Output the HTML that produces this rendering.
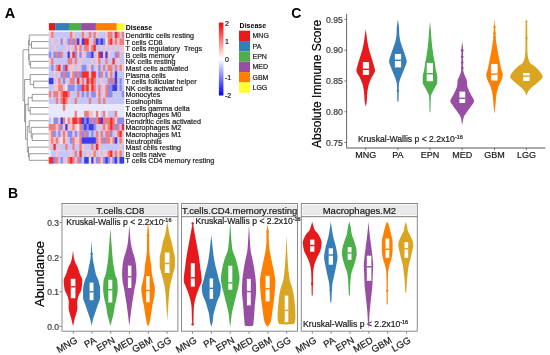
<!DOCTYPE html>
<html><head><meta charset="utf-8"><title>Figure</title>
<style>html,body{margin:0;padding:0;background:#fff;width:550px;height:355px;overflow:hidden}text{font-family:'Liberation Sans', sans-serif}</style></head>
<body><div style="width:550px;height:355px;background:#fff;will-change:transform"><svg width="550" height="355" viewBox="0 0 550 355" style="display:block;font-family:'Liberation Sans', sans-serif"><text x="4.8" y="17.9" font-size="14.5" fill="#000" stroke="#000" stroke-width="0" text-anchor="start" font-weight="bold" >A</text>
<rect x="48.9" y="23.1" width="6.20" height="7.3" fill="#E41A1C"/>
<rect x="55.1" y="23.1" width="13.90" height="7.3" fill="#377EB8"/>
<rect x="69.0" y="23.1" width="12.10" height="7.3" fill="#4DAF4A"/>
<rect x="81.1" y="23.1" width="14.80" height="7.3" fill="#984EA3"/>
<rect x="95.9" y="23.1" width="20.90" height="7.3" fill="#FF7F00"/>
<rect x="116.8" y="23.1" width="7.40" height="7.3" fill="#FFFF33"/>
<text x="125.7" y="29.9" font-size="7" fill="#000" stroke="#000" stroke-width="0" text-anchor="start" font-weight="bold" >Disease</text>
<defs><linearGradient id="hr0" gradientUnits="userSpaceOnUse" x1="48.70" y1="0" x2="124.20" y2="0"><stop offset="0.0000" stop-color="rgb(246,196,200)"/><stop offset="0.0233" stop-color="rgb(246,196,200)"/><stop offset="0.0392" stop-color="rgb(240,125,125)"/><stop offset="0.0546" stop-color="rgb(240,125,125)"/><stop offset="0.0704" stop-color="rgb(198,198,246)"/><stop offset="0.0858" stop-color="rgb(198,198,246)"/><stop offset="0.1017" stop-color="rgb(198,198,246)"/><stop offset="0.1171" stop-color="rgb(198,198,246)"/><stop offset="0.1329" stop-color="rgb(198,198,246)"/><stop offset="0.1483" stop-color="rgb(198,198,246)"/><stop offset="0.1642" stop-color="rgb(198,198,246)"/><stop offset="0.1796" stop-color="rgb(198,198,246)"/><stop offset="0.1954" stop-color="rgb(198,198,246)"/><stop offset="0.2108" stop-color="rgb(198,198,246)"/><stop offset="0.2267" stop-color="rgb(198,198,246)"/><stop offset="0.2421" stop-color="rgb(198,198,246)"/><stop offset="0.2579" stop-color="rgb(198,198,246)"/><stop offset="0.2733" stop-color="rgb(198,198,246)"/><stop offset="0.2892" stop-color="rgb(240,125,125)"/><stop offset="0.3046" stop-color="rgb(240,125,125)"/><stop offset="0.3204" stop-color="rgb(246,196,200)"/><stop offset="0.3358" stop-color="rgb(246,196,200)"/><stop offset="0.3517" stop-color="rgb(198,198,246)"/><stop offset="0.3671" stop-color="rgb(198,198,246)"/><stop offset="0.3829" stop-color="rgb(198,198,246)"/><stop offset="0.3983" stop-color="rgb(198,198,246)"/><stop offset="0.4142" stop-color="rgb(198,198,246)"/><stop offset="0.4296" stop-color="rgb(198,198,246)"/><stop offset="0.4454" stop-color="rgb(240,125,125)"/><stop offset="0.4608" stop-color="rgb(240,125,125)"/><stop offset="0.4767" stop-color="rgb(246,196,200)"/><stop offset="0.4921" stop-color="rgb(246,196,200)"/><stop offset="0.5079" stop-color="rgb(198,198,246)"/><stop offset="0.5233" stop-color="rgb(198,198,246)"/><stop offset="0.5392" stop-color="rgb(240,125,125)"/><stop offset="0.5546" stop-color="rgb(240,125,125)"/><stop offset="0.5704" stop-color="rgb(198,198,246)"/><stop offset="0.5858" stop-color="rgb(198,198,246)"/><stop offset="0.6017" stop-color="rgb(240,125,125)"/><stop offset="0.6171" stop-color="rgb(240,125,125)"/><stop offset="0.6329" stop-color="rgb(246,196,200)"/><stop offset="0.6483" stop-color="rgb(246,196,200)"/><stop offset="0.6642" stop-color="rgb(198,198,246)"/><stop offset="0.6796" stop-color="rgb(198,198,246)"/><stop offset="0.6954" stop-color="rgb(198,198,246)"/><stop offset="0.7108" stop-color="rgb(198,198,246)"/><stop offset="0.7267" stop-color="rgb(198,198,246)"/><stop offset="0.7421" stop-color="rgb(198,198,246)"/><stop offset="0.7579" stop-color="rgb(246,196,200)"/><stop offset="0.7733" stop-color="rgb(246,196,200)"/><stop offset="0.7892" stop-color="rgb(240,125,125)"/><stop offset="0.8046" stop-color="rgb(240,125,125)"/><stop offset="0.8204" stop-color="rgb(240,125,125)"/><stop offset="0.8358" stop-color="rgb(240,125,125)"/><stop offset="0.8517" stop-color="rgb(198,198,246)"/><stop offset="0.8671" stop-color="rgb(198,198,246)"/><stop offset="0.8829" stop-color="rgb(245,45,45)"/><stop offset="0.8983" stop-color="rgb(245,45,45)"/><stop offset="0.9142" stop-color="rgb(240,125,125)"/><stop offset="0.9296" stop-color="rgb(240,125,125)"/><stop offset="0.9454" stop-color="rgb(198,198,246)"/><stop offset="0.9608" stop-color="rgb(198,198,246)"/><stop offset="0.9767" stop-color="rgb(240,125,125)"/><stop offset="1.0000" stop-color="rgb(240,125,125)"/></linearGradient><linearGradient id="hr1" gradientUnits="userSpaceOnUse" x1="48.70" y1="0" x2="124.20" y2="0"><stop offset="0.0000" stop-color="rgb(198,198,246)"/><stop offset="0.0233" stop-color="rgb(198,198,246)"/><stop offset="0.0392" stop-color="rgb(246,196,200)"/><stop offset="0.0546" stop-color="rgb(246,196,200)"/><stop offset="0.0704" stop-color="rgb(198,198,246)"/><stop offset="0.0858" stop-color="rgb(198,198,246)"/><stop offset="0.1017" stop-color="rgb(198,198,246)"/><stop offset="0.1171" stop-color="rgb(198,198,246)"/><stop offset="0.1329" stop-color="rgb(246,196,200)"/><stop offset="0.1483" stop-color="rgb(246,196,200)"/><stop offset="0.1642" stop-color="rgb(140,140,240)"/><stop offset="0.1796" stop-color="rgb(140,140,240)"/><stop offset="0.1954" stop-color="rgb(246,196,200)"/><stop offset="0.2108" stop-color="rgb(246,196,200)"/><stop offset="0.2267" stop-color="rgb(198,198,246)"/><stop offset="0.2421" stop-color="rgb(198,198,246)"/><stop offset="0.2579" stop-color="rgb(140,140,240)"/><stop offset="0.2733" stop-color="rgb(140,140,240)"/><stop offset="0.2892" stop-color="rgb(240,125,125)"/><stop offset="0.3046" stop-color="rgb(240,125,125)"/><stop offset="0.3204" stop-color="rgb(140,140,240)"/><stop offset="0.3358" stop-color="rgb(140,140,240)"/><stop offset="0.3517" stop-color="rgb(240,125,125)"/><stop offset="0.3671" stop-color="rgb(240,125,125)"/><stop offset="0.3829" stop-color="rgb(60,60,236)"/><stop offset="0.3983" stop-color="rgb(60,60,236)"/><stop offset="0.4142" stop-color="rgb(246,196,200)"/><stop offset="0.4296" stop-color="rgb(246,196,200)"/><stop offset="0.4454" stop-color="rgb(60,60,236)"/><stop offset="0.4608" stop-color="rgb(60,60,236)"/><stop offset="0.4767" stop-color="rgb(245,45,45)"/><stop offset="0.4921" stop-color="rgb(245,45,45)"/><stop offset="0.5079" stop-color="rgb(245,45,45)"/><stop offset="0.5233" stop-color="rgb(245,45,45)"/><stop offset="0.5392" stop-color="rgb(246,196,200)"/><stop offset="0.5546" stop-color="rgb(246,196,200)"/><stop offset="0.5704" stop-color="rgb(198,198,246)"/><stop offset="0.5858" stop-color="rgb(198,198,246)"/><stop offset="0.6017" stop-color="rgb(240,125,125)"/><stop offset="0.6171" stop-color="rgb(240,125,125)"/><stop offset="0.6329" stop-color="rgb(60,60,236)"/><stop offset="0.6483" stop-color="rgb(60,60,236)"/><stop offset="0.6642" stop-color="rgb(140,140,240)"/><stop offset="0.6796" stop-color="rgb(140,140,240)"/><stop offset="0.6954" stop-color="rgb(60,60,236)"/><stop offset="0.7108" stop-color="rgb(60,60,236)"/><stop offset="0.7267" stop-color="rgb(140,140,240)"/><stop offset="0.7421" stop-color="rgb(140,140,240)"/><stop offset="0.7579" stop-color="rgb(232,232,250)"/><stop offset="0.7733" stop-color="rgb(232,232,250)"/><stop offset="0.7892" stop-color="rgb(240,125,125)"/><stop offset="0.8046" stop-color="rgb(240,125,125)"/><stop offset="0.8204" stop-color="rgb(245,45,45)"/><stop offset="0.8358" stop-color="rgb(245,45,45)"/><stop offset="0.8517" stop-color="rgb(246,196,200)"/><stop offset="0.8671" stop-color="rgb(246,196,200)"/><stop offset="0.8829" stop-color="rgb(240,125,125)"/><stop offset="0.8983" stop-color="rgb(240,125,125)"/><stop offset="0.9142" stop-color="rgb(246,196,200)"/><stop offset="0.9296" stop-color="rgb(246,196,200)"/><stop offset="0.9454" stop-color="rgb(240,125,125)"/><stop offset="0.9608" stop-color="rgb(240,125,125)"/><stop offset="0.9767" stop-color="rgb(240,125,125)"/><stop offset="1.0000" stop-color="rgb(240,125,125)"/></linearGradient><linearGradient id="hr2" gradientUnits="userSpaceOnUse" x1="48.70" y1="0" x2="124.20" y2="0"><stop offset="0.0000" stop-color="rgb(198,198,246)"/><stop offset="0.0233" stop-color="rgb(198,198,246)"/><stop offset="0.0392" stop-color="rgb(198,198,246)"/><stop offset="0.0546" stop-color="rgb(198,198,246)"/><stop offset="0.0704" stop-color="rgb(246,196,200)"/><stop offset="0.0858" stop-color="rgb(246,196,200)"/><stop offset="0.1017" stop-color="rgb(198,198,246)"/><stop offset="0.1171" stop-color="rgb(198,198,246)"/><stop offset="0.1329" stop-color="rgb(198,198,246)"/><stop offset="0.1483" stop-color="rgb(198,198,246)"/><stop offset="0.1642" stop-color="rgb(198,198,246)"/><stop offset="0.1796" stop-color="rgb(198,198,246)"/><stop offset="0.1954" stop-color="rgb(198,198,246)"/><stop offset="0.2108" stop-color="rgb(198,198,246)"/><stop offset="0.2267" stop-color="rgb(246,196,200)"/><stop offset="0.2421" stop-color="rgb(246,196,200)"/><stop offset="0.2579" stop-color="rgb(198,198,246)"/><stop offset="0.2733" stop-color="rgb(198,198,246)"/><stop offset="0.2892" stop-color="rgb(246,196,200)"/><stop offset="0.3046" stop-color="rgb(246,196,200)"/><stop offset="0.3204" stop-color="rgb(198,198,246)"/><stop offset="0.3358" stop-color="rgb(198,198,246)"/><stop offset="0.3517" stop-color="rgb(240,125,125)"/><stop offset="0.3671" stop-color="rgb(240,125,125)"/><stop offset="0.3829" stop-color="rgb(246,196,200)"/><stop offset="0.3983" stop-color="rgb(246,196,200)"/><stop offset="0.4142" stop-color="rgb(240,125,125)"/><stop offset="0.4296" stop-color="rgb(240,125,125)"/><stop offset="0.4454" stop-color="rgb(198,198,246)"/><stop offset="0.4608" stop-color="rgb(198,198,246)"/><stop offset="0.4767" stop-color="rgb(240,125,125)"/><stop offset="0.4921" stop-color="rgb(240,125,125)"/><stop offset="0.5079" stop-color="rgb(240,125,125)"/><stop offset="0.5233" stop-color="rgb(240,125,125)"/><stop offset="0.5392" stop-color="rgb(246,196,200)"/><stop offset="0.5546" stop-color="rgb(246,196,200)"/><stop offset="0.5704" stop-color="rgb(240,125,125)"/><stop offset="0.5858" stop-color="rgb(240,125,125)"/><stop offset="0.6017" stop-color="rgb(245,45,45)"/><stop offset="0.6171" stop-color="rgb(245,45,45)"/><stop offset="0.6329" stop-color="rgb(198,198,246)"/><stop offset="0.6483" stop-color="rgb(198,198,246)"/><stop offset="0.6642" stop-color="rgb(198,198,246)"/><stop offset="0.6796" stop-color="rgb(198,198,246)"/><stop offset="0.6954" stop-color="rgb(246,196,200)"/><stop offset="0.7108" stop-color="rgb(246,196,200)"/><stop offset="0.7267" stop-color="rgb(198,198,246)"/><stop offset="0.7421" stop-color="rgb(198,198,246)"/><stop offset="0.7579" stop-color="rgb(246,196,200)"/><stop offset="0.7733" stop-color="rgb(246,196,200)"/><stop offset="0.7892" stop-color="rgb(198,198,246)"/><stop offset="0.8046" stop-color="rgb(198,198,246)"/><stop offset="0.8204" stop-color="rgb(246,196,200)"/><stop offset="0.8358" stop-color="rgb(246,196,200)"/><stop offset="0.8517" stop-color="rgb(198,198,246)"/><stop offset="0.8671" stop-color="rgb(198,198,246)"/><stop offset="0.8829" stop-color="rgb(246,196,200)"/><stop offset="0.8983" stop-color="rgb(246,196,200)"/><stop offset="0.9142" stop-color="rgb(198,198,246)"/><stop offset="0.9296" stop-color="rgb(198,198,246)"/><stop offset="0.9454" stop-color="rgb(246,196,200)"/><stop offset="0.9608" stop-color="rgb(246,196,200)"/><stop offset="0.9767" stop-color="rgb(246,196,200)"/><stop offset="1.0000" stop-color="rgb(246,196,200)"/></linearGradient><linearGradient id="hr3" gradientUnits="userSpaceOnUse" x1="48.70" y1="0" x2="124.20" y2="0"><stop offset="0.0000" stop-color="rgb(140,140,240)"/><stop offset="0.0233" stop-color="rgb(140,140,240)"/><stop offset="0.0392" stop-color="rgb(198,198,246)"/><stop offset="0.0546" stop-color="rgb(198,198,246)"/><stop offset="0.0704" stop-color="rgb(140,140,240)"/><stop offset="0.0858" stop-color="rgb(140,140,240)"/><stop offset="0.1017" stop-color="rgb(240,125,125)"/><stop offset="0.1171" stop-color="rgb(240,125,125)"/><stop offset="0.1329" stop-color="rgb(140,140,240)"/><stop offset="0.1483" stop-color="rgb(140,140,240)"/><stop offset="0.1642" stop-color="rgb(240,125,125)"/><stop offset="0.1796" stop-color="rgb(240,125,125)"/><stop offset="0.1954" stop-color="rgb(198,198,246)"/><stop offset="0.2108" stop-color="rgb(198,198,246)"/><stop offset="0.2267" stop-color="rgb(198,198,246)"/><stop offset="0.2421" stop-color="rgb(198,198,246)"/><stop offset="0.2579" stop-color="rgb(60,60,236)"/><stop offset="0.2733" stop-color="rgb(60,60,236)"/><stop offset="0.2892" stop-color="rgb(246,196,200)"/><stop offset="0.3046" stop-color="rgb(246,196,200)"/><stop offset="0.3204" stop-color="rgb(245,45,45)"/><stop offset="0.3358" stop-color="rgb(245,45,45)"/><stop offset="0.3517" stop-color="rgb(140,140,240)"/><stop offset="0.3671" stop-color="rgb(140,140,240)"/><stop offset="0.3829" stop-color="rgb(246,196,200)"/><stop offset="0.3983" stop-color="rgb(246,196,200)"/><stop offset="0.4142" stop-color="rgb(140,140,240)"/><stop offset="0.4296" stop-color="rgb(140,140,240)"/><stop offset="0.4454" stop-color="rgb(246,196,200)"/><stop offset="0.4608" stop-color="rgb(246,196,200)"/><stop offset="0.4767" stop-color="rgb(198,198,246)"/><stop offset="0.4921" stop-color="rgb(198,198,246)"/><stop offset="0.5079" stop-color="rgb(140,140,240)"/><stop offset="0.5233" stop-color="rgb(140,140,240)"/><stop offset="0.5392" stop-color="rgb(140,140,240)"/><stop offset="0.5546" stop-color="rgb(140,140,240)"/><stop offset="0.5704" stop-color="rgb(60,60,236)"/><stop offset="0.5858" stop-color="rgb(60,60,236)"/><stop offset="0.6017" stop-color="rgb(198,198,246)"/><stop offset="0.6171" stop-color="rgb(198,198,246)"/><stop offset="0.6329" stop-color="rgb(246,196,200)"/><stop offset="0.6483" stop-color="rgb(246,196,200)"/><stop offset="0.6642" stop-color="rgb(245,45,45)"/><stop offset="0.6796" stop-color="rgb(245,45,45)"/><stop offset="0.6954" stop-color="rgb(60,60,236)"/><stop offset="0.7108" stop-color="rgb(60,60,236)"/><stop offset="0.7267" stop-color="rgb(246,196,200)"/><stop offset="0.7421" stop-color="rgb(246,196,200)"/><stop offset="0.7579" stop-color="rgb(60,60,236)"/><stop offset="0.7733" stop-color="rgb(60,60,236)"/><stop offset="0.7892" stop-color="rgb(246,196,200)"/><stop offset="0.8046" stop-color="rgb(246,196,200)"/><stop offset="0.8204" stop-color="rgb(198,198,246)"/><stop offset="0.8358" stop-color="rgb(198,198,246)"/><stop offset="0.8517" stop-color="rgb(198,198,246)"/><stop offset="0.8671" stop-color="rgb(198,198,246)"/><stop offset="0.8829" stop-color="rgb(140,140,240)"/><stop offset="0.8983" stop-color="rgb(140,140,240)"/><stop offset="0.9142" stop-color="rgb(240,125,125)"/><stop offset="0.9296" stop-color="rgb(240,125,125)"/><stop offset="0.9454" stop-color="rgb(198,198,246)"/><stop offset="0.9608" stop-color="rgb(198,198,246)"/><stop offset="0.9767" stop-color="rgb(198,198,246)"/><stop offset="1.0000" stop-color="rgb(198,198,246)"/></linearGradient><linearGradient id="hr4" gradientUnits="userSpaceOnUse" x1="48.70" y1="0" x2="124.20" y2="0"><stop offset="0.0000" stop-color="rgb(246,196,200)"/><stop offset="0.0233" stop-color="rgb(246,196,200)"/><stop offset="0.0392" stop-color="rgb(240,125,125)"/><stop offset="0.0546" stop-color="rgb(240,125,125)"/><stop offset="0.0704" stop-color="rgb(198,198,246)"/><stop offset="0.0858" stop-color="rgb(198,198,246)"/><stop offset="0.1017" stop-color="rgb(198,198,246)"/><stop offset="0.1171" stop-color="rgb(198,198,246)"/><stop offset="0.1329" stop-color="rgb(198,198,246)"/><stop offset="0.1483" stop-color="rgb(198,198,246)"/><stop offset="0.1642" stop-color="rgb(198,198,246)"/><stop offset="0.1796" stop-color="rgb(198,198,246)"/><stop offset="0.1954" stop-color="rgb(198,198,246)"/><stop offset="0.2108" stop-color="rgb(198,198,246)"/><stop offset="0.2267" stop-color="rgb(198,198,246)"/><stop offset="0.2421" stop-color="rgb(198,198,246)"/><stop offset="0.2579" stop-color="rgb(240,125,125)"/><stop offset="0.2733" stop-color="rgb(240,125,125)"/><stop offset="0.2892" stop-color="rgb(240,125,125)"/><stop offset="0.3046" stop-color="rgb(240,125,125)"/><stop offset="0.3204" stop-color="rgb(198,198,246)"/><stop offset="0.3358" stop-color="rgb(198,198,246)"/><stop offset="0.3517" stop-color="rgb(240,125,125)"/><stop offset="0.3671" stop-color="rgb(240,125,125)"/><stop offset="0.3829" stop-color="rgb(198,198,246)"/><stop offset="0.3983" stop-color="rgb(198,198,246)"/><stop offset="0.4142" stop-color="rgb(246,196,200)"/><stop offset="0.4296" stop-color="rgb(246,196,200)"/><stop offset="0.4454" stop-color="rgb(198,198,246)"/><stop offset="0.4608" stop-color="rgb(198,198,246)"/><stop offset="0.4767" stop-color="rgb(198,198,246)"/><stop offset="0.4921" stop-color="rgb(198,198,246)"/><stop offset="0.5079" stop-color="rgb(198,198,246)"/><stop offset="0.5233" stop-color="rgb(198,198,246)"/><stop offset="0.5392" stop-color="rgb(198,198,246)"/><stop offset="0.5546" stop-color="rgb(198,198,246)"/><stop offset="0.5704" stop-color="rgb(246,196,200)"/><stop offset="0.5858" stop-color="rgb(246,196,200)"/><stop offset="0.6017" stop-color="rgb(198,198,246)"/><stop offset="0.6171" stop-color="rgb(198,198,246)"/><stop offset="0.6329" stop-color="rgb(246,196,200)"/><stop offset="0.6483" stop-color="rgb(246,196,200)"/><stop offset="0.6642" stop-color="rgb(240,125,125)"/><stop offset="0.6796" stop-color="rgb(240,125,125)"/><stop offset="0.6954" stop-color="rgb(198,198,246)"/><stop offset="0.7108" stop-color="rgb(198,198,246)"/><stop offset="0.7267" stop-color="rgb(198,198,246)"/><stop offset="0.7421" stop-color="rgb(198,198,246)"/><stop offset="0.7579" stop-color="rgb(240,125,125)"/><stop offset="0.7733" stop-color="rgb(240,125,125)"/><stop offset="0.7892" stop-color="rgb(198,198,246)"/><stop offset="0.8046" stop-color="rgb(198,198,246)"/><stop offset="0.8204" stop-color="rgb(198,198,246)"/><stop offset="0.8358" stop-color="rgb(198,198,246)"/><stop offset="0.8517" stop-color="rgb(245,45,45)"/><stop offset="0.8671" stop-color="rgb(245,45,45)"/><stop offset="0.8829" stop-color="rgb(198,198,246)"/><stop offset="0.8983" stop-color="rgb(198,198,246)"/><stop offset="0.9142" stop-color="rgb(246,196,200)"/><stop offset="0.9296" stop-color="rgb(246,196,200)"/><stop offset="0.9454" stop-color="rgb(198,198,246)"/><stop offset="0.9608" stop-color="rgb(198,198,246)"/><stop offset="0.9767" stop-color="rgb(198,198,246)"/><stop offset="1.0000" stop-color="rgb(198,198,246)"/></linearGradient><linearGradient id="hr5" gradientUnits="userSpaceOnUse" x1="48.70" y1="0" x2="124.20" y2="0"><stop offset="0.0000" stop-color="rgb(198,198,246)"/><stop offset="0.0233" stop-color="rgb(198,198,246)"/><stop offset="0.0392" stop-color="rgb(140,140,240)"/><stop offset="0.0546" stop-color="rgb(140,140,240)"/><stop offset="0.0704" stop-color="rgb(198,198,246)"/><stop offset="0.0858" stop-color="rgb(198,198,246)"/><stop offset="0.1017" stop-color="rgb(240,125,125)"/><stop offset="0.1171" stop-color="rgb(240,125,125)"/><stop offset="0.1329" stop-color="rgb(245,45,45)"/><stop offset="0.1483" stop-color="rgb(245,45,45)"/><stop offset="0.1642" stop-color="rgb(198,198,246)"/><stop offset="0.1796" stop-color="rgb(198,198,246)"/><stop offset="0.1954" stop-color="rgb(140,140,240)"/><stop offset="0.2108" stop-color="rgb(140,140,240)"/><stop offset="0.2267" stop-color="rgb(245,45,45)"/><stop offset="0.2421" stop-color="rgb(245,45,45)"/><stop offset="0.2579" stop-color="rgb(198,198,246)"/><stop offset="0.2733" stop-color="rgb(198,198,246)"/><stop offset="0.2892" stop-color="rgb(246,196,200)"/><stop offset="0.3046" stop-color="rgb(246,196,200)"/><stop offset="0.3204" stop-color="rgb(246,196,200)"/><stop offset="0.3358" stop-color="rgb(246,196,200)"/><stop offset="0.3517" stop-color="rgb(198,198,246)"/><stop offset="0.3671" stop-color="rgb(198,198,246)"/><stop offset="0.3829" stop-color="rgb(246,196,200)"/><stop offset="0.3983" stop-color="rgb(246,196,200)"/><stop offset="0.4142" stop-color="rgb(198,198,246)"/><stop offset="0.4296" stop-color="rgb(198,198,246)"/><stop offset="0.4454" stop-color="rgb(140,140,240)"/><stop offset="0.4608" stop-color="rgb(140,140,240)"/><stop offset="0.4767" stop-color="rgb(140,140,240)"/><stop offset="0.4921" stop-color="rgb(140,140,240)"/><stop offset="0.5079" stop-color="rgb(198,198,246)"/><stop offset="0.5233" stop-color="rgb(198,198,246)"/><stop offset="0.5392" stop-color="rgb(246,196,200)"/><stop offset="0.5546" stop-color="rgb(246,196,200)"/><stop offset="0.5704" stop-color="rgb(140,140,240)"/><stop offset="0.5858" stop-color="rgb(140,140,240)"/><stop offset="0.6017" stop-color="rgb(198,198,246)"/><stop offset="0.6171" stop-color="rgb(198,198,246)"/><stop offset="0.6329" stop-color="rgb(246,196,200)"/><stop offset="0.6483" stop-color="rgb(246,196,200)"/><stop offset="0.6642" stop-color="rgb(140,140,240)"/><stop offset="0.6796" stop-color="rgb(140,140,240)"/><stop offset="0.6954" stop-color="rgb(198,198,246)"/><stop offset="0.7108" stop-color="rgb(198,198,246)"/><stop offset="0.7267" stop-color="rgb(240,125,125)"/><stop offset="0.7421" stop-color="rgb(240,125,125)"/><stop offset="0.7579" stop-color="rgb(198,198,246)"/><stop offset="0.7733" stop-color="rgb(198,198,246)"/><stop offset="0.7892" stop-color="rgb(240,125,125)"/><stop offset="0.8046" stop-color="rgb(240,125,125)"/><stop offset="0.8204" stop-color="rgb(240,125,125)"/><stop offset="0.8358" stop-color="rgb(240,125,125)"/><stop offset="0.8517" stop-color="rgb(198,198,246)"/><stop offset="0.8671" stop-color="rgb(198,198,246)"/><stop offset="0.8829" stop-color="rgb(240,125,125)"/><stop offset="0.8983" stop-color="rgb(240,125,125)"/><stop offset="0.9142" stop-color="rgb(198,198,246)"/><stop offset="0.9296" stop-color="rgb(198,198,246)"/><stop offset="0.9454" stop-color="rgb(240,125,125)"/><stop offset="0.9608" stop-color="rgb(240,125,125)"/><stop offset="0.9767" stop-color="rgb(246,196,200)"/><stop offset="1.0000" stop-color="rgb(246,196,200)"/></linearGradient><linearGradient id="hr6" gradientUnits="userSpaceOnUse" x1="48.70" y1="0" x2="124.20" y2="0"><stop offset="0.0000" stop-color="rgb(198,198,246)"/><stop offset="0.0233" stop-color="rgb(198,198,246)"/><stop offset="0.0392" stop-color="rgb(198,198,246)"/><stop offset="0.0546" stop-color="rgb(198,198,246)"/><stop offset="0.0704" stop-color="rgb(246,196,200)"/><stop offset="0.0858" stop-color="rgb(246,196,200)"/><stop offset="0.1017" stop-color="rgb(198,198,246)"/><stop offset="0.1171" stop-color="rgb(198,198,246)"/><stop offset="0.1329" stop-color="rgb(246,196,200)"/><stop offset="0.1483" stop-color="rgb(246,196,200)"/><stop offset="0.1642" stop-color="rgb(140,140,240)"/><stop offset="0.1796" stop-color="rgb(140,140,240)"/><stop offset="0.1954" stop-color="rgb(240,125,125)"/><stop offset="0.2108" stop-color="rgb(240,125,125)"/><stop offset="0.2267" stop-color="rgb(140,140,240)"/><stop offset="0.2421" stop-color="rgb(140,140,240)"/><stop offset="0.2579" stop-color="rgb(140,140,240)"/><stop offset="0.2733" stop-color="rgb(140,140,240)"/><stop offset="0.2892" stop-color="rgb(246,196,200)"/><stop offset="0.3046" stop-color="rgb(246,196,200)"/><stop offset="0.3204" stop-color="rgb(240,125,125)"/><stop offset="0.3358" stop-color="rgb(240,125,125)"/><stop offset="0.3517" stop-color="rgb(140,140,240)"/><stop offset="0.3671" stop-color="rgb(140,140,240)"/><stop offset="0.3829" stop-color="rgb(240,125,125)"/><stop offset="0.3983" stop-color="rgb(240,125,125)"/><stop offset="0.4142" stop-color="rgb(140,140,240)"/><stop offset="0.4296" stop-color="rgb(140,140,240)"/><stop offset="0.4454" stop-color="rgb(245,45,45)"/><stop offset="0.4608" stop-color="rgb(245,45,45)"/><stop offset="0.4767" stop-color="rgb(245,45,45)"/><stop offset="0.4921" stop-color="rgb(245,45,45)"/><stop offset="0.5079" stop-color="rgb(245,45,45)"/><stop offset="0.5233" stop-color="rgb(245,45,45)"/><stop offset="0.5392" stop-color="rgb(246,196,200)"/><stop offset="0.5546" stop-color="rgb(246,196,200)"/><stop offset="0.5704" stop-color="rgb(245,45,45)"/><stop offset="0.5858" stop-color="rgb(245,45,45)"/><stop offset="0.6017" stop-color="rgb(245,45,45)"/><stop offset="0.6171" stop-color="rgb(245,45,45)"/><stop offset="0.6329" stop-color="rgb(198,198,246)"/><stop offset="0.6483" stop-color="rgb(198,198,246)"/><stop offset="0.6642" stop-color="rgb(140,140,240)"/><stop offset="0.6796" stop-color="rgb(140,140,240)"/><stop offset="0.6954" stop-color="rgb(240,125,125)"/><stop offset="0.7108" stop-color="rgb(240,125,125)"/><stop offset="0.7267" stop-color="rgb(198,198,246)"/><stop offset="0.7421" stop-color="rgb(198,198,246)"/><stop offset="0.7579" stop-color="rgb(140,140,240)"/><stop offset="0.7733" stop-color="rgb(140,140,240)"/><stop offset="0.7892" stop-color="rgb(246,196,200)"/><stop offset="0.8046" stop-color="rgb(246,196,200)"/><stop offset="0.8204" stop-color="rgb(240,125,125)"/><stop offset="0.8358" stop-color="rgb(240,125,125)"/><stop offset="0.8517" stop-color="rgb(198,198,246)"/><stop offset="0.8671" stop-color="rgb(198,198,246)"/><stop offset="0.8829" stop-color="rgb(60,60,236)"/><stop offset="0.8983" stop-color="rgb(60,60,236)"/><stop offset="0.9142" stop-color="rgb(198,198,246)"/><stop offset="0.9296" stop-color="rgb(198,198,246)"/><stop offset="0.9454" stop-color="rgb(198,198,246)"/><stop offset="0.9608" stop-color="rgb(198,198,246)"/><stop offset="0.9767" stop-color="rgb(198,198,246)"/><stop offset="1.0000" stop-color="rgb(198,198,246)"/></linearGradient><linearGradient id="hr7" gradientUnits="userSpaceOnUse" x1="48.70" y1="0" x2="124.20" y2="0"><stop offset="0.0000" stop-color="rgb(60,60,236)"/><stop offset="0.0233" stop-color="rgb(60,60,236)"/><stop offset="0.0392" stop-color="rgb(60,60,236)"/><stop offset="0.0546" stop-color="rgb(60,60,236)"/><stop offset="0.0704" stop-color="rgb(198,198,246)"/><stop offset="0.0858" stop-color="rgb(198,198,246)"/><stop offset="0.1017" stop-color="rgb(246,196,200)"/><stop offset="0.1171" stop-color="rgb(246,196,200)"/><stop offset="0.1329" stop-color="rgb(240,125,125)"/><stop offset="0.1483" stop-color="rgb(240,125,125)"/><stop offset="0.1642" stop-color="rgb(198,198,246)"/><stop offset="0.1796" stop-color="rgb(198,198,246)"/><stop offset="0.1954" stop-color="rgb(140,140,240)"/><stop offset="0.2108" stop-color="rgb(140,140,240)"/><stop offset="0.2267" stop-color="rgb(246,196,200)"/><stop offset="0.2421" stop-color="rgb(246,196,200)"/><stop offset="0.2579" stop-color="rgb(198,198,246)"/><stop offset="0.2733" stop-color="rgb(198,198,246)"/><stop offset="0.2892" stop-color="rgb(240,125,125)"/><stop offset="0.3046" stop-color="rgb(240,125,125)"/><stop offset="0.3204" stop-color="rgb(240,125,125)"/><stop offset="0.3358" stop-color="rgb(240,125,125)"/><stop offset="0.3517" stop-color="rgb(198,198,246)"/><stop offset="0.3671" stop-color="rgb(198,198,246)"/><stop offset="0.3829" stop-color="rgb(245,45,45)"/><stop offset="0.3983" stop-color="rgb(245,45,45)"/><stop offset="0.4142" stop-color="rgb(246,196,200)"/><stop offset="0.4296" stop-color="rgb(246,196,200)"/><stop offset="0.4454" stop-color="rgb(240,125,125)"/><stop offset="0.4608" stop-color="rgb(240,125,125)"/><stop offset="0.4767" stop-color="rgb(198,198,246)"/><stop offset="0.4921" stop-color="rgb(198,198,246)"/><stop offset="0.5079" stop-color="rgb(245,45,45)"/><stop offset="0.5233" stop-color="rgb(245,45,45)"/><stop offset="0.5392" stop-color="rgb(240,125,125)"/><stop offset="0.5546" stop-color="rgb(240,125,125)"/><stop offset="0.5704" stop-color="rgb(245,45,45)"/><stop offset="0.5858" stop-color="rgb(245,45,45)"/><stop offset="0.6017" stop-color="rgb(240,125,125)"/><stop offset="0.6171" stop-color="rgb(240,125,125)"/><stop offset="0.6329" stop-color="rgb(198,198,246)"/><stop offset="0.6483" stop-color="rgb(198,198,246)"/><stop offset="0.6642" stop-color="rgb(198,198,246)"/><stop offset="0.6796" stop-color="rgb(198,198,246)"/><stop offset="0.6954" stop-color="rgb(246,196,200)"/><stop offset="0.7108" stop-color="rgb(246,196,200)"/><stop offset="0.7267" stop-color="rgb(198,198,246)"/><stop offset="0.7421" stop-color="rgb(198,198,246)"/><stop offset="0.7579" stop-color="rgb(198,198,246)"/><stop offset="0.7733" stop-color="rgb(198,198,246)"/><stop offset="0.7892" stop-color="rgb(240,125,125)"/><stop offset="0.8046" stop-color="rgb(240,125,125)"/><stop offset="0.8204" stop-color="rgb(140,140,240)"/><stop offset="0.8358" stop-color="rgb(140,140,240)"/><stop offset="0.8517" stop-color="rgb(240,125,125)"/><stop offset="0.8671" stop-color="rgb(240,125,125)"/><stop offset="0.8829" stop-color="rgb(60,60,236)"/><stop offset="0.8983" stop-color="rgb(60,60,236)"/><stop offset="0.9142" stop-color="rgb(198,198,246)"/><stop offset="0.9296" stop-color="rgb(198,198,246)"/><stop offset="0.9454" stop-color="rgb(140,140,240)"/><stop offset="0.9608" stop-color="rgb(140,140,240)"/><stop offset="0.9767" stop-color="rgb(198,198,246)"/><stop offset="1.0000" stop-color="rgb(198,198,246)"/></linearGradient><linearGradient id="hr8" gradientUnits="userSpaceOnUse" x1="48.70" y1="0" x2="124.20" y2="0"><stop offset="0.0000" stop-color="rgb(198,198,246)"/><stop offset="0.0233" stop-color="rgb(198,198,246)"/><stop offset="0.0392" stop-color="rgb(198,198,246)"/><stop offset="0.0546" stop-color="rgb(198,198,246)"/><stop offset="0.0704" stop-color="rgb(246,196,200)"/><stop offset="0.0858" stop-color="rgb(246,196,200)"/><stop offset="0.1017" stop-color="rgb(246,196,200)"/><stop offset="0.1171" stop-color="rgb(246,196,200)"/><stop offset="0.1329" stop-color="rgb(240,125,125)"/><stop offset="0.1483" stop-color="rgb(240,125,125)"/><stop offset="0.1642" stop-color="rgb(240,125,125)"/><stop offset="0.1796" stop-color="rgb(240,125,125)"/><stop offset="0.1954" stop-color="rgb(246,196,200)"/><stop offset="0.2108" stop-color="rgb(246,196,200)"/><stop offset="0.2267" stop-color="rgb(232,232,250)"/><stop offset="0.2421" stop-color="rgb(232,232,250)"/><stop offset="0.2579" stop-color="rgb(140,140,240)"/><stop offset="0.2733" stop-color="rgb(140,140,240)"/><stop offset="0.2892" stop-color="rgb(140,140,240)"/><stop offset="0.3046" stop-color="rgb(140,140,240)"/><stop offset="0.3204" stop-color="rgb(140,140,240)"/><stop offset="0.3358" stop-color="rgb(140,140,240)"/><stop offset="0.3517" stop-color="rgb(198,198,246)"/><stop offset="0.3671" stop-color="rgb(198,198,246)"/><stop offset="0.3829" stop-color="rgb(140,140,240)"/><stop offset="0.3983" stop-color="rgb(140,140,240)"/><stop offset="0.4142" stop-color="rgb(140,140,240)"/><stop offset="0.4296" stop-color="rgb(140,140,240)"/><stop offset="0.4454" stop-color="rgb(245,45,45)"/><stop offset="0.4608" stop-color="rgb(245,45,45)"/><stop offset="0.4767" stop-color="rgb(240,125,125)"/><stop offset="0.4921" stop-color="rgb(240,125,125)"/><stop offset="0.5079" stop-color="rgb(245,45,45)"/><stop offset="0.5233" stop-color="rgb(245,45,45)"/><stop offset="0.5392" stop-color="rgb(246,196,200)"/><stop offset="0.5546" stop-color="rgb(246,196,200)"/><stop offset="0.5704" stop-color="rgb(245,45,45)"/><stop offset="0.5858" stop-color="rgb(245,45,45)"/><stop offset="0.6017" stop-color="rgb(240,125,125)"/><stop offset="0.6171" stop-color="rgb(240,125,125)"/><stop offset="0.6329" stop-color="rgb(198,198,246)"/><stop offset="0.6483" stop-color="rgb(198,198,246)"/><stop offset="0.6642" stop-color="rgb(240,125,125)"/><stop offset="0.6796" stop-color="rgb(240,125,125)"/><stop offset="0.6954" stop-color="rgb(198,198,246)"/><stop offset="0.7108" stop-color="rgb(198,198,246)"/><stop offset="0.7267" stop-color="rgb(246,196,200)"/><stop offset="0.7421" stop-color="rgb(246,196,200)"/><stop offset="0.7579" stop-color="rgb(240,125,125)"/><stop offset="0.7733" stop-color="rgb(240,125,125)"/><stop offset="0.7892" stop-color="rgb(140,140,240)"/><stop offset="0.8046" stop-color="rgb(140,140,240)"/><stop offset="0.8204" stop-color="rgb(140,140,240)"/><stop offset="0.8358" stop-color="rgb(140,140,240)"/><stop offset="0.8517" stop-color="rgb(60,60,236)"/><stop offset="0.8671" stop-color="rgb(60,60,236)"/><stop offset="0.8829" stop-color="rgb(60,60,236)"/><stop offset="0.8983" stop-color="rgb(60,60,236)"/><stop offset="0.9142" stop-color="rgb(198,198,246)"/><stop offset="0.9296" stop-color="rgb(198,198,246)"/><stop offset="0.9454" stop-color="rgb(140,140,240)"/><stop offset="0.9608" stop-color="rgb(140,140,240)"/><stop offset="0.9767" stop-color="rgb(198,198,246)"/><stop offset="1.0000" stop-color="rgb(198,198,246)"/></linearGradient><linearGradient id="hr9" gradientUnits="userSpaceOnUse" x1="48.70" y1="0" x2="124.20" y2="0"><stop offset="0.0000" stop-color="rgb(240,125,125)"/><stop offset="0.0233" stop-color="rgb(240,125,125)"/><stop offset="0.0392" stop-color="rgb(198,198,246)"/><stop offset="0.0546" stop-color="rgb(198,198,246)"/><stop offset="0.0704" stop-color="rgb(240,125,125)"/><stop offset="0.0858" stop-color="rgb(240,125,125)"/><stop offset="0.1017" stop-color="rgb(240,125,125)"/><stop offset="0.1171" stop-color="rgb(240,125,125)"/><stop offset="0.1329" stop-color="rgb(246,196,200)"/><stop offset="0.1483" stop-color="rgb(246,196,200)"/><stop offset="0.1642" stop-color="rgb(240,125,125)"/><stop offset="0.1796" stop-color="rgb(240,125,125)"/><stop offset="0.1954" stop-color="rgb(245,45,45)"/><stop offset="0.2108" stop-color="rgb(245,45,45)"/><stop offset="0.2267" stop-color="rgb(245,45,45)"/><stop offset="0.2421" stop-color="rgb(245,45,45)"/><stop offset="0.2579" stop-color="rgb(240,125,125)"/><stop offset="0.2733" stop-color="rgb(240,125,125)"/><stop offset="0.2892" stop-color="rgb(198,198,246)"/><stop offset="0.3046" stop-color="rgb(198,198,246)"/><stop offset="0.3204" stop-color="rgb(198,198,246)"/><stop offset="0.3358" stop-color="rgb(198,198,246)"/><stop offset="0.3517" stop-color="rgb(198,198,246)"/><stop offset="0.3671" stop-color="rgb(198,198,246)"/><stop offset="0.3829" stop-color="rgb(240,125,125)"/><stop offset="0.3983" stop-color="rgb(240,125,125)"/><stop offset="0.4142" stop-color="rgb(198,198,246)"/><stop offset="0.4296" stop-color="rgb(198,198,246)"/><stop offset="0.4454" stop-color="rgb(140,140,240)"/><stop offset="0.4608" stop-color="rgb(140,140,240)"/><stop offset="0.4767" stop-color="rgb(198,198,246)"/><stop offset="0.4921" stop-color="rgb(198,198,246)"/><stop offset="0.5079" stop-color="rgb(140,140,240)"/><stop offset="0.5233" stop-color="rgb(140,140,240)"/><stop offset="0.5392" stop-color="rgb(198,198,246)"/><stop offset="0.5546" stop-color="rgb(198,198,246)"/><stop offset="0.5704" stop-color="rgb(140,140,240)"/><stop offset="0.5858" stop-color="rgb(140,140,240)"/><stop offset="0.6017" stop-color="rgb(140,140,240)"/><stop offset="0.6171" stop-color="rgb(140,140,240)"/><stop offset="0.6329" stop-color="rgb(246,196,200)"/><stop offset="0.6483" stop-color="rgb(246,196,200)"/><stop offset="0.6642" stop-color="rgb(240,125,125)"/><stop offset="0.6796" stop-color="rgb(240,125,125)"/><stop offset="0.6954" stop-color="rgb(198,198,246)"/><stop offset="0.7108" stop-color="rgb(198,198,246)"/><stop offset="0.7267" stop-color="rgb(246,196,200)"/><stop offset="0.7421" stop-color="rgb(246,196,200)"/><stop offset="0.7579" stop-color="rgb(240,125,125)"/><stop offset="0.7733" stop-color="rgb(240,125,125)"/><stop offset="0.7892" stop-color="rgb(140,140,240)"/><stop offset="0.8046" stop-color="rgb(140,140,240)"/><stop offset="0.8204" stop-color="rgb(140,140,240)"/><stop offset="0.8358" stop-color="rgb(140,140,240)"/><stop offset="0.8517" stop-color="rgb(198,198,246)"/><stop offset="0.8671" stop-color="rgb(198,198,246)"/><stop offset="0.8829" stop-color="rgb(198,198,246)"/><stop offset="0.8983" stop-color="rgb(198,198,246)"/><stop offset="0.9142" stop-color="rgb(198,198,246)"/><stop offset="0.9296" stop-color="rgb(198,198,246)"/><stop offset="0.9454" stop-color="rgb(198,198,246)"/><stop offset="0.9608" stop-color="rgb(198,198,246)"/><stop offset="0.9767" stop-color="rgb(140,140,240)"/><stop offset="1.0000" stop-color="rgb(140,140,240)"/></linearGradient><linearGradient id="hr10" gradientUnits="userSpaceOnUse" x1="48.70" y1="0" x2="124.20" y2="0"><stop offset="0.0000" stop-color="rgb(198,198,246)"/><stop offset="0.0233" stop-color="rgb(198,198,246)"/><stop offset="0.0392" stop-color="rgb(198,198,246)"/><stop offset="0.0546" stop-color="rgb(198,198,246)"/><stop offset="0.0704" stop-color="rgb(198,198,246)"/><stop offset="0.0858" stop-color="rgb(198,198,246)"/><stop offset="0.1017" stop-color="rgb(240,125,125)"/><stop offset="0.1171" stop-color="rgb(240,125,125)"/><stop offset="0.1329" stop-color="rgb(198,198,246)"/><stop offset="0.1483" stop-color="rgb(198,198,246)"/><stop offset="0.1642" stop-color="rgb(240,125,125)"/><stop offset="0.1796" stop-color="rgb(240,125,125)"/><stop offset="0.1954" stop-color="rgb(245,45,45)"/><stop offset="0.2108" stop-color="rgb(245,45,45)"/><stop offset="0.2267" stop-color="rgb(240,125,125)"/><stop offset="0.2421" stop-color="rgb(240,125,125)"/><stop offset="0.2579" stop-color="rgb(246,196,200)"/><stop offset="0.2733" stop-color="rgb(246,196,200)"/><stop offset="0.2892" stop-color="rgb(198,198,246)"/><stop offset="0.3046" stop-color="rgb(198,198,246)"/><stop offset="0.3204" stop-color="rgb(198,198,246)"/><stop offset="0.3358" stop-color="rgb(198,198,246)"/><stop offset="0.3517" stop-color="rgb(240,125,125)"/><stop offset="0.3671" stop-color="rgb(240,125,125)"/><stop offset="0.3829" stop-color="rgb(198,198,246)"/><stop offset="0.3983" stop-color="rgb(198,198,246)"/><stop offset="0.4142" stop-color="rgb(198,198,246)"/><stop offset="0.4296" stop-color="rgb(198,198,246)"/><stop offset="0.4454" stop-color="rgb(198,198,246)"/><stop offset="0.4608" stop-color="rgb(198,198,246)"/><stop offset="0.4767" stop-color="rgb(198,198,246)"/><stop offset="0.4921" stop-color="rgb(198,198,246)"/><stop offset="0.5079" stop-color="rgb(198,198,246)"/><stop offset="0.5233" stop-color="rgb(198,198,246)"/><stop offset="0.5392" stop-color="rgb(240,125,125)"/><stop offset="0.5546" stop-color="rgb(240,125,125)"/><stop offset="0.5704" stop-color="rgb(198,198,246)"/><stop offset="0.5858" stop-color="rgb(198,198,246)"/><stop offset="0.6017" stop-color="rgb(198,198,246)"/><stop offset="0.6171" stop-color="rgb(198,198,246)"/><stop offset="0.6329" stop-color="rgb(198,198,246)"/><stop offset="0.6483" stop-color="rgb(198,198,246)"/><stop offset="0.6642" stop-color="rgb(240,125,125)"/><stop offset="0.6796" stop-color="rgb(240,125,125)"/><stop offset="0.6954" stop-color="rgb(198,198,246)"/><stop offset="0.7108" stop-color="rgb(198,198,246)"/><stop offset="0.7267" stop-color="rgb(240,125,125)"/><stop offset="0.7421" stop-color="rgb(240,125,125)"/><stop offset="0.7579" stop-color="rgb(198,198,246)"/><stop offset="0.7733" stop-color="rgb(198,198,246)"/><stop offset="0.7892" stop-color="rgb(198,198,246)"/><stop offset="0.8046" stop-color="rgb(198,198,246)"/><stop offset="0.8204" stop-color="rgb(198,198,246)"/><stop offset="0.8358" stop-color="rgb(198,198,246)"/><stop offset="0.8517" stop-color="rgb(198,198,246)"/><stop offset="0.8671" stop-color="rgb(198,198,246)"/><stop offset="0.8829" stop-color="rgb(198,198,246)"/><stop offset="0.8983" stop-color="rgb(198,198,246)"/><stop offset="0.9142" stop-color="rgb(198,198,246)"/><stop offset="0.9296" stop-color="rgb(198,198,246)"/><stop offset="0.9454" stop-color="rgb(198,198,246)"/><stop offset="0.9608" stop-color="rgb(198,198,246)"/><stop offset="0.9767" stop-color="rgb(198,198,246)"/><stop offset="1.0000" stop-color="rgb(198,198,246)"/></linearGradient><linearGradient id="hr11" gradientUnits="userSpaceOnUse" x1="48.70" y1="0" x2="124.20" y2="0"><stop offset="0.0000" stop-color="rgb(232,232,250)"/><stop offset="0.0233" stop-color="rgb(232,232,250)"/><stop offset="0.0392" stop-color="rgb(232,232,250)"/><stop offset="0.0546" stop-color="rgb(232,232,250)"/><stop offset="0.0704" stop-color="rgb(232,232,250)"/><stop offset="0.0858" stop-color="rgb(232,232,250)"/><stop offset="0.1017" stop-color="rgb(232,232,250)"/><stop offset="0.1171" stop-color="rgb(232,232,250)"/><stop offset="0.1329" stop-color="rgb(232,232,250)"/><stop offset="0.1483" stop-color="rgb(232,232,250)"/><stop offset="0.1642" stop-color="rgb(232,232,250)"/><stop offset="0.1796" stop-color="rgb(232,232,250)"/><stop offset="0.1954" stop-color="rgb(240,125,125)"/><stop offset="0.2108" stop-color="rgb(240,125,125)"/><stop offset="0.2267" stop-color="rgb(232,232,250)"/><stop offset="0.2421" stop-color="rgb(232,232,250)"/><stop offset="0.2579" stop-color="rgb(232,232,250)"/><stop offset="0.2733" stop-color="rgb(232,232,250)"/><stop offset="0.2892" stop-color="rgb(232,232,250)"/><stop offset="0.3046" stop-color="rgb(232,232,250)"/><stop offset="0.3204" stop-color="rgb(232,232,250)"/><stop offset="0.3358" stop-color="rgb(232,232,250)"/><stop offset="0.3517" stop-color="rgb(232,232,250)"/><stop offset="0.3671" stop-color="rgb(232,232,250)"/><stop offset="0.3829" stop-color="rgb(232,232,250)"/><stop offset="0.3983" stop-color="rgb(232,232,250)"/><stop offset="0.4142" stop-color="rgb(232,232,250)"/><stop offset="0.4296" stop-color="rgb(232,232,250)"/><stop offset="0.4454" stop-color="rgb(232,232,250)"/><stop offset="0.4608" stop-color="rgb(232,232,250)"/><stop offset="0.4767" stop-color="rgb(232,232,250)"/><stop offset="0.4921" stop-color="rgb(232,232,250)"/><stop offset="0.5079" stop-color="rgb(232,232,250)"/><stop offset="0.5233" stop-color="rgb(232,232,250)"/><stop offset="0.5392" stop-color="rgb(232,232,250)"/><stop offset="0.5546" stop-color="rgb(232,232,250)"/><stop offset="0.5704" stop-color="rgb(232,232,250)"/><stop offset="0.5858" stop-color="rgb(232,232,250)"/><stop offset="0.6017" stop-color="rgb(232,232,250)"/><stop offset="0.6171" stop-color="rgb(232,232,250)"/><stop offset="0.6329" stop-color="rgb(232,232,250)"/><stop offset="0.6483" stop-color="rgb(232,232,250)"/><stop offset="0.6642" stop-color="rgb(232,232,250)"/><stop offset="0.6796" stop-color="rgb(232,232,250)"/><stop offset="0.6954" stop-color="rgb(232,232,250)"/><stop offset="0.7108" stop-color="rgb(232,232,250)"/><stop offset="0.7267" stop-color="rgb(232,232,250)"/><stop offset="0.7421" stop-color="rgb(232,232,250)"/><stop offset="0.7579" stop-color="rgb(232,232,250)"/><stop offset="0.7733" stop-color="rgb(232,232,250)"/><stop offset="0.7892" stop-color="rgb(232,232,250)"/><stop offset="0.8046" stop-color="rgb(232,232,250)"/><stop offset="0.8204" stop-color="rgb(232,232,250)"/><stop offset="0.8358" stop-color="rgb(232,232,250)"/><stop offset="0.8517" stop-color="rgb(232,232,250)"/><stop offset="0.8671" stop-color="rgb(232,232,250)"/><stop offset="0.8829" stop-color="rgb(232,232,250)"/><stop offset="0.8983" stop-color="rgb(232,232,250)"/><stop offset="0.9142" stop-color="rgb(232,232,250)"/><stop offset="0.9296" stop-color="rgb(232,232,250)"/><stop offset="0.9454" stop-color="rgb(232,232,250)"/><stop offset="0.9608" stop-color="rgb(232,232,250)"/><stop offset="0.9767" stop-color="rgb(232,232,250)"/><stop offset="1.0000" stop-color="rgb(232,232,250)"/></linearGradient><linearGradient id="hr12" gradientUnits="userSpaceOnUse" x1="48.70" y1="0" x2="124.20" y2="0"><stop offset="0.0000" stop-color="rgb(232,232,250)"/><stop offset="0.0233" stop-color="rgb(232,232,250)"/><stop offset="0.0392" stop-color="rgb(232,232,250)"/><stop offset="0.0546" stop-color="rgb(232,232,250)"/><stop offset="0.0704" stop-color="rgb(232,232,250)"/><stop offset="0.0858" stop-color="rgb(232,232,250)"/><stop offset="0.1017" stop-color="rgb(232,232,250)"/><stop offset="0.1171" stop-color="rgb(232,232,250)"/><stop offset="0.1329" stop-color="rgb(232,232,250)"/><stop offset="0.1483" stop-color="rgb(232,232,250)"/><stop offset="0.1642" stop-color="rgb(232,232,250)"/><stop offset="0.1796" stop-color="rgb(232,232,250)"/><stop offset="0.1954" stop-color="rgb(232,232,250)"/><stop offset="0.2108" stop-color="rgb(232,232,250)"/><stop offset="0.2267" stop-color="rgb(232,232,250)"/><stop offset="0.2421" stop-color="rgb(232,232,250)"/><stop offset="0.2579" stop-color="rgb(232,232,250)"/><stop offset="0.2733" stop-color="rgb(232,232,250)"/><stop offset="0.2892" stop-color="rgb(232,232,250)"/><stop offset="0.3046" stop-color="rgb(232,232,250)"/><stop offset="0.3204" stop-color="rgb(232,232,250)"/><stop offset="0.3358" stop-color="rgb(232,232,250)"/><stop offset="0.3517" stop-color="rgb(240,125,125)"/><stop offset="0.3671" stop-color="rgb(240,125,125)"/><stop offset="0.3829" stop-color="rgb(232,232,250)"/><stop offset="0.3983" stop-color="rgb(232,232,250)"/><stop offset="0.4142" stop-color="rgb(232,232,250)"/><stop offset="0.4296" stop-color="rgb(232,232,250)"/><stop offset="0.4454" stop-color="rgb(232,232,250)"/><stop offset="0.4608" stop-color="rgb(232,232,250)"/><stop offset="0.4767" stop-color="rgb(240,125,125)"/><stop offset="0.4921" stop-color="rgb(240,125,125)"/><stop offset="0.5079" stop-color="rgb(240,125,125)"/><stop offset="0.5233" stop-color="rgb(240,125,125)"/><stop offset="0.5392" stop-color="rgb(246,196,200)"/><stop offset="0.5546" stop-color="rgb(246,196,200)"/><stop offset="0.5704" stop-color="rgb(246,196,200)"/><stop offset="0.5858" stop-color="rgb(246,196,200)"/><stop offset="0.6017" stop-color="rgb(232,232,250)"/><stop offset="0.6171" stop-color="rgb(232,232,250)"/><stop offset="0.6329" stop-color="rgb(240,125,125)"/><stop offset="0.6483" stop-color="rgb(240,125,125)"/><stop offset="0.6642" stop-color="rgb(232,232,250)"/><stop offset="0.6796" stop-color="rgb(232,232,250)"/><stop offset="0.6954" stop-color="rgb(198,198,246)"/><stop offset="0.7108" stop-color="rgb(198,198,246)"/><stop offset="0.7267" stop-color="rgb(240,125,125)"/><stop offset="0.7421" stop-color="rgb(240,125,125)"/><stop offset="0.7579" stop-color="rgb(232,232,250)"/><stop offset="0.7733" stop-color="rgb(232,232,250)"/><stop offset="0.7892" stop-color="rgb(198,198,246)"/><stop offset="0.8046" stop-color="rgb(198,198,246)"/><stop offset="0.8204" stop-color="rgb(198,198,246)"/><stop offset="0.8358" stop-color="rgb(198,198,246)"/><stop offset="0.8517" stop-color="rgb(198,198,246)"/><stop offset="0.8671" stop-color="rgb(198,198,246)"/><stop offset="0.8829" stop-color="rgb(240,125,125)"/><stop offset="0.8983" stop-color="rgb(240,125,125)"/><stop offset="0.9142" stop-color="rgb(232,232,250)"/><stop offset="0.9296" stop-color="rgb(232,232,250)"/><stop offset="0.9454" stop-color="rgb(232,232,250)"/><stop offset="0.9608" stop-color="rgb(232,232,250)"/><stop offset="0.9767" stop-color="rgb(232,232,250)"/><stop offset="1.0000" stop-color="rgb(232,232,250)"/></linearGradient><linearGradient id="hr13" gradientUnits="userSpaceOnUse" x1="48.70" y1="0" x2="124.20" y2="0"><stop offset="0.0000" stop-color="rgb(198,198,246)"/><stop offset="0.0233" stop-color="rgb(198,198,246)"/><stop offset="0.0392" stop-color="rgb(232,232,250)"/><stop offset="0.0546" stop-color="rgb(232,232,250)"/><stop offset="0.0704" stop-color="rgb(140,140,240)"/><stop offset="0.0858" stop-color="rgb(140,140,240)"/><stop offset="0.1017" stop-color="rgb(140,140,240)"/><stop offset="0.1171" stop-color="rgb(140,140,240)"/><stop offset="0.1329" stop-color="rgb(246,196,200)"/><stop offset="0.1483" stop-color="rgb(246,196,200)"/><stop offset="0.1642" stop-color="rgb(60,60,236)"/><stop offset="0.1796" stop-color="rgb(60,60,236)"/><stop offset="0.1954" stop-color="rgb(240,125,125)"/><stop offset="0.2108" stop-color="rgb(240,125,125)"/><stop offset="0.2267" stop-color="rgb(232,232,250)"/><stop offset="0.2421" stop-color="rgb(232,232,250)"/><stop offset="0.2579" stop-color="rgb(240,125,125)"/><stop offset="0.2733" stop-color="rgb(240,125,125)"/><stop offset="0.2892" stop-color="rgb(246,196,200)"/><stop offset="0.3046" stop-color="rgb(246,196,200)"/><stop offset="0.3204" stop-color="rgb(245,45,45)"/><stop offset="0.3358" stop-color="rgb(245,45,45)"/><stop offset="0.3517" stop-color="rgb(245,45,45)"/><stop offset="0.3671" stop-color="rgb(245,45,45)"/><stop offset="0.3829" stop-color="rgb(240,125,125)"/><stop offset="0.3983" stop-color="rgb(240,125,125)"/><stop offset="0.4142" stop-color="rgb(245,45,45)"/><stop offset="0.4296" stop-color="rgb(245,45,45)"/><stop offset="0.4454" stop-color="rgb(60,60,236)"/><stop offset="0.4608" stop-color="rgb(60,60,236)"/><stop offset="0.4767" stop-color="rgb(140,140,240)"/><stop offset="0.4921" stop-color="rgb(140,140,240)"/><stop offset="0.5079" stop-color="rgb(60,60,236)"/><stop offset="0.5233" stop-color="rgb(60,60,236)"/><stop offset="0.5392" stop-color="rgb(140,140,240)"/><stop offset="0.5546" stop-color="rgb(140,140,240)"/><stop offset="0.5704" stop-color="rgb(240,125,125)"/><stop offset="0.5858" stop-color="rgb(240,125,125)"/><stop offset="0.6017" stop-color="rgb(140,140,240)"/><stop offset="0.6171" stop-color="rgb(140,140,240)"/><stop offset="0.6329" stop-color="rgb(240,125,125)"/><stop offset="0.6483" stop-color="rgb(240,125,125)"/><stop offset="0.6642" stop-color="rgb(245,45,45)"/><stop offset="0.6796" stop-color="rgb(245,45,45)"/><stop offset="0.6954" stop-color="rgb(60,60,236)"/><stop offset="0.7108" stop-color="rgb(60,60,236)"/><stop offset="0.7267" stop-color="rgb(240,125,125)"/><stop offset="0.7421" stop-color="rgb(240,125,125)"/><stop offset="0.7579" stop-color="rgb(240,125,125)"/><stop offset="0.7733" stop-color="rgb(240,125,125)"/><stop offset="0.7892" stop-color="rgb(240,125,125)"/><stop offset="0.8046" stop-color="rgb(240,125,125)"/><stop offset="0.8204" stop-color="rgb(245,45,45)"/><stop offset="0.8358" stop-color="rgb(245,45,45)"/><stop offset="0.8517" stop-color="rgb(240,125,125)"/><stop offset="0.8671" stop-color="rgb(240,125,125)"/><stop offset="0.8829" stop-color="rgb(246,196,200)"/><stop offset="0.8983" stop-color="rgb(246,196,200)"/><stop offset="0.9142" stop-color="rgb(140,140,240)"/><stop offset="0.9296" stop-color="rgb(140,140,240)"/><stop offset="0.9454" stop-color="rgb(140,140,240)"/><stop offset="0.9608" stop-color="rgb(140,140,240)"/><stop offset="0.9767" stop-color="rgb(140,140,240)"/><stop offset="1.0000" stop-color="rgb(140,140,240)"/></linearGradient><linearGradient id="hr14" gradientUnits="userSpaceOnUse" x1="48.70" y1="0" x2="124.20" y2="0"><stop offset="0.0000" stop-color="rgb(240,125,125)"/><stop offset="0.0233" stop-color="rgb(240,125,125)"/><stop offset="0.0392" stop-color="rgb(240,125,125)"/><stop offset="0.0546" stop-color="rgb(240,125,125)"/><stop offset="0.0704" stop-color="rgb(240,125,125)"/><stop offset="0.0858" stop-color="rgb(240,125,125)"/><stop offset="0.1017" stop-color="rgb(246,196,200)"/><stop offset="0.1171" stop-color="rgb(246,196,200)"/><stop offset="0.1329" stop-color="rgb(240,125,125)"/><stop offset="0.1483" stop-color="rgb(240,125,125)"/><stop offset="0.1642" stop-color="rgb(140,140,240)"/><stop offset="0.1796" stop-color="rgb(140,140,240)"/><stop offset="0.1954" stop-color="rgb(246,196,200)"/><stop offset="0.2108" stop-color="rgb(246,196,200)"/><stop offset="0.2267" stop-color="rgb(60,60,236)"/><stop offset="0.2421" stop-color="rgb(60,60,236)"/><stop offset="0.2579" stop-color="rgb(246,196,200)"/><stop offset="0.2733" stop-color="rgb(246,196,200)"/><stop offset="0.2892" stop-color="rgb(246,196,200)"/><stop offset="0.3046" stop-color="rgb(246,196,200)"/><stop offset="0.3204" stop-color="rgb(240,125,125)"/><stop offset="0.3358" stop-color="rgb(240,125,125)"/><stop offset="0.3517" stop-color="rgb(246,196,200)"/><stop offset="0.3671" stop-color="rgb(246,196,200)"/><stop offset="0.3829" stop-color="rgb(232,232,250)"/><stop offset="0.3983" stop-color="rgb(232,232,250)"/><stop offset="0.4142" stop-color="rgb(240,125,125)"/><stop offset="0.4296" stop-color="rgb(240,125,125)"/><stop offset="0.4454" stop-color="rgb(140,140,240)"/><stop offset="0.4608" stop-color="rgb(140,140,240)"/><stop offset="0.4767" stop-color="rgb(60,60,236)"/><stop offset="0.4921" stop-color="rgb(60,60,236)"/><stop offset="0.5079" stop-color="rgb(140,140,240)"/><stop offset="0.5233" stop-color="rgb(140,140,240)"/><stop offset="0.5392" stop-color="rgb(60,60,236)"/><stop offset="0.5546" stop-color="rgb(60,60,236)"/><stop offset="0.5704" stop-color="rgb(60,60,236)"/><stop offset="0.5858" stop-color="rgb(60,60,236)"/><stop offset="0.6017" stop-color="rgb(140,140,240)"/><stop offset="0.6171" stop-color="rgb(140,140,240)"/><stop offset="0.6329" stop-color="rgb(198,198,246)"/><stop offset="0.6483" stop-color="rgb(198,198,246)"/><stop offset="0.6642" stop-color="rgb(246,196,200)"/><stop offset="0.6796" stop-color="rgb(246,196,200)"/><stop offset="0.6954" stop-color="rgb(198,198,246)"/><stop offset="0.7108" stop-color="rgb(198,198,246)"/><stop offset="0.7267" stop-color="rgb(240,125,125)"/><stop offset="0.7421" stop-color="rgb(240,125,125)"/><stop offset="0.7579" stop-color="rgb(246,196,200)"/><stop offset="0.7733" stop-color="rgb(246,196,200)"/><stop offset="0.7892" stop-color="rgb(240,125,125)"/><stop offset="0.8046" stop-color="rgb(240,125,125)"/><stop offset="0.8204" stop-color="rgb(245,45,45)"/><stop offset="0.8358" stop-color="rgb(245,45,45)"/><stop offset="0.8517" stop-color="rgb(240,125,125)"/><stop offset="0.8671" stop-color="rgb(240,125,125)"/><stop offset="0.8829" stop-color="rgb(140,140,240)"/><stop offset="0.8983" stop-color="rgb(140,140,240)"/><stop offset="0.9142" stop-color="rgb(240,125,125)"/><stop offset="0.9296" stop-color="rgb(240,125,125)"/><stop offset="0.9454" stop-color="rgb(198,198,246)"/><stop offset="0.9608" stop-color="rgb(198,198,246)"/><stop offset="0.9767" stop-color="rgb(245,45,45)"/><stop offset="1.0000" stop-color="rgb(245,45,45)"/></linearGradient><linearGradient id="hr15" gradientUnits="userSpaceOnUse" x1="48.70" y1="0" x2="124.20" y2="0"><stop offset="0.0000" stop-color="rgb(246,196,200)"/><stop offset="0.0233" stop-color="rgb(246,196,200)"/><stop offset="0.0392" stop-color="rgb(240,125,125)"/><stop offset="0.0546" stop-color="rgb(240,125,125)"/><stop offset="0.0704" stop-color="rgb(140,140,240)"/><stop offset="0.0858" stop-color="rgb(140,140,240)"/><stop offset="0.1017" stop-color="rgb(198,198,246)"/><stop offset="0.1171" stop-color="rgb(198,198,246)"/><stop offset="0.1329" stop-color="rgb(140,140,240)"/><stop offset="0.1483" stop-color="rgb(140,140,240)"/><stop offset="0.1642" stop-color="rgb(246,196,200)"/><stop offset="0.1796" stop-color="rgb(246,196,200)"/><stop offset="0.1954" stop-color="rgb(240,125,125)"/><stop offset="0.2108" stop-color="rgb(240,125,125)"/><stop offset="0.2267" stop-color="rgb(246,196,200)"/><stop offset="0.2421" stop-color="rgb(246,196,200)"/><stop offset="0.2579" stop-color="rgb(140,140,240)"/><stop offset="0.2733" stop-color="rgb(140,140,240)"/><stop offset="0.2892" stop-color="rgb(140,140,240)"/><stop offset="0.3046" stop-color="rgb(140,140,240)"/><stop offset="0.3204" stop-color="rgb(246,196,200)"/><stop offset="0.3358" stop-color="rgb(246,196,200)"/><stop offset="0.3517" stop-color="rgb(140,140,240)"/><stop offset="0.3671" stop-color="rgb(140,140,240)"/><stop offset="0.3829" stop-color="rgb(198,198,246)"/><stop offset="0.3983" stop-color="rgb(198,198,246)"/><stop offset="0.4142" stop-color="rgb(240,125,125)"/><stop offset="0.4296" stop-color="rgb(240,125,125)"/><stop offset="0.4454" stop-color="rgb(140,140,240)"/><stop offset="0.4608" stop-color="rgb(140,140,240)"/><stop offset="0.4767" stop-color="rgb(240,125,125)"/><stop offset="0.4921" stop-color="rgb(240,125,125)"/><stop offset="0.5079" stop-color="rgb(140,140,240)"/><stop offset="0.5233" stop-color="rgb(140,140,240)"/><stop offset="0.5392" stop-color="rgb(198,198,246)"/><stop offset="0.5546" stop-color="rgb(198,198,246)"/><stop offset="0.5704" stop-color="rgb(140,140,240)"/><stop offset="0.5858" stop-color="rgb(140,140,240)"/><stop offset="0.6017" stop-color="rgb(198,198,246)"/><stop offset="0.6171" stop-color="rgb(198,198,246)"/><stop offset="0.6329" stop-color="rgb(240,125,125)"/><stop offset="0.6483" stop-color="rgb(240,125,125)"/><stop offset="0.6642" stop-color="rgb(198,198,246)"/><stop offset="0.6796" stop-color="rgb(198,198,246)"/><stop offset="0.6954" stop-color="rgb(240,125,125)"/><stop offset="0.7108" stop-color="rgb(240,125,125)"/><stop offset="0.7267" stop-color="rgb(198,198,246)"/><stop offset="0.7421" stop-color="rgb(198,198,246)"/><stop offset="0.7579" stop-color="rgb(240,125,125)"/><stop offset="0.7733" stop-color="rgb(240,125,125)"/><stop offset="0.7892" stop-color="rgb(240,125,125)"/><stop offset="0.8046" stop-color="rgb(240,125,125)"/><stop offset="0.8204" stop-color="rgb(140,140,240)"/><stop offset="0.8358" stop-color="rgb(140,140,240)"/><stop offset="0.8517" stop-color="rgb(198,198,246)"/><stop offset="0.8671" stop-color="rgb(198,198,246)"/><stop offset="0.8829" stop-color="rgb(246,196,200)"/><stop offset="0.8983" stop-color="rgb(246,196,200)"/><stop offset="0.9142" stop-color="rgb(240,125,125)"/><stop offset="0.9296" stop-color="rgb(240,125,125)"/><stop offset="0.9454" stop-color="rgb(245,45,45)"/><stop offset="0.9608" stop-color="rgb(245,45,45)"/><stop offset="0.9767" stop-color="rgb(246,196,200)"/><stop offset="1.0000" stop-color="rgb(246,196,200)"/></linearGradient><linearGradient id="hr16" gradientUnits="userSpaceOnUse" x1="48.70" y1="0" x2="124.20" y2="0"><stop offset="0.0000" stop-color="rgb(246,196,200)"/><stop offset="0.0233" stop-color="rgb(246,196,200)"/><stop offset="0.0392" stop-color="rgb(240,125,125)"/><stop offset="0.0546" stop-color="rgb(240,125,125)"/><stop offset="0.0704" stop-color="rgb(246,196,200)"/><stop offset="0.0858" stop-color="rgb(246,196,200)"/><stop offset="0.1017" stop-color="rgb(240,125,125)"/><stop offset="0.1171" stop-color="rgb(240,125,125)"/><stop offset="0.1329" stop-color="rgb(246,196,200)"/><stop offset="0.1483" stop-color="rgb(246,196,200)"/><stop offset="0.1642" stop-color="rgb(232,232,250)"/><stop offset="0.1796" stop-color="rgb(232,232,250)"/><stop offset="0.1954" stop-color="rgb(240,125,125)"/><stop offset="0.2108" stop-color="rgb(240,125,125)"/><stop offset="0.2267" stop-color="rgb(246,196,200)"/><stop offset="0.2421" stop-color="rgb(246,196,200)"/><stop offset="0.2579" stop-color="rgb(198,198,246)"/><stop offset="0.2733" stop-color="rgb(198,198,246)"/><stop offset="0.2892" stop-color="rgb(140,140,240)"/><stop offset="0.3046" stop-color="rgb(140,140,240)"/><stop offset="0.3204" stop-color="rgb(240,125,125)"/><stop offset="0.3358" stop-color="rgb(240,125,125)"/><stop offset="0.3517" stop-color="rgb(246,196,200)"/><stop offset="0.3671" stop-color="rgb(246,196,200)"/><stop offset="0.3829" stop-color="rgb(246,196,200)"/><stop offset="0.3983" stop-color="rgb(246,196,200)"/><stop offset="0.4142" stop-color="rgb(240,125,125)"/><stop offset="0.4296" stop-color="rgb(240,125,125)"/><stop offset="0.4454" stop-color="rgb(60,60,236)"/><stop offset="0.4608" stop-color="rgb(60,60,236)"/><stop offset="0.4767" stop-color="rgb(60,60,236)"/><stop offset="0.4921" stop-color="rgb(60,60,236)"/><stop offset="0.5079" stop-color="rgb(60,60,236)"/><stop offset="0.5233" stop-color="rgb(60,60,236)"/><stop offset="0.5392" stop-color="rgb(60,60,236)"/><stop offset="0.5546" stop-color="rgb(60,60,236)"/><stop offset="0.5704" stop-color="rgb(60,60,236)"/><stop offset="0.5858" stop-color="rgb(60,60,236)"/><stop offset="0.6017" stop-color="rgb(60,60,236)"/><stop offset="0.6171" stop-color="rgb(60,60,236)"/><stop offset="0.6329" stop-color="rgb(240,125,125)"/><stop offset="0.6483" stop-color="rgb(240,125,125)"/><stop offset="0.6642" stop-color="rgb(246,196,200)"/><stop offset="0.6796" stop-color="rgb(246,196,200)"/><stop offset="0.6954" stop-color="rgb(240,125,125)"/><stop offset="0.7108" stop-color="rgb(240,125,125)"/><stop offset="0.7267" stop-color="rgb(140,140,240)"/><stop offset="0.7421" stop-color="rgb(140,140,240)"/><stop offset="0.7579" stop-color="rgb(240,125,125)"/><stop offset="0.7733" stop-color="rgb(240,125,125)"/><stop offset="0.7892" stop-color="rgb(240,125,125)"/><stop offset="0.8046" stop-color="rgb(240,125,125)"/><stop offset="0.8204" stop-color="rgb(246,196,200)"/><stop offset="0.8358" stop-color="rgb(246,196,200)"/><stop offset="0.8517" stop-color="rgb(240,125,125)"/><stop offset="0.8671" stop-color="rgb(240,125,125)"/><stop offset="0.8829" stop-color="rgb(60,60,236)"/><stop offset="0.8983" stop-color="rgb(60,60,236)"/><stop offset="0.9142" stop-color="rgb(198,198,246)"/><stop offset="0.9296" stop-color="rgb(198,198,246)"/><stop offset="0.9454" stop-color="rgb(240,125,125)"/><stop offset="0.9608" stop-color="rgb(240,125,125)"/><stop offset="0.9767" stop-color="rgb(246,196,200)"/><stop offset="1.0000" stop-color="rgb(246,196,200)"/></linearGradient><linearGradient id="hr17" gradientUnits="userSpaceOnUse" x1="48.70" y1="0" x2="124.20" y2="0"><stop offset="0.0000" stop-color="rgb(246,196,200)"/><stop offset="0.0233" stop-color="rgb(246,196,200)"/><stop offset="0.0392" stop-color="rgb(198,198,246)"/><stop offset="0.0546" stop-color="rgb(198,198,246)"/><stop offset="0.0704" stop-color="rgb(245,45,45)"/><stop offset="0.0858" stop-color="rgb(245,45,45)"/><stop offset="0.1017" stop-color="rgb(198,198,246)"/><stop offset="0.1171" stop-color="rgb(198,198,246)"/><stop offset="0.1329" stop-color="rgb(246,196,200)"/><stop offset="0.1483" stop-color="rgb(246,196,200)"/><stop offset="0.1642" stop-color="rgb(198,198,246)"/><stop offset="0.1796" stop-color="rgb(198,198,246)"/><stop offset="0.1954" stop-color="rgb(198,198,246)"/><stop offset="0.2108" stop-color="rgb(198,198,246)"/><stop offset="0.2267" stop-color="rgb(240,125,125)"/><stop offset="0.2421" stop-color="rgb(240,125,125)"/><stop offset="0.2579" stop-color="rgb(198,198,246)"/><stop offset="0.2733" stop-color="rgb(198,198,246)"/><stop offset="0.2892" stop-color="rgb(198,198,246)"/><stop offset="0.3046" stop-color="rgb(198,198,246)"/><stop offset="0.3204" stop-color="rgb(240,125,125)"/><stop offset="0.3358" stop-color="rgb(240,125,125)"/><stop offset="0.3517" stop-color="rgb(198,198,246)"/><stop offset="0.3671" stop-color="rgb(198,198,246)"/><stop offset="0.3829" stop-color="rgb(198,198,246)"/><stop offset="0.3983" stop-color="rgb(198,198,246)"/><stop offset="0.4142" stop-color="rgb(240,125,125)"/><stop offset="0.4296" stop-color="rgb(240,125,125)"/><stop offset="0.4454" stop-color="rgb(246,196,200)"/><stop offset="0.4608" stop-color="rgb(246,196,200)"/><stop offset="0.4767" stop-color="rgb(198,198,246)"/><stop offset="0.4921" stop-color="rgb(198,198,246)"/><stop offset="0.5079" stop-color="rgb(198,198,246)"/><stop offset="0.5233" stop-color="rgb(198,198,246)"/><stop offset="0.5392" stop-color="rgb(198,198,246)"/><stop offset="0.5546" stop-color="rgb(198,198,246)"/><stop offset="0.5704" stop-color="rgb(240,125,125)"/><stop offset="0.5858" stop-color="rgb(240,125,125)"/><stop offset="0.6017" stop-color="rgb(198,198,246)"/><stop offset="0.6171" stop-color="rgb(198,198,246)"/><stop offset="0.6329" stop-color="rgb(245,45,45)"/><stop offset="0.6483" stop-color="rgb(245,45,45)"/><stop offset="0.6642" stop-color="rgb(246,196,200)"/><stop offset="0.6796" stop-color="rgb(246,196,200)"/><stop offset="0.6954" stop-color="rgb(198,198,246)"/><stop offset="0.7108" stop-color="rgb(198,198,246)"/><stop offset="0.7267" stop-color="rgb(198,198,246)"/><stop offset="0.7421" stop-color="rgb(198,198,246)"/><stop offset="0.7579" stop-color="rgb(198,198,246)"/><stop offset="0.7733" stop-color="rgb(198,198,246)"/><stop offset="0.7892" stop-color="rgb(198,198,246)"/><stop offset="0.8046" stop-color="rgb(198,198,246)"/><stop offset="0.8204" stop-color="rgb(198,198,246)"/><stop offset="0.8358" stop-color="rgb(198,198,246)"/><stop offset="0.8517" stop-color="rgb(198,198,246)"/><stop offset="0.8671" stop-color="rgb(198,198,246)"/><stop offset="0.8829" stop-color="rgb(198,198,246)"/><stop offset="0.8983" stop-color="rgb(198,198,246)"/><stop offset="0.9142" stop-color="rgb(198,198,246)"/><stop offset="0.9296" stop-color="rgb(198,198,246)"/><stop offset="0.9454" stop-color="rgb(246,196,200)"/><stop offset="0.9608" stop-color="rgb(246,196,200)"/><stop offset="0.9767" stop-color="rgb(198,198,246)"/><stop offset="1.0000" stop-color="rgb(198,198,246)"/></linearGradient><linearGradient id="hr18" gradientUnits="userSpaceOnUse" x1="48.70" y1="0" x2="124.20" y2="0"><stop offset="0.0000" stop-color="rgb(232,232,250)"/><stop offset="0.0233" stop-color="rgb(232,232,250)"/><stop offset="0.0392" stop-color="rgb(198,198,246)"/><stop offset="0.0546" stop-color="rgb(198,198,246)"/><stop offset="0.0704" stop-color="rgb(198,198,246)"/><stop offset="0.0858" stop-color="rgb(198,198,246)"/><stop offset="0.1017" stop-color="rgb(246,196,200)"/><stop offset="0.1171" stop-color="rgb(246,196,200)"/><stop offset="0.1329" stop-color="rgb(198,198,246)"/><stop offset="0.1483" stop-color="rgb(198,198,246)"/><stop offset="0.1642" stop-color="rgb(198,198,246)"/><stop offset="0.1796" stop-color="rgb(198,198,246)"/><stop offset="0.1954" stop-color="rgb(198,198,246)"/><stop offset="0.2108" stop-color="rgb(198,198,246)"/><stop offset="0.2267" stop-color="rgb(198,198,246)"/><stop offset="0.2421" stop-color="rgb(198,198,246)"/><stop offset="0.2579" stop-color="rgb(198,198,246)"/><stop offset="0.2733" stop-color="rgb(198,198,246)"/><stop offset="0.2892" stop-color="rgb(246,196,200)"/><stop offset="0.3046" stop-color="rgb(246,196,200)"/><stop offset="0.3204" stop-color="rgb(198,198,246)"/><stop offset="0.3358" stop-color="rgb(198,198,246)"/><stop offset="0.3517" stop-color="rgb(240,125,125)"/><stop offset="0.3671" stop-color="rgb(240,125,125)"/><stop offset="0.3829" stop-color="rgb(198,198,246)"/><stop offset="0.3983" stop-color="rgb(198,198,246)"/><stop offset="0.4142" stop-color="rgb(245,45,45)"/><stop offset="0.4296" stop-color="rgb(245,45,45)"/><stop offset="0.4454" stop-color="rgb(198,198,246)"/><stop offset="0.4608" stop-color="rgb(198,198,246)"/><stop offset="0.4767" stop-color="rgb(198,198,246)"/><stop offset="0.4921" stop-color="rgb(198,198,246)"/><stop offset="0.5079" stop-color="rgb(246,196,200)"/><stop offset="0.5233" stop-color="rgb(246,196,200)"/><stop offset="0.5392" stop-color="rgb(198,198,246)"/><stop offset="0.5546" stop-color="rgb(198,198,246)"/><stop offset="0.5704" stop-color="rgb(246,196,200)"/><stop offset="0.5858" stop-color="rgb(246,196,200)"/><stop offset="0.6017" stop-color="rgb(240,125,125)"/><stop offset="0.6171" stop-color="rgb(240,125,125)"/><stop offset="0.6329" stop-color="rgb(198,198,246)"/><stop offset="0.6483" stop-color="rgb(198,198,246)"/><stop offset="0.6642" stop-color="rgb(246,196,200)"/><stop offset="0.6796" stop-color="rgb(246,196,200)"/><stop offset="0.6954" stop-color="rgb(198,198,246)"/><stop offset="0.7108" stop-color="rgb(198,198,246)"/><stop offset="0.7267" stop-color="rgb(246,196,200)"/><stop offset="0.7421" stop-color="rgb(246,196,200)"/><stop offset="0.7579" stop-color="rgb(246,196,200)"/><stop offset="0.7733" stop-color="rgb(246,196,200)"/><stop offset="0.7892" stop-color="rgb(240,125,125)"/><stop offset="0.8046" stop-color="rgb(240,125,125)"/><stop offset="0.8204" stop-color="rgb(245,45,45)"/><stop offset="0.8358" stop-color="rgb(245,45,45)"/><stop offset="0.8517" stop-color="rgb(198,198,246)"/><stop offset="0.8671" stop-color="rgb(198,198,246)"/><stop offset="0.8829" stop-color="rgb(240,125,125)"/><stop offset="0.8983" stop-color="rgb(240,125,125)"/><stop offset="0.9142" stop-color="rgb(246,196,200)"/><stop offset="0.9296" stop-color="rgb(246,196,200)"/><stop offset="0.9454" stop-color="rgb(240,125,125)"/><stop offset="0.9608" stop-color="rgb(240,125,125)"/><stop offset="0.9767" stop-color="rgb(198,198,246)"/><stop offset="1.0000" stop-color="rgb(198,198,246)"/></linearGradient><linearGradient id="hr19" gradientUnits="userSpaceOnUse" x1="48.70" y1="0" x2="124.20" y2="0"><stop offset="0.0000" stop-color="rgb(245,45,45)"/><stop offset="0.0233" stop-color="rgb(245,45,45)"/><stop offset="0.0392" stop-color="rgb(245,45,45)"/><stop offset="0.0546" stop-color="rgb(245,45,45)"/><stop offset="0.0704" stop-color="rgb(140,140,240)"/><stop offset="0.0858" stop-color="rgb(140,140,240)"/><stop offset="0.1017" stop-color="rgb(240,125,125)"/><stop offset="0.1171" stop-color="rgb(240,125,125)"/><stop offset="0.1329" stop-color="rgb(198,198,246)"/><stop offset="0.1483" stop-color="rgb(198,198,246)"/><stop offset="0.1642" stop-color="rgb(140,140,240)"/><stop offset="0.1796" stop-color="rgb(140,140,240)"/><stop offset="0.1954" stop-color="rgb(198,198,246)"/><stop offset="0.2108" stop-color="rgb(198,198,246)"/><stop offset="0.2267" stop-color="rgb(246,196,200)"/><stop offset="0.2421" stop-color="rgb(246,196,200)"/><stop offset="0.2579" stop-color="rgb(240,125,125)"/><stop offset="0.2733" stop-color="rgb(240,125,125)"/><stop offset="0.2892" stop-color="rgb(245,45,45)"/><stop offset="0.3046" stop-color="rgb(245,45,45)"/><stop offset="0.3204" stop-color="rgb(240,125,125)"/><stop offset="0.3358" stop-color="rgb(240,125,125)"/><stop offset="0.3517" stop-color="rgb(198,198,246)"/><stop offset="0.3671" stop-color="rgb(198,198,246)"/><stop offset="0.3829" stop-color="rgb(240,125,125)"/><stop offset="0.3983" stop-color="rgb(240,125,125)"/><stop offset="0.4142" stop-color="rgb(140,140,240)"/><stop offset="0.4296" stop-color="rgb(140,140,240)"/><stop offset="0.4454" stop-color="rgb(198,198,246)"/><stop offset="0.4608" stop-color="rgb(198,198,246)"/><stop offset="0.4767" stop-color="rgb(60,60,236)"/><stop offset="0.4921" stop-color="rgb(60,60,236)"/><stop offset="0.5079" stop-color="rgb(60,60,236)"/><stop offset="0.5233" stop-color="rgb(60,60,236)"/><stop offset="0.5392" stop-color="rgb(232,232,250)"/><stop offset="0.5546" stop-color="rgb(232,232,250)"/><stop offset="0.5704" stop-color="rgb(60,60,236)"/><stop offset="0.5858" stop-color="rgb(60,60,236)"/><stop offset="0.6017" stop-color="rgb(246,196,200)"/><stop offset="0.6171" stop-color="rgb(246,196,200)"/><stop offset="0.6329" stop-color="rgb(140,140,240)"/><stop offset="0.6483" stop-color="rgb(140,140,240)"/><stop offset="0.6642" stop-color="rgb(240,125,125)"/><stop offset="0.6796" stop-color="rgb(240,125,125)"/><stop offset="0.6954" stop-color="rgb(246,196,200)"/><stop offset="0.7108" stop-color="rgb(246,196,200)"/><stop offset="0.7267" stop-color="rgb(140,140,240)"/><stop offset="0.7421" stop-color="rgb(140,140,240)"/><stop offset="0.7579" stop-color="rgb(60,60,236)"/><stop offset="0.7733" stop-color="rgb(60,60,236)"/><stop offset="0.7892" stop-color="rgb(140,140,240)"/><stop offset="0.8046" stop-color="rgb(140,140,240)"/><stop offset="0.8204" stop-color="rgb(246,196,200)"/><stop offset="0.8358" stop-color="rgb(246,196,200)"/><stop offset="0.8517" stop-color="rgb(140,140,240)"/><stop offset="0.8671" stop-color="rgb(140,140,240)"/><stop offset="0.8829" stop-color="rgb(60,60,236)"/><stop offset="0.8983" stop-color="rgb(60,60,236)"/><stop offset="0.9142" stop-color="rgb(198,198,246)"/><stop offset="0.9296" stop-color="rgb(198,198,246)"/><stop offset="0.9454" stop-color="rgb(60,60,236)"/><stop offset="0.9608" stop-color="rgb(60,60,236)"/><stop offset="0.9767" stop-color="rgb(60,60,236)"/><stop offset="1.0000" stop-color="rgb(60,60,236)"/></linearGradient></defs>
<rect x="48.70" y="31.70" width="75.50" height="6.66" fill="url(#hr0)"/>
<rect x="48.70" y="38.30" width="75.50" height="6.66" fill="url(#hr1)"/>
<rect x="48.70" y="44.89" width="75.50" height="6.66" fill="url(#hr2)"/>
<rect x="48.70" y="51.48" width="75.50" height="6.66" fill="url(#hr3)"/>
<rect x="48.70" y="58.08" width="75.50" height="6.66" fill="url(#hr4)"/>
<rect x="48.70" y="64.67" width="75.50" height="6.66" fill="url(#hr5)"/>
<rect x="48.70" y="71.27" width="75.50" height="6.66" fill="url(#hr6)"/>
<rect x="48.70" y="77.87" width="75.50" height="6.66" fill="url(#hr7)"/>
<rect x="48.70" y="84.46" width="75.50" height="6.66" fill="url(#hr8)"/>
<rect x="48.70" y="91.06" width="75.50" height="6.66" fill="url(#hr9)"/>
<rect x="48.70" y="97.65" width="75.50" height="6.66" fill="url(#hr10)"/>
<rect x="48.70" y="104.25" width="75.50" height="6.66" fill="url(#hr11)"/>
<rect x="48.70" y="110.84" width="75.50" height="6.66" fill="url(#hr12)"/>
<rect x="48.70" y="117.44" width="75.50" height="6.66" fill="url(#hr13)"/>
<rect x="48.70" y="124.03" width="75.50" height="6.66" fill="url(#hr14)"/>
<rect x="48.70" y="130.62" width="75.50" height="6.66" fill="url(#hr15)"/>
<rect x="48.70" y="137.22" width="75.50" height="6.66" fill="url(#hr16)"/>
<rect x="48.70" y="143.81" width="75.50" height="6.66" fill="url(#hr17)"/>
<rect x="48.70" y="150.41" width="75.50" height="6.66" fill="url(#hr18)"/>
<rect x="48.70" y="157.00" width="75.50" height="6.66" fill="url(#hr19)"/>
<text x="125.6" y="38.09" font-size="7.2" fill="#1a1a1a" stroke="#1a1a1a" stroke-width="0.2" text-anchor="start" font-weight="normal" >Dendritic cells resting</text>
<text x="125.6" y="44.69" font-size="7.2" fill="#1a1a1a" stroke="#1a1a1a" stroke-width="0.2" text-anchor="start" font-weight="normal" >T cells CD8</text>
<text x="125.6" y="51.28" font-size="7.2" fill="#1a1a1a" stroke="#1a1a1a" stroke-width="0.2" text-anchor="start" font-weight="normal" >T cells regulatory&#160; Tregs</text>
<text x="125.6" y="57.88" font-size="7.2" fill="#1a1a1a" stroke="#1a1a1a" stroke-width="0.2" text-anchor="start" font-weight="normal" >B cells memory</text>
<text x="125.6" y="64.47" font-size="7.2" fill="#1a1a1a" stroke="#1a1a1a" stroke-width="0.2" text-anchor="start" font-weight="normal" >NK cells resting</text>
<text x="125.6" y="71.07" font-size="7.2" fill="#1a1a1a" stroke="#1a1a1a" stroke-width="0.2" text-anchor="start" font-weight="normal" >Mast cells activated</text>
<text x="125.6" y="77.67" font-size="7.2" fill="#1a1a1a" stroke="#1a1a1a" stroke-width="0.2" text-anchor="start" font-weight="normal" >Plasma cells</text>
<text x="125.6" y="84.26" font-size="7.2" fill="#1a1a1a" stroke="#1a1a1a" stroke-width="0.2" text-anchor="start" font-weight="normal" >T cells follicular helper</text>
<text x="125.6" y="90.86" font-size="7.2" fill="#1a1a1a" stroke="#1a1a1a" stroke-width="0.2" text-anchor="start" font-weight="normal" >NK cells activated</text>
<text x="125.6" y="97.45" font-size="7.2" fill="#1a1a1a" stroke="#1a1a1a" stroke-width="0.2" text-anchor="start" font-weight="normal" >Monocytes</text>
<text x="125.6" y="104.05" font-size="7.2" fill="#1a1a1a" stroke="#1a1a1a" stroke-width="0.2" text-anchor="start" font-weight="normal" >Eosinophils</text>
<text x="125.6" y="110.64" font-size="7.2" fill="#1a1a1a" stroke="#1a1a1a" stroke-width="0.2" text-anchor="start" font-weight="normal" >T cells gamma delta</text>
<text x="125.6" y="117.24" font-size="7.2" fill="#1a1a1a" stroke="#1a1a1a" stroke-width="0.2" text-anchor="start" font-weight="normal" >Macrophages M0</text>
<text x="125.6" y="123.83" font-size="7.2" fill="#1a1a1a" stroke="#1a1a1a" stroke-width="0.2" text-anchor="start" font-weight="normal" >Dendritic cells activated</text>
<text x="125.6" y="130.43" font-size="7.2" fill="#1a1a1a" stroke="#1a1a1a" stroke-width="0.2" text-anchor="start" font-weight="normal" >Macrophages M2</text>
<text x="125.6" y="137.02" font-size="7.2" fill="#1a1a1a" stroke="#1a1a1a" stroke-width="0.2" text-anchor="start" font-weight="normal" >Macrophages M1</text>
<text x="125.6" y="143.62" font-size="7.2" fill="#1a1a1a" stroke="#1a1a1a" stroke-width="0.2" text-anchor="start" font-weight="normal" >Neutrophils</text>
<text x="125.6" y="150.21" font-size="7.2" fill="#1a1a1a" stroke="#1a1a1a" stroke-width="0.2" text-anchor="start" font-weight="normal" >Mast cells resting</text>
<text x="125.6" y="156.81" font-size="7.2" fill="#1a1a1a" stroke="#1a1a1a" stroke-width="0.2" text-anchor="start" font-weight="normal" >B cells naive</text>
<text x="125.6" y="163.40" font-size="7.2" fill="#1a1a1a" stroke="#1a1a1a" stroke-width="0.2" text-anchor="start" font-weight="normal" >T cells CD4 memory resting</text>
<line x1="31.50" y1="41.59" x2="48.70" y2="41.59" stroke="#6e6e6e" stroke-width="0.7"/>
<line x1="31.50" y1="48.19" x2="48.70" y2="48.19" stroke="#6e6e6e" stroke-width="0.7"/>
<line x1="31.50" y1="41.59" x2="31.50" y2="48.19" stroke="#6e6e6e" stroke-width="0.7"/>
<line x1="29.20" y1="35.00" x2="48.70" y2="35.00" stroke="#6e6e6e" stroke-width="0.7"/>
<line x1="29.20" y1="44.89" x2="31.50" y2="44.89" stroke="#6e6e6e" stroke-width="0.7"/>
<line x1="29.20" y1="35.00" x2="29.20" y2="44.89" stroke="#6e6e6e" stroke-width="0.7"/>
<line x1="30.40" y1="61.38" x2="48.70" y2="61.38" stroke="#6e6e6e" stroke-width="0.7"/>
<line x1="30.40" y1="67.97" x2="48.70" y2="67.97" stroke="#6e6e6e" stroke-width="0.7"/>
<line x1="30.40" y1="61.38" x2="30.40" y2="67.97" stroke="#6e6e6e" stroke-width="0.7"/>
<line x1="29.20" y1="54.78" x2="48.70" y2="54.78" stroke="#6e6e6e" stroke-width="0.7"/>
<line x1="29.20" y1="64.67" x2="30.40" y2="64.67" stroke="#6e6e6e" stroke-width="0.7"/>
<line x1="29.20" y1="54.78" x2="29.20" y2="64.67" stroke="#6e6e6e" stroke-width="0.7"/>
<line x1="28.70" y1="39.94" x2="29.20" y2="39.94" stroke="#6e6e6e" stroke-width="0.7"/>
<line x1="28.70" y1="59.73" x2="29.20" y2="59.73" stroke="#6e6e6e" stroke-width="0.7"/>
<line x1="28.70" y1="39.94" x2="28.70" y2="59.73" stroke="#6e6e6e" stroke-width="0.7"/>
<line x1="33.70" y1="81.16" x2="48.70" y2="81.16" stroke="#6e6e6e" stroke-width="0.7"/>
<line x1="33.70" y1="87.76" x2="48.70" y2="87.76" stroke="#6e6e6e" stroke-width="0.7"/>
<line x1="33.70" y1="81.16" x2="33.70" y2="87.76" stroke="#6e6e6e" stroke-width="0.7"/>
<line x1="30.20" y1="74.57" x2="48.70" y2="74.57" stroke="#6e6e6e" stroke-width="0.7"/>
<line x1="30.20" y1="84.46" x2="33.70" y2="84.46" stroke="#6e6e6e" stroke-width="0.7"/>
<line x1="30.20" y1="74.57" x2="30.20" y2="84.46" stroke="#6e6e6e" stroke-width="0.7"/>
<line x1="32.20" y1="94.35" x2="48.70" y2="94.35" stroke="#6e6e6e" stroke-width="0.7"/>
<line x1="32.20" y1="100.95" x2="48.70" y2="100.95" stroke="#6e6e6e" stroke-width="0.7"/>
<line x1="32.20" y1="94.35" x2="32.20" y2="100.95" stroke="#6e6e6e" stroke-width="0.7"/>
<line x1="30.20" y1="107.54" x2="48.70" y2="107.54" stroke="#6e6e6e" stroke-width="0.7"/>
<line x1="30.20" y1="114.14" x2="48.70" y2="114.14" stroke="#6e6e6e" stroke-width="0.7"/>
<line x1="30.20" y1="107.54" x2="30.20" y2="114.14" stroke="#6e6e6e" stroke-width="0.7"/>
<line x1="28.20" y1="97.65" x2="32.20" y2="97.65" stroke="#6e6e6e" stroke-width="0.7"/>
<line x1="28.20" y1="110.84" x2="30.20" y2="110.84" stroke="#6e6e6e" stroke-width="0.7"/>
<line x1="28.20" y1="97.65" x2="28.20" y2="110.84" stroke="#6e6e6e" stroke-width="0.7"/>
<line x1="32.20" y1="133.92" x2="48.70" y2="133.92" stroke="#6e6e6e" stroke-width="0.7"/>
<line x1="32.20" y1="140.52" x2="48.70" y2="140.52" stroke="#6e6e6e" stroke-width="0.7"/>
<line x1="32.20" y1="133.92" x2="32.20" y2="140.52" stroke="#6e6e6e" stroke-width="0.7"/>
<line x1="31.20" y1="127.33" x2="48.70" y2="127.33" stroke="#6e6e6e" stroke-width="0.7"/>
<line x1="31.20" y1="137.22" x2="32.20" y2="137.22" stroke="#6e6e6e" stroke-width="0.7"/>
<line x1="31.20" y1="127.33" x2="31.20" y2="137.22" stroke="#6e6e6e" stroke-width="0.7"/>
<line x1="29.20" y1="120.73" x2="48.70" y2="120.73" stroke="#6e6e6e" stroke-width="0.7"/>
<line x1="29.20" y1="132.27" x2="31.20" y2="132.27" stroke="#6e6e6e" stroke-width="0.7"/>
<line x1="29.20" y1="120.73" x2="29.20" y2="132.27" stroke="#6e6e6e" stroke-width="0.7"/>
<line x1="29.20" y1="153.71" x2="48.70" y2="153.71" stroke="#6e6e6e" stroke-width="0.7"/>
<line x1="29.20" y1="160.30" x2="48.70" y2="160.30" stroke="#6e6e6e" stroke-width="0.7"/>
<line x1="29.20" y1="153.71" x2="29.20" y2="160.30" stroke="#6e6e6e" stroke-width="0.7"/>
<line x1="28.50" y1="147.11" x2="48.70" y2="147.11" stroke="#6e6e6e" stroke-width="0.7"/>
<line x1="28.50" y1="157.00" x2="29.20" y2="157.00" stroke="#6e6e6e" stroke-width="0.7"/>
<line x1="28.50" y1="147.11" x2="28.50" y2="157.00" stroke="#6e6e6e" stroke-width="0.7"/>
<line x1="27.30" y1="126.50" x2="29.20" y2="126.50" stroke="#6e6e6e" stroke-width="0.7"/>
<line x1="27.30" y1="152.06" x2="28.50" y2="152.06" stroke="#6e6e6e" stroke-width="0.7"/>
<line x1="27.30" y1="126.50" x2="27.30" y2="152.06" stroke="#6e6e6e" stroke-width="0.7"/>
<line x1="25.60" y1="104.25" x2="28.20" y2="104.25" stroke="#6e6e6e" stroke-width="0.7"/>
<line x1="25.60" y1="139.28" x2="27.30" y2="139.28" stroke="#6e6e6e" stroke-width="0.7"/>
<line x1="25.60" y1="104.25" x2="25.60" y2="139.28" stroke="#6e6e6e" stroke-width="0.7"/>
<line x1="24.60" y1="79.51" x2="30.20" y2="79.51" stroke="#6e6e6e" stroke-width="0.7"/>
<line x1="24.60" y1="121.76" x2="25.60" y2="121.76" stroke="#6e6e6e" stroke-width="0.7"/>
<line x1="24.60" y1="79.51" x2="24.60" y2="121.76" stroke="#6e6e6e" stroke-width="0.7"/>
<line x1="23.00" y1="49.84" x2="28.70" y2="49.84" stroke="#6e6e6e" stroke-width="0.7"/>
<line x1="23.00" y1="100.64" x2="24.60" y2="100.64" stroke="#6e6e6e" stroke-width="0.7"/>
<line x1="23.00" y1="49.84" x2="23.00" y2="100.64" stroke="#6e6e6e" stroke-width="0.7"/>
<defs><linearGradient id="cb" x1="0" y1="0" x2="0" y2="1"><stop offset="0" stop-color="#FF0000"/><stop offset="0.5" stop-color="#FFFFFF"/><stop offset="1" stop-color="#0000FF"/></linearGradient></defs>
<rect x="218.9" y="22.6" width="4.5" height="72.9" fill="url(#cb)"/>
<text x="225.0" y="25.7" font-size="7" fill="#1a1a1a" stroke="#1a1a1a" stroke-width="0.2" text-anchor="start" font-weight="normal" >2</text>
<text x="225.0" y="44.0" font-size="7" fill="#1a1a1a" stroke="#1a1a1a" stroke-width="0.2" text-anchor="start" font-weight="normal" >1</text>
<text x="225.0" y="62.3" font-size="7" fill="#1a1a1a" stroke="#1a1a1a" stroke-width="0.2" text-anchor="start" font-weight="normal" >0</text>
<text x="225.0" y="80.3" font-size="7" fill="#1a1a1a" stroke="#1a1a1a" stroke-width="0.2" text-anchor="start" font-weight="normal" >-1</text>
<text x="225.0" y="98.0" font-size="7" fill="#1a1a1a" stroke="#1a1a1a" stroke-width="0.2" text-anchor="start" font-weight="normal" >-2</text>
<text x="239.6" y="28.3" font-size="7" fill="#000" stroke="#000" stroke-width="0" text-anchor="start" font-weight="bold" >Disease</text>
<rect x="239" y="30.70" width="11" height="10.35" fill="#E41A1C"/>
<text x="252.5" y="38.38" font-size="7" fill="#1a1a1a" stroke="#1a1a1a" stroke-width="0.2" text-anchor="start" font-weight="normal" >MNG</text>
<rect x="239" y="41.05" width="11" height="10.35" fill="#377EB8"/>
<text x="252.5" y="48.72" font-size="7" fill="#1a1a1a" stroke="#1a1a1a" stroke-width="0.2" text-anchor="start" font-weight="normal" >PA</text>
<rect x="239" y="51.40" width="11" height="10.35" fill="#4DAF4A"/>
<text x="252.5" y="59.07" font-size="7" fill="#1a1a1a" stroke="#1a1a1a" stroke-width="0.2" text-anchor="start" font-weight="normal" >EPN</text>
<rect x="239" y="61.75" width="11" height="10.35" fill="#984EA3"/>
<text x="252.5" y="69.42" font-size="7" fill="#1a1a1a" stroke="#1a1a1a" stroke-width="0.2" text-anchor="start" font-weight="normal" >MED</text>
<rect x="239" y="72.10" width="11" height="10.35" fill="#FF7F00"/>
<text x="252.5" y="79.77" font-size="7" fill="#1a1a1a" stroke="#1a1a1a" stroke-width="0.2" text-anchor="start" font-weight="normal" >GBM</text>
<rect x="239" y="82.45" width="11" height="10.35" fill="#FFFF33"/>
<text x="252.5" y="90.12" font-size="7" fill="#1a1a1a" stroke="#1a1a1a" stroke-width="0.2" text-anchor="start" font-weight="normal" >LGG</text>
<text x="291.3" y="17.6" font-size="14" fill="#000" stroke="#000" stroke-width="0" text-anchor="start" font-weight="bold" >C</text>
<line x1="346.6" y1="14" x2="346.6" y2="147.6" stroke="#555" stroke-width="0.9"/>
<line x1="346.2" y1="148.0" x2="545.3" y2="148.0" stroke="#555" stroke-width="1"/>
<line x1="344.4" y1="19.40" x2="346.6" y2="19.40" stroke="#555" stroke-width="0.8"/>
<text x="342.9" y="22.50" font-size="8.7" fill="#3a3a3a" stroke="#3a3a3a" stroke-width="0.2" text-anchor="end" font-weight="normal" >0.95</text>
<line x1="344.4" y1="50.18" x2="346.6" y2="50.18" stroke="#555" stroke-width="0.8"/>
<text x="342.9" y="53.28" font-size="8.7" fill="#3a3a3a" stroke="#3a3a3a" stroke-width="0.2" text-anchor="end" font-weight="normal" >0.90</text>
<line x1="344.4" y1="80.96" x2="346.6" y2="80.96" stroke="#555" stroke-width="0.8"/>
<text x="342.9" y="84.06" font-size="8.7" fill="#3a3a3a" stroke="#3a3a3a" stroke-width="0.2" text-anchor="end" font-weight="normal" >0.85</text>
<line x1="344.4" y1="111.74" x2="346.6" y2="111.74" stroke="#555" stroke-width="0.8"/>
<text x="342.9" y="114.84" font-size="8.7" fill="#3a3a3a" stroke="#3a3a3a" stroke-width="0.2" text-anchor="end" font-weight="normal" >0.80</text>
<line x1="344.4" y1="142.52" x2="346.6" y2="142.52" stroke="#555" stroke-width="0.8"/>
<text x="342.9" y="145.62" font-size="8.7" fill="#3a3a3a" stroke="#3a3a3a" stroke-width="0.2" text-anchor="end" font-weight="normal" >0.75</text>
<text x="0" y="0" font-size="12" fill="#000" stroke="#000" stroke-width="0.2" text-anchor="middle" font-weight="normal" transform="translate(321.4,83.9) rotate(-90)">Absolute Immune Score</text>
<line x1="365.7" y1="148" x2="365.7" y2="150.2" stroke="#555" stroke-width="0.8"/>
<text x="365.7" y="157.9" font-size="9" fill="#1a1a1a" stroke="#1a1a1a" stroke-width="0.2" text-anchor="middle" font-weight="normal" >MNG</text>
<line x1="397.9" y1="148" x2="397.9" y2="150.2" stroke="#555" stroke-width="0.8"/>
<text x="397.9" y="157.9" font-size="9" fill="#1a1a1a" stroke="#1a1a1a" stroke-width="0.2" text-anchor="middle" font-weight="normal" >PA</text>
<line x1="430.0" y1="148" x2="430.0" y2="150.2" stroke="#555" stroke-width="0.8"/>
<text x="430.0" y="157.9" font-size="9" fill="#1a1a1a" stroke="#1a1a1a" stroke-width="0.2" text-anchor="middle" font-weight="normal" >EPN</text>
<line x1="462.2" y1="148" x2="462.2" y2="150.2" stroke="#555" stroke-width="0.8"/>
<text x="462.2" y="157.9" font-size="9" fill="#1a1a1a" stroke="#1a1a1a" stroke-width="0.2" text-anchor="middle" font-weight="normal" >MED</text>
<line x1="494.5" y1="148" x2="494.5" y2="150.2" stroke="#555" stroke-width="0.8"/>
<text x="494.5" y="157.9" font-size="9" fill="#1a1a1a" stroke="#1a1a1a" stroke-width="0.2" text-anchor="middle" font-weight="normal" >GBM</text>
<line x1="526.4" y1="148" x2="526.4" y2="150.2" stroke="#555" stroke-width="0.8"/>
<text x="526.4" y="157.9" font-size="9" fill="#1a1a1a" stroke="#1a1a1a" stroke-width="0.2" text-anchor="middle" font-weight="normal" >LGG</text>
<text x="358" y="142.2" font-size="8.6" fill="#1a1a1a" stroke="#1a1a1a" stroke-width="0.2" text-anchor="start" font-weight="normal" >Kruskal-Wallis p &lt; 2.2x10<tspan font-size="5.5" dy="-3.2">-16</tspan></text>
<polygon points="365.70,29.00 365.77,29.50 365.83,30.00 365.90,30.50 365.97,31.00 366.03,31.50 366.10,32.00 366.17,32.50 366.23,33.00 366.30,33.50 366.37,34.00 366.43,34.50 366.50,35.00 366.57,35.50 366.63,36.00 366.70,36.50 366.76,37.00 366.82,37.50 366.89,38.00 366.95,38.50 367.02,39.00 367.09,39.50 367.16,40.00 367.24,40.50 367.32,41.00 367.40,41.50 367.48,42.00 367.56,42.50 367.65,43.00 367.74,43.50 367.83,44.00 367.93,44.50 368.02,45.00 368.12,45.50 368.22,46.00 368.32,46.50 368.43,47.00 368.54,47.50 368.65,48.00 368.76,48.50 368.88,49.00 369.00,49.50 369.12,50.00 369.26,50.50 369.40,51.00 369.54,51.50 369.69,52.00 369.85,52.50 370.01,53.00 370.17,53.50 370.34,54.00 370.50,54.50 370.67,55.00 370.84,55.50 371.00,56.00 371.17,56.50 371.33,57.00 371.49,57.50 371.64,58.00 371.79,58.50 371.94,59.00 372.09,59.50 372.25,60.00 372.40,60.50 372.56,61.00 372.71,61.50 372.86,62.00 373.01,62.50 373.16,63.00 373.31,63.50 373.45,64.00 373.59,64.50 373.73,65.00 373.87,65.50 374.00,66.00 374.13,66.50 374.25,67.00 374.39,67.50 374.53,68.00 374.67,68.50 374.80,69.00 374.90,69.50 374.97,70.00 375.00,70.50 374.97,71.00 374.88,71.50 374.73,72.00 374.54,72.50 374.31,73.00 374.04,73.50 373.75,74.00 373.44,74.50 373.12,75.00 372.80,75.50 372.47,76.00 372.16,76.50 371.86,77.00 371.58,77.50 371.33,78.00 371.12,78.50 370.91,79.00 370.70,79.50 370.48,80.00 370.27,80.50 370.07,81.00 369.86,81.50 369.67,82.00 369.47,82.50 369.29,83.00 369.11,83.50 368.95,84.00 368.79,84.50 368.65,85.00 368.52,85.50 368.40,86.00 368.29,86.50 368.19,87.00 368.09,87.50 368.00,88.00 367.91,88.50 367.82,89.00 367.74,89.50 367.66,90.00 367.59,90.50 367.52,91.00 367.45,91.50 367.39,92.00 367.33,92.50 367.28,93.00 367.23,93.50 367.18,94.00 367.14,94.50 367.11,95.00 367.07,95.50 367.04,96.00 367.02,96.50 366.99,97.00 366.97,97.50 366.94,98.00 366.92,98.50 366.89,99.00 366.86,99.50 366.83,100.00 366.79,100.50 366.75,101.00 366.71,101.50 366.66,102.00 366.59,102.50 366.51,103.00 366.42,103.50 366.32,104.00 366.22,104.50 366.11,105.00 366.00,105.50 365.90,106.00 365.80,106.50 365.70,107.00 365.70,107.00 365.60,106.50 365.50,106.00 365.40,105.50 365.29,105.00 365.18,104.50 365.08,104.00 364.98,103.50 364.89,103.00 364.81,102.50 364.74,102.00 364.69,101.50 364.65,101.00 364.61,100.50 364.57,100.00 364.54,99.50 364.51,99.00 364.48,98.50 364.46,98.00 364.43,97.50 364.41,97.00 364.38,96.50 364.36,96.00 364.33,95.50 364.29,95.00 364.26,94.50 364.22,94.00 364.17,93.50 364.12,93.00 364.07,92.50 364.01,92.00 363.95,91.50 363.88,91.00 363.81,90.50 363.74,90.00 363.66,89.50 363.58,89.00 363.49,88.50 363.40,88.00 363.31,87.50 363.21,87.00 363.11,86.50 363.00,86.00 362.88,85.50 362.75,85.00 362.61,84.50 362.45,84.00 362.29,83.50 362.11,83.00 361.93,82.50 361.73,82.00 361.54,81.50 361.33,81.00 361.13,80.50 360.92,80.00 360.70,79.50 360.49,79.00 360.28,78.50 360.07,78.00 359.82,77.50 359.54,77.00 359.24,76.50 358.93,76.00 358.60,75.50 358.28,75.00 357.96,74.50 357.65,74.00 357.36,73.50 357.09,73.00 356.86,72.50 356.67,72.00 356.52,71.50 356.43,71.00 356.40,70.50 356.43,70.00 356.50,69.50 356.60,69.00 356.73,68.50 356.87,68.00 357.01,67.50 357.15,67.00 357.27,66.50 357.40,66.00 357.53,65.50 357.67,65.00 357.81,64.50 357.95,64.00 358.09,63.50 358.24,63.00 358.39,62.50 358.54,62.00 358.69,61.50 358.84,61.00 359.00,60.50 359.15,60.00 359.31,59.50 359.46,59.00 359.61,58.50 359.76,58.00 359.91,57.50 360.07,57.00 360.23,56.50 360.40,56.00 360.56,55.50 360.73,55.00 360.90,54.50 361.06,54.00 361.23,53.50 361.39,53.00 361.55,52.50 361.71,52.00 361.86,51.50 362.00,51.00 362.14,50.50 362.28,50.00 362.40,49.50 362.52,49.00 362.64,48.50 362.75,48.00 362.86,47.50 362.97,47.00 363.08,46.50 363.18,46.00 363.28,45.50 363.38,45.00 363.47,44.50 363.57,44.00 363.66,43.50 363.75,43.00 363.84,42.50 363.92,42.00 364.00,41.50 364.08,41.00 364.16,40.50 364.24,40.00 364.31,39.50 364.38,39.00 364.45,38.50 364.51,38.00 364.58,37.50 364.64,37.00 364.70,36.50 364.77,36.00 364.83,35.50 364.90,35.00 364.97,34.50 365.03,34.00 365.10,33.50 365.17,33.00 365.23,32.50 365.30,32.00 365.37,31.50 365.43,31.00 365.50,30.50 365.57,30.00 365.63,29.50 365.70,29.00" fill="#E41A1C"/>
<rect x="362.90" y="62.00" width="6.20" height="12.90" fill="#fff"/>
<rect x="362.70" y="68.60" width="6.60" height="1.4" fill="#E41A1C"/>
<polygon points="397.90,19.60 397.97,20.10 398.04,20.60 398.12,21.10 398.19,21.60 398.27,22.10 398.35,22.60 398.43,23.10 398.50,23.60 398.57,24.10 398.64,24.60 398.71,25.10 398.77,25.60 398.82,26.10 398.87,26.60 398.91,27.10 398.94,27.60 398.97,28.10 399.00,28.60 399.02,29.10 399.04,29.60 399.06,30.10 399.08,30.60 399.10,31.10 399.12,31.60 399.14,32.10 399.16,32.60 399.18,33.10 399.21,33.60 399.24,34.10 399.27,34.60 399.31,35.10 399.36,35.60 399.41,36.10 399.48,36.60 399.55,37.10 399.64,37.60 399.72,38.10 399.82,38.60 399.92,39.10 400.02,39.60 400.13,40.10 400.23,40.60 400.34,41.10 400.46,41.60 400.60,42.10 400.74,42.60 400.88,43.10 401.04,43.60 401.20,44.10 401.37,44.60 401.55,45.10 401.72,45.60 401.90,46.10 402.08,46.60 402.26,47.10 402.44,47.60 402.62,48.10 402.80,48.60 402.97,49.10 403.13,49.60 403.30,50.10 403.47,50.60 403.65,51.10 403.82,51.60 404.00,52.10 404.18,52.60 404.35,53.10 404.53,53.60 404.71,54.10 404.88,54.60 405.05,55.10 405.22,55.60 405.38,56.10 405.54,56.60 405.69,57.10 405.83,57.60 405.97,58.10 406.11,58.60 406.27,59.10 406.42,59.60 406.55,60.10 406.65,60.60 406.70,61.10 406.69,61.60 406.64,62.10 406.56,62.60 406.45,63.10 406.31,63.60 406.16,64.10 405.98,64.60 405.80,65.10 405.60,65.60 405.39,66.10 405.19,66.60 404.98,67.10 404.78,67.60 404.58,68.10 404.40,68.60 404.22,69.10 404.04,69.60 403.84,70.10 403.65,70.60 403.44,71.10 403.24,71.60 403.03,72.10 402.82,72.60 402.60,73.10 402.39,73.60 402.18,74.10 401.97,74.60 401.76,75.10 401.56,75.60 401.36,76.10 401.16,76.60 400.97,77.10 400.79,77.60 400.60,78.10 400.41,78.60 400.23,79.10 400.05,79.60 399.88,80.10 399.72,80.60 399.58,81.10 399.45,81.60 399.33,82.10 399.20,82.60 399.09,83.10 399.00,83.60 398.93,84.10 398.89,84.60 398.87,85.10 398.85,85.60 398.83,86.10 398.81,86.60 398.79,87.10 398.77,87.60 398.75,88.10 398.74,88.60 398.72,89.10 398.71,89.60 398.70,90.10 398.69,90.60 398.68,91.10 398.67,91.60 398.66,92.10 398.65,92.60 398.64,93.10 398.63,93.60 398.62,94.10 398.62,94.60 398.61,95.10 398.60,95.60 398.60,96.10 398.59,96.60 398.58,97.10 398.57,97.60 398.57,98.10 398.56,98.60 398.55,99.10 398.54,99.60 398.53,100.10 398.52,100.60 398.51,101.10 398.50,101.60 397.30,101.60 397.29,101.10 397.28,100.60 397.27,100.10 397.26,99.60 397.25,99.10 397.24,98.60 397.23,98.10 397.23,97.60 397.22,97.10 397.21,96.60 397.20,96.10 397.20,95.60 397.19,95.10 397.18,94.60 397.18,94.10 397.17,93.60 397.16,93.10 397.15,92.60 397.14,92.10 397.13,91.60 397.12,91.10 397.11,90.60 397.10,90.10 397.09,89.60 397.08,89.10 397.06,88.60 397.05,88.10 397.03,87.60 397.01,87.10 396.99,86.60 396.97,86.10 396.95,85.60 396.93,85.10 396.91,84.60 396.87,84.10 396.80,83.60 396.71,83.10 396.60,82.60 396.47,82.10 396.35,81.60 396.22,81.10 396.08,80.60 395.92,80.10 395.75,79.60 395.57,79.10 395.39,78.60 395.20,78.10 395.01,77.60 394.83,77.10 394.64,76.60 394.44,76.10 394.24,75.60 394.04,75.10 393.83,74.60 393.62,74.10 393.41,73.60 393.20,73.10 392.98,72.60 392.77,72.10 392.56,71.60 392.36,71.10 392.15,70.60 391.96,70.10 391.76,69.60 391.58,69.10 391.40,68.60 391.22,68.10 391.02,67.60 390.82,67.10 390.61,66.60 390.41,66.10 390.20,65.60 390.00,65.10 389.82,64.60 389.64,64.10 389.49,63.60 389.35,63.10 389.24,62.60 389.16,62.10 389.11,61.60 389.10,61.10 389.15,60.60 389.25,60.10 389.38,59.60 389.53,59.10 389.69,58.60 389.83,58.10 389.97,57.60 390.11,57.10 390.26,56.60 390.42,56.10 390.58,55.60 390.75,55.10 390.92,54.60 391.09,54.10 391.27,53.60 391.45,53.10 391.62,52.60 391.80,52.10 391.98,51.60 392.15,51.10 392.33,50.60 392.50,50.10 392.67,49.60 392.83,49.10 393.00,48.60 393.18,48.10 393.36,47.60 393.54,47.10 393.72,46.60 393.90,46.10 394.08,45.60 394.25,45.10 394.43,44.60 394.60,44.10 394.76,43.60 394.92,43.10 395.06,42.60 395.20,42.10 395.34,41.60 395.46,41.10 395.57,40.60 395.67,40.10 395.78,39.60 395.88,39.10 395.98,38.60 396.08,38.10 396.16,37.60 396.25,37.10 396.32,36.60 396.39,36.10 396.44,35.60 396.49,35.10 396.53,34.60 396.56,34.10 396.59,33.60 396.62,33.10 396.64,32.60 396.66,32.10 396.68,31.60 396.70,31.10 396.72,30.60 396.74,30.10 396.76,29.60 396.78,29.10 396.80,28.60 396.83,28.10 396.86,27.60 396.89,27.10 396.93,26.60 396.98,26.10 397.03,25.60 397.09,25.10 397.16,24.60 397.23,24.10 397.30,23.60 397.37,23.10 397.45,22.60 397.53,22.10 397.61,21.60 397.68,21.10 397.76,20.60 397.83,20.10 397.90,19.60" fill="#377EB8"/>
<circle cx="397.9" cy="27.9" r="1.2" fill="#377EB8"/>
<circle cx="397.9" cy="90.7" r="1.2" fill="#377EB8"/>
<rect x="394.90" y="54.00" width="6.20" height="13.40" fill="#fff"/>
<rect x="394.70" y="59.60" width="6.60" height="1.4" fill="#377EB8"/>
<polygon points="430.00,21.60 430.05,22.10 430.10,22.60 430.15,23.10 430.20,23.60 430.24,24.10 430.29,24.60 430.34,25.10 430.39,25.60 430.44,26.10 430.49,26.61 430.54,27.11 430.59,27.61 430.63,28.11 430.68,28.61 430.72,29.11 430.77,29.61 430.81,30.11 430.85,30.61 430.89,31.11 430.93,31.61 430.96,32.11 431.00,32.61 431.03,33.11 431.07,33.61 431.10,34.11 431.13,34.61 431.17,35.11 431.20,35.62 431.23,36.12 431.27,36.62 431.30,37.12 431.34,37.62 431.37,38.12 431.41,38.62 431.45,39.12 431.49,39.62 431.53,40.12 431.57,40.62 431.62,41.12 431.67,41.62 431.72,42.12 431.77,42.62 431.82,43.12 431.88,43.62 431.93,44.12 431.99,44.63 432.05,45.13 432.11,45.63 432.17,46.13 432.23,46.63 432.29,47.13 432.36,47.63 432.42,48.13 432.49,48.63 432.55,49.13 432.62,49.63 432.68,50.13 432.75,50.63 432.82,51.13 432.89,51.63 432.95,52.13 433.02,52.63 433.10,53.13 433.17,53.64 433.24,54.14 433.32,54.64 433.39,55.14 433.47,55.64 433.55,56.14 433.63,56.64 433.72,57.14 433.80,57.64 433.89,58.14 433.98,58.64 434.08,59.14 434.19,59.64 434.31,60.14 434.42,60.64 434.54,61.14 434.64,61.64 434.75,62.14 434.84,62.65 434.92,63.15 435.00,63.65 435.06,64.15 435.12,64.65 435.18,65.15 435.24,65.65 435.29,66.15 435.35,66.65 435.41,67.15 435.47,67.65 435.54,68.15 435.61,68.65 435.69,69.15 435.79,69.65 435.90,70.15 436.02,70.65 436.14,71.15 436.27,71.66 436.41,72.16 436.54,72.66 436.67,73.16 436.79,73.66 436.90,74.16 437.01,74.66 437.10,75.16 437.18,75.66 437.24,76.16 437.28,76.66 437.30,77.16 437.30,77.66 437.30,78.16 437.30,78.66 437.30,79.16 437.30,79.66 437.30,80.16 437.30,80.67 437.30,81.17 437.30,81.67 437.30,82.17 437.29,82.67 437.20,83.17 437.02,83.67 436.77,84.17 436.49,84.67 436.19,85.17 435.92,85.67 435.67,86.17 435.41,86.67 435.14,87.17 434.86,87.67 434.57,88.17 434.29,88.67 434.00,89.17 433.73,89.68 433.46,90.18 433.20,90.68 432.96,91.18 432.72,91.68 432.47,92.18 432.21,92.68 431.95,93.18 431.70,93.68 431.48,94.18 431.28,94.68 431.11,95.18 430.98,95.68 430.91,96.18 430.87,96.68 430.84,97.18 430.81,97.68 430.79,98.18 430.76,98.69 430.74,99.19 430.72,99.69 430.70,100.19 430.68,100.69 430.66,101.19 430.64,101.69 430.63,102.19 430.62,102.69 430.60,103.19 430.59,103.69 430.58,104.19 430.57,104.69 430.56,105.19 430.55,105.69 430.54,106.19 430.53,106.69 430.52,107.19 430.51,107.70 430.50,108.20 430.49,108.70 430.48,109.20 430.47,109.70 430.45,110.20 430.44,110.70 430.43,111.20 430.42,111.70 430.40,112.20 429.60,112.20 429.58,111.70 429.57,111.20 429.56,110.70 429.55,110.20 429.53,109.70 429.52,109.20 429.51,108.70 429.50,108.20 429.49,107.70 429.48,107.19 429.47,106.69 429.46,106.19 429.45,105.69 429.44,105.19 429.43,104.69 429.42,104.19 429.41,103.69 429.40,103.19 429.38,102.69 429.37,102.19 429.36,101.69 429.34,101.19 429.32,100.69 429.30,100.19 429.28,99.69 429.26,99.19 429.24,98.69 429.21,98.18 429.19,97.68 429.16,97.18 429.13,96.68 429.09,96.18 429.02,95.68 428.89,95.18 428.72,94.68 428.52,94.18 428.30,93.68 428.05,93.18 427.79,92.68 427.53,92.18 427.28,91.68 427.04,91.18 426.80,90.68 426.54,90.18 426.27,89.68 426.00,89.17 425.71,88.67 425.43,88.17 425.14,87.67 424.86,87.17 424.59,86.67 424.33,86.17 424.08,85.67 423.81,85.17 423.51,84.67 423.23,84.17 422.98,83.67 422.80,83.17 422.71,82.67 422.70,82.17 422.70,81.67 422.70,81.17 422.70,80.67 422.70,80.16 422.70,79.66 422.70,79.16 422.70,78.66 422.70,78.16 422.70,77.66 422.70,77.16 422.72,76.66 422.76,76.16 422.82,75.66 422.90,75.16 422.99,74.66 423.10,74.16 423.21,73.66 423.33,73.16 423.46,72.66 423.59,72.16 423.73,71.66 423.86,71.15 423.98,70.65 424.10,70.15 424.21,69.65 424.31,69.15 424.39,68.65 424.46,68.15 424.53,67.65 424.59,67.15 424.65,66.65 424.71,66.15 424.76,65.65 424.82,65.15 424.88,64.65 424.94,64.15 425.00,63.65 425.08,63.15 425.16,62.65 425.25,62.14 425.36,61.64 425.46,61.14 425.58,60.64 425.69,60.14 425.81,59.64 425.92,59.14 426.02,58.64 426.11,58.14 426.20,57.64 426.28,57.14 426.37,56.64 426.45,56.14 426.53,55.64 426.61,55.14 426.68,54.64 426.76,54.14 426.83,53.64 426.90,53.13 426.98,52.63 427.05,52.13 427.11,51.63 427.18,51.13 427.25,50.63 427.32,50.13 427.38,49.63 427.45,49.13 427.51,48.63 427.58,48.13 427.64,47.63 427.71,47.13 427.77,46.63 427.83,46.13 427.89,45.63 427.95,45.13 428.01,44.63 428.07,44.12 428.12,43.62 428.18,43.12 428.23,42.62 428.28,42.12 428.33,41.62 428.38,41.12 428.43,40.62 428.47,40.12 428.51,39.62 428.55,39.12 428.59,38.62 428.63,38.12 428.66,37.62 428.70,37.12 428.73,36.62 428.77,36.12 428.80,35.62 428.83,35.11 428.87,34.61 428.90,34.11 428.93,33.61 428.97,33.11 429.00,32.61 429.04,32.11 429.07,31.61 429.11,31.11 429.15,30.61 429.19,30.11 429.23,29.61 429.28,29.11 429.32,28.61 429.37,28.11 429.41,27.61 429.46,27.11 429.51,26.61 429.56,26.10 429.61,25.60 429.66,25.10 429.71,24.60 429.76,24.10 429.80,23.60 429.85,23.10 429.90,22.60 429.95,22.10 430.00,21.60" fill="#4DAF4A"/>
<rect x="426.70" y="62.90" width="6.30" height="18.30" fill="#fff"/>
<rect x="426.50" y="73.00" width="6.70" height="1.4" fill="#4DAF4A"/>
<polygon points="462.20,41.20 462.25,41.70 462.30,42.20 462.36,42.71 462.41,43.21 462.47,43.71 462.54,44.21 462.60,44.71 462.66,45.21 462.71,45.72 462.77,46.22 462.82,46.72 462.87,47.22 462.91,47.72 462.94,48.23 462.97,48.73 462.99,49.23 463.00,49.73 463.00,50.23 463.00,50.73 463.00,51.24 463.00,51.74 463.00,52.24 463.00,52.74 463.00,53.24 463.00,53.74 463.00,54.25 463.00,54.75 463.00,55.25 463.00,55.75 463.00,56.25 463.00,56.76 463.00,57.26 463.00,57.76 463.00,58.26 463.00,58.76 463.00,59.26 463.00,59.77 463.00,60.27 463.00,60.77 463.00,61.27 463.01,61.77 463.01,62.28 463.02,62.78 463.02,63.28 463.03,63.78 463.04,64.28 463.05,64.78 463.06,65.29 463.07,65.79 463.08,66.29 463.09,66.79 463.11,67.29 463.12,67.80 463.14,68.30 463.16,68.80 463.17,69.30 463.19,69.80 463.22,70.30 463.27,70.81 463.36,71.31 463.47,71.81 463.60,72.31 463.75,72.81 463.92,73.31 464.10,73.82 464.29,74.32 464.48,74.82 464.68,75.32 464.88,75.82 465.08,76.33 465.27,76.83 465.48,77.33 465.74,77.83 466.01,78.33 466.28,78.83 466.51,79.34 466.67,79.84 466.75,80.34 466.82,80.84 466.88,81.34 466.92,81.85 466.96,82.35 466.99,82.85 467.02,83.35 467.06,83.85 467.09,84.35 467.13,84.86 467.19,85.36 467.25,85.86 467.33,86.36 467.45,86.86 467.60,87.37 467.78,87.87 467.99,88.37 468.21,88.87 468.43,89.37 468.65,89.87 468.86,90.38 469.09,90.88 469.34,91.38 469.59,91.88 469.85,92.38 470.11,92.89 470.38,93.39 470.64,93.89 470.90,94.39 471.15,94.89 471.40,95.39 471.68,95.90 471.98,96.40 472.29,96.90 472.60,97.40 472.91,97.90 473.19,98.40 473.45,98.91 473.66,99.41 473.83,99.91 473.95,100.41 474.00,100.91 473.97,101.42 473.84,101.92 473.63,102.42 473.36,102.92 473.05,103.42 472.69,103.92 472.32,104.43 471.95,104.93 471.58,105.43 471.24,105.93 470.92,106.43 470.57,106.94 470.22,107.44 469.85,107.94 469.47,108.44 469.09,108.94 468.71,109.44 468.34,109.95 467.98,110.45 467.63,110.95 467.29,111.45 466.94,111.95 466.58,112.46 466.21,112.96 465.85,113.46 465.49,113.96 465.15,114.46 464.83,114.96 464.52,115.47 464.25,115.97 464.01,116.47 463.81,116.97 463.65,117.47 463.51,117.97 463.38,118.48 463.26,118.98 463.16,119.48 463.06,119.98 462.96,120.48 462.88,120.99 462.79,121.49 462.71,121.99 462.63,122.49 462.55,122.99 462.47,123.49 462.38,124.00 462.29,124.50 462.20,125.00 462.20,125.00 462.11,124.50 462.02,124.00 461.93,123.49 461.85,122.99 461.77,122.49 461.69,121.99 461.61,121.49 461.52,120.99 461.44,120.48 461.34,119.98 461.24,119.48 461.14,118.98 461.02,118.48 460.89,117.97 460.75,117.47 460.59,116.97 460.39,116.47 460.15,115.97 459.88,115.47 459.57,114.96 459.25,114.46 458.91,113.96 458.55,113.46 458.19,112.96 457.82,112.46 457.46,111.95 457.11,111.45 456.77,110.95 456.42,110.45 456.06,109.95 455.69,109.44 455.31,108.94 454.93,108.44 454.55,107.94 454.18,107.44 453.83,106.94 453.48,106.43 453.16,105.93 452.82,105.43 452.45,104.93 452.08,104.43 451.71,103.92 451.35,103.42 451.04,102.92 450.77,102.42 450.56,101.92 450.43,101.42 450.40,100.91 450.45,100.41 450.57,99.91 450.74,99.41 450.95,98.91 451.21,98.40 451.49,97.90 451.80,97.40 452.11,96.90 452.42,96.40 452.72,95.90 453.00,95.39 453.25,94.89 453.50,94.39 453.76,93.89 454.02,93.39 454.29,92.89 454.55,92.38 454.81,91.88 455.06,91.38 455.31,90.88 455.54,90.38 455.75,89.87 455.97,89.37 456.19,88.87 456.41,88.37 456.62,87.87 456.80,87.37 456.95,86.86 457.07,86.36 457.15,85.86 457.21,85.36 457.27,84.86 457.31,84.35 457.34,83.85 457.38,83.35 457.41,82.85 457.44,82.35 457.48,81.85 457.52,81.34 457.58,80.84 457.65,80.34 457.73,79.84 457.89,79.34 458.12,78.83 458.39,78.33 458.66,77.83 458.92,77.33 459.13,76.83 459.32,76.33 459.52,75.82 459.72,75.32 459.92,74.82 460.11,74.32 460.30,73.82 460.48,73.31 460.65,72.81 460.80,72.31 460.93,71.81 461.04,71.31 461.13,70.81 461.18,70.30 461.21,69.80 461.23,69.30 461.24,68.80 461.26,68.30 461.28,67.80 461.29,67.29 461.31,66.79 461.32,66.29 461.33,65.79 461.34,65.29 461.35,64.78 461.36,64.28 461.37,63.78 461.38,63.28 461.38,62.78 461.39,62.28 461.39,61.77 461.40,61.27 461.40,60.77 461.40,60.27 461.40,59.77 461.40,59.26 461.40,58.76 461.40,58.26 461.40,57.76 461.40,57.26 461.40,56.76 461.40,56.25 461.40,55.75 461.40,55.25 461.40,54.75 461.40,54.25 461.40,53.74 461.40,53.24 461.40,52.74 461.40,52.24 461.40,51.74 461.40,51.24 461.40,50.73 461.40,50.23 461.40,49.73 461.41,49.23 461.43,48.73 461.46,48.23 461.49,47.72 461.53,47.22 461.58,46.72 461.63,46.22 461.69,45.72 461.74,45.21 461.80,44.71 461.86,44.21 461.93,43.71 461.99,43.21 462.04,42.71 462.10,42.20 462.15,41.70 462.20,41.20" fill="#984EA3"/>
<circle cx="462.2" cy="50.5" r="1.4" fill="#984EA3"/>
<circle cx="462.2" cy="56.8" r="1.4" fill="#984EA3"/>
<circle cx="462.2" cy="62.6" r="1.4" fill="#984EA3"/>
<circle cx="462.2" cy="68.1" r="1.4" fill="#984EA3"/>
<rect x="459.40" y="91.60" width="5.80" height="11.40" fill="#fff"/>
<rect x="459.20" y="97.60" width="6.20" height="1.4" fill="#984EA3"/>
<polygon points="494.50,19.30 494.54,19.80 494.58,20.30 494.61,20.81 494.65,21.31 494.69,21.81 494.73,22.31 494.77,22.81 494.81,23.32 494.85,23.82 494.89,24.32 494.92,24.82 494.96,25.33 495.00,25.83 495.04,26.33 495.08,26.83 495.11,27.33 495.15,27.84 495.19,28.34 495.22,28.84 495.26,29.34 495.29,29.84 495.32,30.35 495.35,30.85 495.38,31.35 495.41,31.85 495.43,32.36 495.46,32.86 495.48,33.36 495.51,33.86 495.53,34.36 495.55,34.87 495.58,35.37 495.60,35.87 495.63,36.37 495.66,36.87 495.69,37.38 495.72,37.88 495.76,38.38 495.80,38.88 495.84,39.38 495.89,39.89 495.95,40.39 496.03,40.89 496.13,41.39 496.23,41.90 496.32,42.40 496.40,42.90 496.48,43.40 496.55,43.90 496.63,44.41 496.71,44.91 496.78,45.41 496.85,45.91 496.93,46.41 497.00,46.92 497.07,47.42 497.15,47.92 497.22,48.42 497.30,48.92 497.38,49.43 497.46,49.93 497.54,50.43 497.62,50.93 497.71,51.44 497.79,51.94 497.89,52.44 497.98,52.94 498.07,53.44 498.17,53.95 498.27,54.45 498.37,54.95 498.47,55.45 498.57,55.95 498.67,56.46 498.78,56.96 498.88,57.46 498.98,57.96 499.09,58.47 499.19,58.97 499.29,59.47 499.39,59.97 499.49,60.47 499.59,60.98 499.69,61.48 499.79,61.98 499.88,62.48 499.98,62.98 500.07,63.49 500.16,63.99 500.26,64.49 500.35,64.99 500.45,65.49 500.55,66.00 500.65,66.50 500.75,67.00 500.85,67.50 500.96,68.01 501.07,68.51 501.18,69.01 501.30,69.51 501.44,70.01 501.61,70.52 501.79,71.02 501.98,71.52 502.18,72.02 502.36,72.52 502.52,73.03 502.66,73.53 502.75,74.03 502.80,74.53 502.79,75.03 502.75,75.54 502.67,76.04 502.57,76.54 502.44,77.04 502.30,77.55 502.14,78.05 501.98,78.55 501.81,79.05 501.64,79.55 501.48,80.06 501.31,80.56 501.10,81.06 500.88,81.56 500.64,82.06 500.39,82.57 500.13,83.07 499.87,83.57 499.61,84.07 499.36,84.58 499.12,85.08 498.89,85.58 498.69,86.08 498.51,86.58 498.34,87.09 498.18,87.59 498.02,88.09 497.87,88.59 497.72,89.09 497.57,89.60 497.43,90.10 497.30,90.60 497.17,91.10 497.04,91.60 496.93,92.11 496.82,92.61 496.72,93.11 496.63,93.61 496.54,94.12 496.47,94.62 496.40,95.12 496.33,95.62 496.27,96.12 496.21,96.63 496.16,97.13 496.11,97.63 496.06,98.13 496.01,98.63 495.96,99.14 495.92,99.64 495.87,100.14 495.83,100.64 495.79,101.14 495.74,101.65 495.70,102.15 495.66,102.65 495.61,103.15 495.56,103.66 495.51,104.16 495.46,104.66 495.41,105.16 495.36,105.66 495.31,106.17 495.26,106.67 495.21,107.17 495.16,107.67 495.11,108.17 495.06,108.68 495.01,109.18 494.96,109.68 494.91,110.18 494.86,110.69 494.80,111.19 494.75,111.69 494.70,112.19 494.65,112.69 494.60,113.20 494.55,113.70 494.50,114.20 494.50,114.20 494.45,113.70 494.40,113.20 494.35,112.69 494.30,112.19 494.25,111.69 494.20,111.19 494.14,110.69 494.09,110.18 494.04,109.68 493.99,109.18 493.94,108.68 493.89,108.17 493.84,107.67 493.79,107.17 493.74,106.67 493.69,106.17 493.64,105.66 493.59,105.16 493.54,104.66 493.49,104.16 493.44,103.66 493.39,103.15 493.34,102.65 493.30,102.15 493.26,101.65 493.21,101.14 493.17,100.64 493.13,100.14 493.08,99.64 493.04,99.14 492.99,98.63 492.94,98.13 492.89,97.63 492.84,97.13 492.79,96.63 492.73,96.12 492.67,95.62 492.60,95.12 492.53,94.62 492.46,94.12 492.37,93.61 492.28,93.11 492.18,92.61 492.07,92.11 491.96,91.60 491.83,91.10 491.70,90.60 491.57,90.10 491.43,89.60 491.28,89.09 491.13,88.59 490.98,88.09 490.82,87.59 490.66,87.09 490.49,86.58 490.31,86.08 490.11,85.58 489.88,85.08 489.64,84.58 489.39,84.07 489.13,83.57 488.87,83.07 488.61,82.57 488.36,82.06 488.12,81.56 487.90,81.06 487.69,80.56 487.52,80.06 487.36,79.55 487.19,79.05 487.02,78.55 486.86,78.05 486.70,77.55 486.56,77.04 486.43,76.54 486.33,76.04 486.25,75.54 486.21,75.03 486.20,74.53 486.25,74.03 486.34,73.53 486.48,73.03 486.64,72.52 486.82,72.02 487.02,71.52 487.21,71.02 487.39,70.52 487.56,70.01 487.70,69.51 487.82,69.01 487.93,68.51 488.04,68.01 488.15,67.50 488.25,67.00 488.35,66.50 488.45,66.00 488.55,65.49 488.65,64.99 488.74,64.49 488.84,63.99 488.93,63.49 489.02,62.98 489.12,62.48 489.21,61.98 489.31,61.48 489.41,60.98 489.51,60.47 489.61,59.97 489.71,59.47 489.81,58.97 489.91,58.47 490.02,57.96 490.12,57.46 490.22,56.96 490.33,56.46 490.43,55.95 490.53,55.45 490.63,54.95 490.73,54.45 490.83,53.95 490.93,53.44 491.02,52.94 491.11,52.44 491.21,51.94 491.29,51.44 491.38,50.93 491.46,50.43 491.54,49.93 491.62,49.43 491.70,48.92 491.78,48.42 491.85,47.92 491.93,47.42 492.00,46.92 492.07,46.41 492.15,45.91 492.22,45.41 492.29,44.91 492.37,44.41 492.45,43.90 492.52,43.40 492.60,42.90 492.68,42.40 492.77,41.90 492.87,41.39 492.97,40.89 493.05,40.39 493.11,39.89 493.16,39.38 493.20,38.88 493.24,38.38 493.28,37.88 493.31,37.38 493.34,36.87 493.37,36.37 493.40,35.87 493.42,35.37 493.45,34.87 493.47,34.36 493.49,33.86 493.52,33.36 493.54,32.86 493.57,32.36 493.59,31.85 493.62,31.35 493.65,30.85 493.68,30.35 493.71,29.84 493.74,29.34 493.78,28.84 493.81,28.34 493.85,27.84 493.89,27.33 493.92,26.83 493.96,26.33 494.00,25.83 494.04,25.33 494.08,24.82 494.11,24.32 494.15,23.82 494.19,23.32 494.23,22.81 494.27,22.31 494.31,21.81 494.35,21.31 494.39,20.81 494.42,20.30 494.46,19.80 494.50,19.30" fill="#FF7F00"/>
<circle cx="494.5" cy="27" r="1.2" fill="#FF7F00"/>
<circle cx="494.5" cy="33.3" r="1.2" fill="#FF7F00"/>
<circle cx="494.5" cy="37.2" r="1.2" fill="#FF7F00"/>
<rect x="491.10" y="63.90" width="6.50" height="16.70" fill="#fff"/>
<rect x="490.90" y="73.40" width="6.90" height="1.4" fill="#FF7F00"/>
<polygon points="526.40,19.30 526.48,19.80 526.56,20.30 526.65,20.80 526.74,21.30 526.83,21.80 526.91,22.30 526.99,22.80 527.06,23.30 527.12,23.80 527.17,24.30 527.19,24.80 527.21,25.30 527.21,25.80 527.22,26.30 527.23,26.80 527.24,27.30 527.24,27.80 527.25,28.30 527.25,28.80 527.26,29.30 527.26,29.80 527.27,30.30 527.27,30.80 527.28,31.30 527.28,31.80 527.28,32.30 527.29,32.80 527.29,33.30 527.29,33.80 527.29,34.30 527.29,34.80 527.30,35.30 527.30,35.80 527.30,36.30 527.30,36.80 527.30,37.30 527.30,37.80 527.31,38.30 527.31,38.80 527.31,39.30 527.31,39.80 527.31,40.30 527.31,40.80 527.32,41.30 527.32,41.80 527.32,42.30 527.32,42.80 527.32,43.30 527.33,43.80 527.33,44.30 527.33,44.80 527.34,45.30 527.34,45.80 527.35,46.30 527.35,46.80 527.36,47.30 527.36,47.80 527.37,48.30 527.38,48.80 527.38,49.30 527.39,49.80 527.40,50.30 527.41,50.80 527.43,51.30 527.45,51.80 527.48,52.30 527.51,52.80 527.55,53.30 527.59,53.80 527.63,54.30 527.68,54.80 527.73,55.30 527.79,55.80 527.87,56.30 527.95,56.80 528.05,57.30 528.15,57.80 528.27,58.30 528.40,58.80 528.53,59.30 528.68,59.80 528.83,60.30 529.01,60.80 529.21,61.30 529.45,61.80 529.74,62.30 530.07,62.80 530.44,63.30 530.90,63.80 531.59,64.30 532.40,64.80 533.24,65.30 533.97,65.80 534.58,66.30 535.17,66.80 535.74,67.30 536.30,67.80 536.83,68.30 537.35,68.80 537.84,69.30 538.30,69.80 538.74,70.30 539.15,70.80 539.53,71.30 539.89,71.80 540.27,72.30 540.65,72.80 541.02,73.30 541.38,73.80 541.71,74.30 542.00,74.80 542.25,75.30 542.44,75.80 542.56,76.30 542.60,76.80 542.54,77.30 542.36,77.80 542.08,78.30 541.72,78.80 541.28,79.30 540.78,79.80 540.23,80.30 539.66,80.80 539.06,81.30 538.47,81.80 537.88,82.30 537.32,82.80 536.80,83.30 536.25,83.80 535.66,84.30 535.04,84.80 534.40,85.30 533.75,85.80 533.10,86.30 532.47,86.80 531.86,87.30 531.29,87.80 530.76,88.30 530.30,88.80 529.88,89.30 529.47,89.80 529.08,90.30 528.71,90.80 528.37,91.30 528.05,91.80 527.76,92.30 527.49,92.80 527.27,93.30 527.07,93.80 526.90,94.30 526.73,94.80 526.57,95.30 526.40,95.80 526.40,95.80 526.23,95.30 526.07,94.80 525.90,94.30 525.73,93.80 525.53,93.30 525.31,92.80 525.04,92.30 524.75,91.80 524.43,91.30 524.09,90.80 523.72,90.30 523.33,89.80 522.92,89.30 522.50,88.80 522.04,88.30 521.51,87.80 520.94,87.30 520.33,86.80 519.70,86.30 519.05,85.80 518.40,85.30 517.76,84.80 517.14,84.30 516.55,83.80 516.00,83.30 515.48,82.80 514.92,82.30 514.33,81.80 513.74,81.30 513.14,80.80 512.57,80.30 512.02,79.80 511.52,79.30 511.08,78.80 510.72,78.30 510.44,77.80 510.26,77.30 510.20,76.80 510.24,76.30 510.36,75.80 510.55,75.30 510.80,74.80 511.09,74.30 511.42,73.80 511.78,73.30 512.15,72.80 512.53,72.30 512.91,71.80 513.27,71.30 513.65,70.80 514.06,70.30 514.50,69.80 514.96,69.30 515.45,68.80 515.97,68.30 516.50,67.80 517.06,67.30 517.63,66.80 518.22,66.30 518.83,65.80 519.56,65.30 520.40,64.80 521.21,64.30 521.90,63.80 522.36,63.30 522.73,62.80 523.06,62.30 523.35,61.80 523.59,61.30 523.79,60.80 523.97,60.30 524.12,59.80 524.27,59.30 524.40,58.80 524.53,58.30 524.65,57.80 524.75,57.30 524.85,56.80 524.93,56.30 525.01,55.80 525.07,55.30 525.12,54.80 525.17,54.30 525.21,53.80 525.25,53.30 525.29,52.80 525.32,52.30 525.35,51.80 525.37,51.30 525.39,50.80 525.40,50.30 525.41,49.80 525.42,49.30 525.42,48.80 525.43,48.30 525.44,47.80 525.44,47.30 525.45,46.80 525.45,46.30 525.46,45.80 525.46,45.30 525.47,44.80 525.47,44.30 525.47,43.80 525.48,43.30 525.48,42.80 525.48,42.30 525.48,41.80 525.48,41.30 525.49,40.80 525.49,40.30 525.49,39.80 525.49,39.30 525.49,38.80 525.49,38.30 525.50,37.80 525.50,37.30 525.50,36.80 525.50,36.30 525.50,35.80 525.50,35.30 525.51,34.80 525.51,34.30 525.51,33.80 525.51,33.30 525.51,32.80 525.52,32.30 525.52,31.80 525.52,31.30 525.53,30.80 525.53,30.30 525.54,29.80 525.54,29.30 525.55,28.80 525.55,28.30 525.56,27.80 525.56,27.30 525.57,26.80 525.58,26.30 525.59,25.80 525.59,25.30 525.61,24.80 525.63,24.30 525.68,23.80 525.74,23.30 525.81,22.80 525.89,22.30 525.97,21.80 526.06,21.30 526.15,20.80 526.24,20.30 526.32,19.80 526.40,19.30" fill="#DAA520"/>
<circle cx="526.4" cy="21.6" r="1.2" fill="#DAA520"/>
<circle cx="526.4" cy="38" r="1.2" fill="#DAA520"/>
<rect x="523.20" y="73.00" width="6.40" height="8.00" fill="#fff"/>
<rect x="523.00" y="75.40" width="6.80" height="1.4" fill="#DAA520"/>
<text x="8.0" y="198.2" font-size="14" fill="#000" stroke="#000" stroke-width="0" text-anchor="start" font-weight="bold" >B</text>
<rect x="62.00" y="203.50" width="115.90" height="13.20" fill="#fff" stroke="#8a8a8a" stroke-width="1"/>
<rect x="63.20" y="204.70" width="113.50" height="10.50" fill="#EAEAEA"/>
<rect x="62.00" y="216.70" width="115.90" height="114.50" fill="#fff" stroke="#8a8a8a" stroke-width="1"/>
<text x="120.2" y="213.9" font-size="9.5" fill="#1a1a1a" stroke="#1a1a1a" stroke-width="0.2" text-anchor="middle" font-weight="normal" >T.cells.CD8</text>
<line x1="73.26" y1="331.7" x2="73.26" y2="333.5" stroke="#555" stroke-width="0.8"/>
<text x="0" y="0" font-size="9.5" fill="#1a1a1a" stroke="#1a1a1a" stroke-width="0.2" text-anchor="end" font-weight="normal" transform="translate(78.16,342.09999999999997) rotate(-30)">MNG</text>
<line x1="92.04" y1="331.7" x2="92.04" y2="333.5" stroke="#555" stroke-width="0.8"/>
<text x="0" y="0" font-size="9.5" fill="#1a1a1a" stroke="#1a1a1a" stroke-width="0.2" text-anchor="end" font-weight="normal" transform="translate(96.94,342.09999999999997) rotate(-30)">PA</text>
<line x1="110.81" y1="331.7" x2="110.81" y2="333.5" stroke="#555" stroke-width="0.8"/>
<text x="0" y="0" font-size="9.5" fill="#1a1a1a" stroke="#1a1a1a" stroke-width="0.2" text-anchor="end" font-weight="normal" transform="translate(115.71,342.09999999999997) rotate(-30)">EPN</text>
<line x1="129.59" y1="331.7" x2="129.59" y2="333.5" stroke="#555" stroke-width="0.8"/>
<text x="0" y="0" font-size="9.5" fill="#1a1a1a" stroke="#1a1a1a" stroke-width="0.2" text-anchor="end" font-weight="normal" transform="translate(134.49,342.09999999999997) rotate(-30)">MED</text>
<line x1="148.36" y1="331.7" x2="148.36" y2="333.5" stroke="#555" stroke-width="0.8"/>
<text x="0" y="0" font-size="9.5" fill="#1a1a1a" stroke="#1a1a1a" stroke-width="0.2" text-anchor="end" font-weight="normal" transform="translate(153.26,342.09999999999997) rotate(-30)">GBM</text>
<line x1="167.14" y1="331.7" x2="167.14" y2="333.5" stroke="#555" stroke-width="0.8"/>
<text x="0" y="0" font-size="9.5" fill="#1a1a1a" stroke="#1a1a1a" stroke-width="0.2" text-anchor="end" font-weight="normal" transform="translate(172.04,342.09999999999997) rotate(-30)">LGG</text>
<rect x="181.50" y="203.50" width="116.00" height="13.20" fill="#fff" stroke="#8a8a8a" stroke-width="1"/>
<rect x="182.70" y="204.70" width="113.60" height="10.50" fill="#EAEAEA"/>
<rect x="181.50" y="216.70" width="116.00" height="114.50" fill="#fff" stroke="#8a8a8a" stroke-width="1"/>
<text x="239.6" y="213.9" font-size="9.5" fill="#1a1a1a" stroke="#1a1a1a" stroke-width="0.2" text-anchor="middle" font-weight="normal" >T.cells.CD4.memory.resting</text>
<line x1="192.50" y1="331.7" x2="192.50" y2="333.5" stroke="#555" stroke-width="0.8"/>
<text x="0" y="0" font-size="9.5" fill="#1a1a1a" stroke="#1a1a1a" stroke-width="0.2" text-anchor="end" font-weight="normal" transform="translate(197.40,342.09999999999997) rotate(-30)">MNG</text>
<line x1="211.34" y1="331.7" x2="211.34" y2="333.5" stroke="#555" stroke-width="0.8"/>
<text x="0" y="0" font-size="9.5" fill="#1a1a1a" stroke="#1a1a1a" stroke-width="0.2" text-anchor="end" font-weight="normal" transform="translate(216.24,342.09999999999997) rotate(-30)">PA</text>
<line x1="230.18" y1="331.7" x2="230.18" y2="333.5" stroke="#555" stroke-width="0.8"/>
<text x="0" y="0" font-size="9.5" fill="#1a1a1a" stroke="#1a1a1a" stroke-width="0.2" text-anchor="end" font-weight="normal" transform="translate(235.08,342.09999999999997) rotate(-30)">EPN</text>
<line x1="249.02" y1="331.7" x2="249.02" y2="333.5" stroke="#555" stroke-width="0.8"/>
<text x="0" y="0" font-size="9.5" fill="#1a1a1a" stroke="#1a1a1a" stroke-width="0.2" text-anchor="end" font-weight="normal" transform="translate(253.92,342.09999999999997) rotate(-30)">MED</text>
<line x1="267.86" y1="331.7" x2="267.86" y2="333.5" stroke="#555" stroke-width="0.8"/>
<text x="0" y="0" font-size="9.5" fill="#1a1a1a" stroke="#1a1a1a" stroke-width="0.2" text-anchor="end" font-weight="normal" transform="translate(272.76,342.09999999999997) rotate(-30)">GBM</text>
<line x1="286.70" y1="331.7" x2="286.70" y2="333.5" stroke="#555" stroke-width="0.8"/>
<text x="0" y="0" font-size="9.5" fill="#1a1a1a" stroke="#1a1a1a" stroke-width="0.2" text-anchor="end" font-weight="normal" transform="translate(291.60,342.09999999999997) rotate(-30)">LGG</text>
<rect x="301.30" y="203.50" width="116.00" height="13.20" fill="#fff" stroke="#8a8a8a" stroke-width="1"/>
<rect x="302.50" y="204.70" width="113.60" height="10.50" fill="#EAEAEA"/>
<rect x="301.30" y="216.70" width="116.00" height="114.50" fill="#fff" stroke="#8a8a8a" stroke-width="1"/>
<text x="359.4" y="213.9" font-size="9.5" fill="#1a1a1a" stroke="#1a1a1a" stroke-width="0.2" text-anchor="middle" font-weight="normal" >Macrophages.M2</text>
<line x1="312.30" y1="331.7" x2="312.30" y2="333.5" stroke="#555" stroke-width="0.8"/>
<text x="0" y="0" font-size="9.5" fill="#1a1a1a" stroke="#1a1a1a" stroke-width="0.2" text-anchor="end" font-weight="normal" transform="translate(317.20,342.09999999999997) rotate(-30)">MNG</text>
<line x1="331.14" y1="331.7" x2="331.14" y2="333.5" stroke="#555" stroke-width="0.8"/>
<text x="0" y="0" font-size="9.5" fill="#1a1a1a" stroke="#1a1a1a" stroke-width="0.2" text-anchor="end" font-weight="normal" transform="translate(336.04,342.09999999999997) rotate(-30)">PA</text>
<line x1="349.98" y1="331.7" x2="349.98" y2="333.5" stroke="#555" stroke-width="0.8"/>
<text x="0" y="0" font-size="9.5" fill="#1a1a1a" stroke="#1a1a1a" stroke-width="0.2" text-anchor="end" font-weight="normal" transform="translate(354.88,342.09999999999997) rotate(-30)">EPN</text>
<line x1="368.82" y1="331.7" x2="368.82" y2="333.5" stroke="#555" stroke-width="0.8"/>
<text x="0" y="0" font-size="9.5" fill="#1a1a1a" stroke="#1a1a1a" stroke-width="0.2" text-anchor="end" font-weight="normal" transform="translate(373.72,342.09999999999997) rotate(-30)">MED</text>
<line x1="387.66" y1="331.7" x2="387.66" y2="333.5" stroke="#555" stroke-width="0.8"/>
<text x="0" y="0" font-size="9.5" fill="#1a1a1a" stroke="#1a1a1a" stroke-width="0.2" text-anchor="end" font-weight="normal" transform="translate(392.56,342.09999999999997) rotate(-30)">GBM</text>
<line x1="406.50" y1="331.7" x2="406.50" y2="333.5" stroke="#555" stroke-width="0.8"/>
<text x="0" y="0" font-size="9.5" fill="#1a1a1a" stroke="#1a1a1a" stroke-width="0.2" text-anchor="end" font-weight="normal" transform="translate(411.40,342.09999999999997) rotate(-30)">LGG</text>
<line x1="59.6" y1="326.40" x2="61.5" y2="326.40" stroke="#555" stroke-width="0.8"/>
<text x="59.1" y="329.90" font-size="8.5" fill="#3a3a3a" stroke="#3a3a3a" stroke-width="0.2" text-anchor="end" font-weight="normal" >0.0</text>
<line x1="59.6" y1="291.80" x2="61.5" y2="291.80" stroke="#555" stroke-width="0.8"/>
<text x="59.1" y="295.30" font-size="8.5" fill="#3a3a3a" stroke="#3a3a3a" stroke-width="0.2" text-anchor="end" font-weight="normal" >0.1</text>
<line x1="59.6" y1="257.20" x2="61.5" y2="257.20" stroke="#555" stroke-width="0.8"/>
<text x="59.1" y="260.70" font-size="8.5" fill="#3a3a3a" stroke="#3a3a3a" stroke-width="0.2" text-anchor="end" font-weight="normal" >0.2</text>
<line x1="59.6" y1="222.60" x2="61.5" y2="222.60" stroke="#555" stroke-width="0.8"/>
<text x="59.1" y="226.10" font-size="8.5" fill="#3a3a3a" stroke="#3a3a3a" stroke-width="0.2" text-anchor="end" font-weight="normal" >0.3</text>
<text x="0" y="0" font-size="13" fill="#000" stroke="#000" stroke-width="0.2" text-anchor="middle" font-weight="normal" transform="translate(43.9,274) rotate(-90)">Abundance</text>
<text x="66.3" y="225.3" font-size="8.65" fill="#1a1a1a" stroke="#1a1a1a" stroke-width="0.2" text-anchor="start" font-weight="normal" >Kruskal-Wallis p &lt; 2.2x10<tspan font-size="5.5" dy="-3.2">-16</tspan></text>
<text x="195.5" y="224.3" font-size="8.65" fill="#1a1a1a" stroke="#1a1a1a" stroke-width="0.2" text-anchor="start" font-weight="normal" >Kruskal-Wallis p &lt; 2.2x10<tspan font-size="5.5" dy="-3.2">-16</tspan></text>
<text x="303" y="327.1" font-size="8.65" fill="#1a1a1a" stroke="#1a1a1a" stroke-width="0.2" text-anchor="start" font-weight="normal" >Kruskal-Wallis p &lt; 2.2x10<tspan font-size="5.5" dy="-3.2">-16</tspan></text>
<polygon points="73.00,250.50 73.07,251.00 73.13,251.50 73.19,252.00 73.25,252.50 73.31,253.00 73.37,253.50 73.43,254.00 73.49,254.51 73.55,255.01 73.62,255.51 73.68,256.01 73.76,256.51 73.83,257.01 73.91,257.51 74.00,258.01 74.10,258.51 74.20,259.01 74.31,259.51 74.43,260.01 74.55,260.51 74.69,261.01 74.84,261.51 75.01,262.02 75.20,262.52 75.43,263.02 75.69,263.52 75.97,264.02 76.26,264.52 76.55,265.02 76.82,265.52 77.08,266.02 77.31,266.52 77.51,267.02 77.71,267.52 77.90,268.02 78.08,268.52 78.25,269.02 78.42,269.53 78.59,270.03 78.75,270.53 78.91,271.03 79.07,271.53 79.23,272.03 79.40,272.53 79.56,273.03 79.73,273.53 79.90,274.03 80.09,274.53 80.29,275.03 80.52,275.53 80.76,276.03 81.01,276.53 81.25,277.04 81.49,277.54 81.71,278.04 81.91,278.54 82.07,279.04 82.20,279.54 82.28,280.04 82.30,280.54 82.30,281.04 82.28,281.54 82.26,282.04 82.24,282.54 82.21,283.04 82.17,283.54 82.13,284.04 82.08,284.55 82.02,285.05 81.97,285.55 81.91,286.05 81.84,286.55 81.77,287.05 81.70,287.55 81.63,288.05 81.55,288.55 81.48,289.05 81.37,289.55 81.23,290.05 81.06,290.55 80.87,291.05 80.66,291.55 80.43,292.05 80.19,292.56 79.94,293.06 79.69,293.56 79.44,294.06 79.19,294.56 78.96,295.06 78.73,295.56 78.53,296.06 78.35,296.56 78.19,297.06 78.06,297.56 77.94,298.06 77.81,298.56 77.69,299.06 77.57,299.56 77.47,300.07 77.37,300.57 77.30,301.07 77.24,301.57 77.21,302.07 77.20,302.57 77.21,303.07 77.23,303.57 77.25,304.07 77.28,304.57 77.31,305.07 77.34,305.57 77.36,306.07 77.38,306.57 77.40,307.07 77.40,307.58 77.38,308.08 77.35,308.58 77.29,309.08 77.22,309.58 77.13,310.08 77.03,310.58 76.92,311.08 76.80,311.58 76.68,312.08 76.55,312.58 76.42,313.08 76.28,313.58 76.15,314.08 76.02,314.58 75.87,315.09 75.69,315.59 75.51,316.09 75.33,316.59 75.15,317.09 75.00,317.59 74.87,318.09 74.75,318.59 74.63,319.09 74.52,319.59 74.42,320.09 74.31,320.59 74.20,321.09 74.09,321.59 73.98,322.09 73.86,322.60 73.74,323.10 73.62,323.60 73.49,324.10 73.37,324.60 73.25,325.10 73.12,325.60 73.00,326.10 73.00,326.10 72.88,325.60 72.75,325.10 72.63,324.60 72.51,324.10 72.38,323.60 72.26,323.10 72.14,322.60 72.02,322.09 71.91,321.59 71.80,321.09 71.69,320.59 71.58,320.09 71.48,319.59 71.37,319.09 71.25,318.59 71.13,318.09 71.00,317.59 70.85,317.09 70.67,316.59 70.49,316.09 70.31,315.59 70.13,315.09 69.98,314.58 69.85,314.08 69.72,313.58 69.58,313.08 69.45,312.58 69.32,312.08 69.20,311.58 69.08,311.08 68.97,310.58 68.87,310.08 68.78,309.58 68.71,309.08 68.65,308.58 68.62,308.08 68.60,307.58 68.60,307.07 68.62,306.57 68.64,306.07 68.66,305.57 68.69,305.07 68.72,304.57 68.75,304.07 68.77,303.57 68.79,303.07 68.80,302.57 68.79,302.07 68.76,301.57 68.70,301.07 68.63,300.57 68.53,300.07 68.43,299.56 68.31,299.06 68.19,298.56 68.06,298.06 67.94,297.56 67.81,297.06 67.65,296.56 67.47,296.06 67.27,295.56 67.04,295.06 66.81,294.56 66.56,294.06 66.31,293.56 66.06,293.06 65.81,292.56 65.57,292.05 65.34,291.55 65.13,291.05 64.94,290.55 64.77,290.05 64.63,289.55 64.52,289.05 64.45,288.55 64.37,288.05 64.30,287.55 64.23,287.05 64.16,286.55 64.09,286.05 64.03,285.55 63.98,285.05 63.92,284.55 63.87,284.04 63.83,283.54 63.79,283.04 63.76,282.54 63.74,282.04 63.72,281.54 63.70,281.04 63.70,280.54 63.72,280.04 63.80,279.54 63.93,279.04 64.09,278.54 64.29,278.04 64.51,277.54 64.75,277.04 64.99,276.53 65.24,276.03 65.48,275.53 65.71,275.03 65.91,274.53 66.10,274.03 66.27,273.53 66.44,273.03 66.60,272.53 66.77,272.03 66.93,271.53 67.09,271.03 67.25,270.53 67.41,270.03 67.58,269.53 67.75,269.02 67.92,268.52 68.10,268.02 68.29,267.52 68.49,267.02 68.69,266.52 68.92,266.02 69.18,265.52 69.45,265.02 69.74,264.52 70.03,264.02 70.31,263.52 70.57,263.02 70.80,262.52 70.99,262.02 71.16,261.51 71.31,261.01 71.45,260.51 71.57,260.01 71.69,259.51 71.80,259.01 71.90,258.51 72.00,258.01 72.09,257.51 72.17,257.01 72.24,256.51 72.32,256.01 72.38,255.51 72.45,255.01 72.51,254.51 72.57,254.00 72.63,253.50 72.69,253.00 72.75,252.50 72.81,252.00 72.87,251.50 72.93,251.00 73.00,250.50" fill="#E41A1C"/>
<rect x="70.80" y="278.80" width="4.60" height="19.40" fill="#fff"/>
<rect x="70.60" y="286.10" width="5.00" height="1.4" fill="#E41A1C"/>
<polygon points="91.60,240.40 91.63,240.90 91.66,241.40 91.69,241.90 91.72,242.40 91.75,242.91 91.78,243.41 91.81,243.91 91.83,244.41 91.86,244.91 91.89,245.41 91.91,245.91 91.94,246.41 91.97,246.92 91.99,247.42 92.02,247.92 92.04,248.42 92.07,248.92 92.10,249.42 92.13,249.92 92.16,250.42 92.18,250.92 92.21,251.43 92.24,251.93 92.28,252.43 92.31,252.93 92.34,253.43 92.38,253.93 92.41,254.43 92.45,254.93 92.49,255.44 92.53,255.94 92.57,256.44 92.62,256.94 92.67,257.44 92.71,257.94 92.76,258.44 92.82,258.94 92.88,259.44 92.95,259.95 93.03,260.45 93.12,260.95 93.21,261.45 93.31,261.95 93.42,262.45 93.52,262.95 93.64,263.45 93.75,263.95 93.86,264.46 93.97,264.96 94.08,265.46 94.19,265.96 94.29,266.46 94.39,266.96 94.49,267.46 94.58,267.96 94.67,268.47 94.76,268.97 94.85,269.47 94.95,269.97 95.04,270.47 95.14,270.97 95.24,271.47 95.34,271.97 95.45,272.47 95.56,272.98 95.68,273.48 95.81,273.98 95.95,274.48 96.11,274.98 96.30,275.48 96.51,275.98 96.73,276.48 96.96,276.99 97.19,277.49 97.42,277.99 97.65,278.49 97.87,278.99 98.07,279.49 98.25,279.99 98.40,280.49 98.54,280.99 98.68,281.50 98.82,282.00 98.96,282.50 99.10,283.00 99.24,283.50 99.37,284.00 99.49,284.50 99.61,285.00 99.72,285.51 99.81,286.01 99.90,286.51 99.97,287.01 100.03,287.51 100.07,288.01 100.09,288.51 100.10,289.01 100.10,289.51 100.10,290.02 100.10,290.52 100.10,291.02 100.10,291.52 100.10,292.02 100.10,292.52 100.10,293.02 100.10,293.52 100.10,294.03 100.10,294.53 100.10,295.03 100.10,295.53 100.10,296.03 100.10,296.53 100.10,297.03 100.10,297.53 100.07,298.03 100.01,298.54 99.92,299.04 99.81,299.54 99.67,300.04 99.52,300.54 99.34,301.04 99.16,301.54 98.96,302.04 98.76,302.55 98.55,303.05 98.35,303.55 98.14,304.05 97.94,304.55 97.76,305.05 97.58,305.55 97.42,306.05 97.26,306.55 97.10,307.06 96.93,307.56 96.77,308.06 96.61,308.56 96.44,309.06 96.28,309.56 96.11,310.06 95.95,310.56 95.78,311.06 95.61,311.57 95.45,312.07 95.28,312.57 95.11,313.07 94.94,313.57 94.78,314.07 94.61,314.57 94.43,315.07 94.25,315.58 94.07,316.08 93.88,316.58 93.70,317.08 93.53,317.58 93.36,318.08 93.20,318.58 93.06,319.08 92.93,319.58 92.81,320.09 92.69,320.59 92.58,321.09 92.47,321.59 92.37,322.09 92.28,322.59 92.18,323.09 92.08,323.59 91.99,324.10 91.90,324.60 91.80,325.10 91.70,325.60 91.60,326.10 91.60,326.10 91.50,325.60 91.40,325.10 91.30,324.60 91.21,324.10 91.12,323.59 91.02,323.09 90.92,322.59 90.83,322.09 90.73,321.59 90.62,321.09 90.51,320.59 90.39,320.09 90.27,319.58 90.14,319.08 90.00,318.58 89.84,318.08 89.67,317.58 89.50,317.08 89.32,316.58 89.13,316.08 88.95,315.58 88.77,315.07 88.59,314.57 88.42,314.07 88.26,313.57 88.09,313.07 87.92,312.57 87.75,312.07 87.59,311.57 87.42,311.06 87.25,310.56 87.09,310.06 86.92,309.56 86.76,309.06 86.59,308.56 86.43,308.06 86.27,307.56 86.10,307.06 85.94,306.55 85.78,306.05 85.62,305.55 85.44,305.05 85.26,304.55 85.06,304.05 84.85,303.55 84.65,303.05 84.44,302.55 84.24,302.04 84.04,301.54 83.86,301.04 83.68,300.54 83.53,300.04 83.39,299.54 83.28,299.04 83.19,298.54 83.13,298.03 83.10,297.53 83.10,297.03 83.10,296.53 83.10,296.03 83.10,295.53 83.10,295.03 83.10,294.53 83.10,294.03 83.10,293.52 83.10,293.02 83.10,292.52 83.10,292.02 83.10,291.52 83.10,291.02 83.10,290.52 83.10,290.02 83.10,289.51 83.10,289.01 83.11,288.51 83.13,288.01 83.17,287.51 83.23,287.01 83.30,286.51 83.39,286.01 83.48,285.51 83.59,285.00 83.71,284.50 83.83,284.00 83.96,283.50 84.10,283.00 84.24,282.50 84.38,282.00 84.52,281.50 84.66,280.99 84.80,280.49 84.95,279.99 85.13,279.49 85.33,278.99 85.55,278.49 85.78,277.99 86.01,277.49 86.24,276.99 86.47,276.48 86.69,275.98 86.90,275.48 87.09,274.98 87.25,274.48 87.39,273.98 87.52,273.48 87.64,272.98 87.75,272.47 87.86,271.97 87.96,271.47 88.06,270.97 88.16,270.47 88.25,269.97 88.35,269.47 88.44,268.97 88.53,268.47 88.62,267.96 88.71,267.46 88.81,266.96 88.91,266.46 89.01,265.96 89.12,265.46 89.23,264.96 89.34,264.46 89.45,263.95 89.56,263.45 89.68,262.95 89.78,262.45 89.89,261.95 89.99,261.45 90.08,260.95 90.17,260.45 90.25,259.95 90.32,259.44 90.38,258.94 90.44,258.44 90.49,257.94 90.53,257.44 90.58,256.94 90.63,256.44 90.67,255.94 90.71,255.44 90.75,254.93 90.79,254.43 90.82,253.93 90.86,253.43 90.89,252.93 90.92,252.43 90.96,251.93 90.99,251.43 91.02,250.92 91.04,250.42 91.07,249.92 91.10,249.42 91.13,248.92 91.16,248.42 91.18,247.92 91.21,247.42 91.23,246.92 91.26,246.41 91.29,245.91 91.31,245.41 91.34,244.91 91.37,244.41 91.39,243.91 91.42,243.41 91.45,242.91 91.48,242.40 91.51,241.90 91.54,241.40 91.57,240.90 91.60,240.40" fill="#377EB8"/>
<circle cx="91.6" cy="253.9" r="1.2" fill="#377EB8"/>
<rect x="89.60" y="282.60" width="3.90" height="17.60" fill="#fff"/>
<rect x="89.40" y="291.10" width="4.30" height="1.4" fill="#377EB8"/>
<polygon points="110.40,228.50 110.44,229.00 110.47,229.50 110.51,230.00 110.54,230.50 110.58,231.00 110.62,231.50 110.65,232.00 110.69,232.50 110.72,233.00 110.76,233.50 110.80,234.00 110.83,234.50 110.87,235.00 110.90,235.50 110.94,236.00 110.97,236.50 111.01,237.00 111.05,237.50 111.08,238.00 111.12,238.50 111.16,239.00 111.19,239.50 111.23,240.00 111.26,240.50 111.30,241.00 111.34,241.50 111.37,242.00 111.41,242.50 111.45,243.00 111.49,243.50 111.52,244.00 111.56,244.50 111.60,245.00 111.64,245.50 111.68,246.00 111.71,246.50 111.75,247.00 111.79,247.50 111.82,248.00 111.86,248.50 111.89,249.00 111.93,249.50 111.97,250.00 112.00,250.50 112.04,251.00 112.08,251.50 112.11,252.00 112.15,252.50 112.19,253.00 112.23,253.50 112.27,254.00 112.31,254.50 112.35,255.00 112.39,255.50 112.44,256.00 112.48,256.50 112.53,257.00 112.57,257.50 112.62,258.00 112.67,258.50 112.72,259.00 112.77,259.50 112.83,260.00 112.88,260.50 112.94,261.00 113.00,261.50 113.06,262.00 113.13,262.50 113.19,263.00 113.26,263.50 113.33,264.00 113.40,264.50 113.47,265.00 113.55,265.50 113.62,266.00 113.70,266.50 113.78,267.00 113.86,267.50 113.94,268.00 114.02,268.50 114.11,269.00 114.20,269.50 114.29,270.00 114.38,270.50 114.48,271.00 114.58,271.50 114.68,272.00 114.79,272.50 114.90,273.00 115.01,273.50 115.13,274.00 115.25,274.50 115.40,275.00 115.57,275.50 115.75,276.00 115.95,276.50 116.15,277.00 116.35,277.50 116.54,278.00 116.72,278.50 116.88,279.00 117.02,279.50 117.13,280.00 117.20,280.50 117.25,281.00 117.30,281.50 117.35,282.00 117.39,282.50 117.43,283.00 117.47,283.50 117.51,284.00 117.55,284.50 117.58,285.00 117.61,285.50 117.63,286.00 117.65,286.50 117.67,287.00 117.68,287.50 117.69,288.00 117.70,288.50 117.70,289.00 117.69,289.50 117.67,290.00 117.64,290.50 117.61,291.00 117.56,291.50 117.51,292.00 117.45,292.50 117.39,293.00 117.32,293.50 117.24,294.00 117.16,294.50 117.09,295.00 117.00,295.50 116.92,296.00 116.84,296.50 116.76,297.00 116.68,297.50 116.60,298.00 116.51,298.50 116.40,299.00 116.30,299.50 116.18,300.00 116.06,300.50 115.94,301.00 115.81,301.50 115.69,302.00 115.56,302.50 115.43,303.00 115.31,303.50 115.19,304.00 115.07,304.50 114.96,305.00 114.86,305.50 114.76,306.00 114.67,306.50 114.58,307.00 114.50,307.50 114.42,308.00 114.34,308.50 114.27,309.00 114.19,309.50 114.12,310.00 114.04,310.50 113.97,311.00 113.89,311.50 113.81,312.00 113.73,312.50 113.64,313.00 113.55,313.50 113.46,314.00 113.36,314.50 113.25,315.00 113.14,315.50 113.02,316.00 112.90,316.50 112.77,317.00 112.64,317.50 112.50,318.00 112.37,318.50 112.23,319.00 112.10,319.50 111.96,320.00 111.83,320.50 111.70,321.00 111.57,321.50 111.44,322.00 111.31,322.50 111.18,323.00 111.05,323.50 110.92,324.00 110.79,324.50 110.66,325.00 110.53,325.50 110.40,326.00 110.40,326.00 110.27,325.50 110.14,325.00 110.01,324.50 109.88,324.00 109.75,323.50 109.62,323.00 109.49,322.50 109.36,322.00 109.23,321.50 109.10,321.00 108.97,320.50 108.84,320.00 108.70,319.50 108.57,319.00 108.43,318.50 108.30,318.00 108.16,317.50 108.03,317.00 107.90,316.50 107.78,316.00 107.66,315.50 107.55,315.00 107.44,314.50 107.34,314.00 107.25,313.50 107.16,313.00 107.07,312.50 106.99,312.00 106.91,311.50 106.83,311.00 106.76,310.50 106.68,310.00 106.61,309.50 106.53,309.00 106.46,308.50 106.38,308.00 106.30,307.50 106.22,307.00 106.13,306.50 106.04,306.00 105.94,305.50 105.84,305.00 105.73,304.50 105.61,304.00 105.49,303.50 105.37,303.00 105.24,302.50 105.11,302.00 104.99,301.50 104.86,301.00 104.74,300.50 104.62,300.00 104.50,299.50 104.40,299.00 104.29,298.50 104.20,298.00 104.12,297.50 104.04,297.00 103.96,296.50 103.88,296.00 103.80,295.50 103.71,295.00 103.64,294.50 103.56,294.00 103.48,293.50 103.41,293.00 103.35,292.50 103.29,292.00 103.24,291.50 103.19,291.00 103.16,290.50 103.13,290.00 103.11,289.50 103.10,289.00 103.10,288.50 103.11,288.00 103.12,287.50 103.13,287.00 103.15,286.50 103.17,286.00 103.19,285.50 103.22,285.00 103.25,284.50 103.29,284.00 103.33,283.50 103.37,283.00 103.41,282.50 103.45,282.00 103.50,281.50 103.55,281.00 103.60,280.50 103.67,280.00 103.78,279.50 103.92,279.00 104.08,278.50 104.26,278.00 104.45,277.50 104.65,277.00 104.85,276.50 105.05,276.00 105.23,275.50 105.40,275.00 105.55,274.50 105.67,274.00 105.79,273.50 105.90,273.00 106.01,272.50 106.12,272.00 106.22,271.50 106.32,271.00 106.42,270.50 106.51,270.00 106.60,269.50 106.69,269.00 106.78,268.50 106.86,268.00 106.94,267.50 107.02,267.00 107.10,266.50 107.18,266.00 107.25,265.50 107.33,265.00 107.40,264.50 107.47,264.00 107.54,263.50 107.61,263.00 107.67,262.50 107.74,262.00 107.80,261.50 107.86,261.00 107.92,260.50 107.97,260.00 108.03,259.50 108.08,259.00 108.13,258.50 108.18,258.00 108.23,257.50 108.27,257.00 108.32,256.50 108.36,256.00 108.41,255.50 108.45,255.00 108.49,254.50 108.53,254.00 108.57,253.50 108.61,253.00 108.65,252.50 108.69,252.00 108.72,251.50 108.76,251.00 108.80,250.50 108.83,250.00 108.87,249.50 108.91,249.00 108.94,248.50 108.98,248.00 109.01,247.50 109.05,247.00 109.09,246.50 109.12,246.00 109.16,245.50 109.20,245.00 109.24,244.50 109.28,244.00 109.31,243.50 109.35,243.00 109.39,242.50 109.43,242.00 109.46,241.50 109.50,241.00 109.54,240.50 109.57,240.00 109.61,239.50 109.64,239.00 109.68,238.50 109.72,238.00 109.75,237.50 109.79,237.00 109.83,236.50 109.86,236.00 109.90,235.50 109.93,235.00 109.97,234.50 110.00,234.00 110.04,233.50 110.08,233.00 110.11,232.50 110.15,232.00 110.18,231.50 110.22,231.00 110.26,230.50 110.29,230.00 110.33,229.50 110.36,229.00 110.40,228.50" fill="#4DAF4A"/>
<rect x="108.30" y="279.80" width="4.00" height="22.70" fill="#fff"/>
<rect x="108.10" y="289.00" width="4.40" height="1.4" fill="#4DAF4A"/>
<polygon points="129.30,225.20 129.34,225.70 129.38,226.20 129.42,226.71 129.46,227.21 129.50,227.71 129.53,228.21 129.57,228.71 129.60,229.22 129.64,229.72 129.67,230.22 129.71,230.72 129.74,231.22 129.78,231.73 129.81,232.23 129.85,232.73 129.89,233.23 129.92,233.73 129.96,234.24 130.00,234.74 130.04,235.24 130.07,235.74 130.12,236.24 130.16,236.75 130.20,237.25 130.24,237.75 130.29,238.25 130.34,238.75 130.39,239.26 130.44,239.76 130.49,240.26 130.54,240.76 130.60,241.26 130.66,241.77 130.72,242.27 130.79,242.77 130.86,243.27 130.94,243.77 131.03,244.28 131.11,244.78 131.21,245.28 131.31,245.78 131.41,246.28 131.52,246.79 131.63,247.29 131.74,247.79 131.85,248.29 131.97,248.79 132.09,249.30 132.20,249.80 132.32,250.30 132.45,250.80 132.59,251.30 132.74,251.81 132.89,252.31 133.06,252.81 133.22,253.31 133.39,253.81 133.56,254.32 133.72,254.82 133.89,255.32 134.05,255.82 134.20,256.32 134.35,256.83 134.49,257.33 134.61,257.83 134.73,258.33 134.84,258.83 134.95,259.34 135.06,259.84 135.17,260.34 135.27,260.84 135.38,261.34 135.48,261.85 135.57,262.35 135.66,262.85 135.75,263.35 135.83,263.85 135.90,264.36 135.96,264.86 136.02,265.36 136.07,265.86 136.11,266.36 136.15,266.87 136.19,267.37 136.23,267.87 136.26,268.37 136.29,268.87 136.33,269.38 136.36,269.88 136.39,270.38 136.41,270.88 136.43,271.38 136.45,271.89 136.47,272.39 136.48,272.89 136.49,273.39 136.50,273.89 136.50,274.40 136.49,274.90 136.48,275.40 136.46,275.90 136.44,276.40 136.41,276.90 136.37,277.41 136.33,277.91 136.29,278.41 136.25,278.91 136.20,279.41 136.15,279.92 136.11,280.42 136.06,280.92 135.99,281.42 135.92,281.92 135.84,282.43 135.75,282.93 135.65,283.43 135.55,283.93 135.44,284.43 135.33,284.94 135.22,285.44 135.11,285.94 135.00,286.44 134.89,286.94 134.78,287.45 134.68,287.95 134.58,288.45 134.49,288.95 134.40,289.45 134.32,289.96 134.23,290.46 134.14,290.96 134.06,291.46 133.98,291.96 133.89,292.47 133.81,292.97 133.73,293.47 133.65,293.97 133.57,294.47 133.49,294.98 133.41,295.48 133.33,295.98 133.25,296.48 133.17,296.98 133.09,297.49 133.01,297.99 132.93,298.49 132.85,298.99 132.76,299.49 132.68,300.00 132.60,300.50 132.52,301.00 132.45,301.50 132.37,302.00 132.29,302.51 132.21,303.01 132.14,303.51 132.06,304.01 131.99,304.51 131.91,305.02 131.84,305.52 131.77,306.02 131.70,306.52 131.63,307.02 131.56,307.53 131.50,308.03 131.43,308.53 131.36,309.03 131.30,309.53 131.23,310.04 131.17,310.54 131.11,311.04 131.04,311.54 130.98,312.04 130.92,312.55 130.86,313.05 130.79,313.55 130.73,314.05 130.67,314.55 130.61,315.06 130.55,315.56 130.48,316.06 130.42,316.56 130.36,317.06 130.30,317.57 130.24,318.07 130.18,318.57 130.12,319.07 130.07,319.57 130.01,320.08 129.95,320.58 129.89,321.08 129.83,321.58 129.77,322.08 129.71,322.59 129.65,323.09 129.60,323.59 129.54,324.09 129.48,324.59 129.42,325.10 129.36,325.60 129.30,326.10 129.30,326.10 129.24,325.60 129.18,325.10 129.12,324.59 129.06,324.09 129.00,323.59 128.95,323.09 128.89,322.59 128.83,322.08 128.77,321.58 128.71,321.08 128.65,320.58 128.59,320.08 128.53,319.57 128.48,319.07 128.42,318.57 128.36,318.07 128.30,317.57 128.24,317.06 128.18,316.56 128.12,316.06 128.05,315.56 127.99,315.06 127.93,314.55 127.87,314.05 127.81,313.55 127.74,313.05 127.68,312.55 127.62,312.04 127.56,311.54 127.49,311.04 127.43,310.54 127.37,310.04 127.30,309.53 127.24,309.03 127.17,308.53 127.10,308.03 127.04,307.53 126.97,307.02 126.90,306.52 126.83,306.02 126.76,305.52 126.69,305.02 126.61,304.51 126.54,304.01 126.46,303.51 126.39,303.01 126.31,302.51 126.23,302.00 126.15,301.50 126.08,301.00 126.00,300.50 125.92,300.00 125.84,299.49 125.75,298.99 125.67,298.49 125.59,297.99 125.51,297.49 125.43,296.98 125.35,296.48 125.27,295.98 125.19,295.48 125.11,294.98 125.03,294.47 124.95,293.97 124.87,293.47 124.79,292.97 124.71,292.47 124.62,291.96 124.54,291.46 124.46,290.96 124.37,290.46 124.28,289.96 124.20,289.45 124.11,288.95 124.02,288.45 123.92,287.95 123.82,287.45 123.71,286.94 123.60,286.44 123.49,285.94 123.38,285.44 123.27,284.94 123.16,284.43 123.05,283.93 122.95,283.43 122.85,282.93 122.76,282.43 122.68,281.92 122.61,281.42 122.54,280.92 122.49,280.42 122.45,279.92 122.40,279.41 122.35,278.91 122.31,278.41 122.27,277.91 122.23,277.41 122.19,276.90 122.16,276.40 122.14,275.90 122.12,275.40 122.11,274.90 122.10,274.40 122.10,273.89 122.11,273.39 122.12,272.89 122.13,272.39 122.15,271.89 122.17,271.38 122.19,270.88 122.21,270.38 122.24,269.88 122.27,269.38 122.31,268.87 122.34,268.37 122.37,267.87 122.41,267.37 122.45,266.87 122.49,266.36 122.53,265.86 122.58,265.36 122.64,264.86 122.70,264.36 122.77,263.85 122.85,263.35 122.94,262.85 123.03,262.35 123.12,261.85 123.22,261.34 123.33,260.84 123.43,260.34 123.54,259.84 123.65,259.34 123.76,258.83 123.87,258.33 123.99,257.83 124.11,257.33 124.25,256.83 124.40,256.32 124.55,255.82 124.71,255.32 124.88,254.82 125.04,254.32 125.21,253.81 125.38,253.31 125.54,252.81 125.71,252.31 125.86,251.81 126.01,251.30 126.15,250.80 126.28,250.30 126.40,249.80 126.51,249.30 126.63,248.79 126.75,248.29 126.86,247.79 126.97,247.29 127.08,246.79 127.19,246.28 127.29,245.78 127.39,245.28 127.49,244.78 127.57,244.28 127.66,243.77 127.74,243.27 127.81,242.77 127.88,242.27 127.94,241.77 128.00,241.26 128.06,240.76 128.11,240.26 128.16,239.76 128.21,239.26 128.26,238.75 128.31,238.25 128.36,237.75 128.40,237.25 128.44,236.75 128.48,236.24 128.53,235.74 128.56,235.24 128.60,234.74 128.64,234.24 128.68,233.73 128.71,233.23 128.75,232.73 128.79,232.23 128.82,231.73 128.86,231.22 128.89,230.72 128.93,230.22 128.96,229.72 129.00,229.22 129.03,228.71 129.07,228.21 129.10,227.71 129.14,227.21 129.18,226.71 129.22,226.20 129.26,225.70 129.30,225.20" fill="#984EA3"/>
<rect x="127.90" y="265.60" width="3.50" height="22.40" fill="#fff"/>
<rect x="127.70" y="276.10" width="3.90" height="1.4" fill="#984EA3"/>
<polygon points="148.10,221.20 148.14,221.70 148.17,222.20 148.21,222.70 148.25,223.21 148.30,223.71 148.34,224.21 148.38,224.71 148.42,225.21 148.47,225.71 148.51,226.21 148.55,226.72 148.60,227.22 148.64,227.72 148.68,228.22 148.72,228.72 148.76,229.22 148.80,229.72 148.84,230.23 148.88,230.73 148.91,231.23 148.94,231.73 148.97,232.23 149.00,232.73 149.03,233.23 149.05,233.74 149.07,234.24 149.09,234.74 149.10,235.24 149.11,235.74 149.12,236.24 149.13,236.74 149.14,237.25 149.14,237.75 149.15,238.25 149.16,238.75 149.16,239.25 149.17,239.75 149.17,240.25 149.18,240.76 149.18,241.26 149.19,241.76 149.19,242.26 149.19,242.76 149.20,243.26 149.20,243.76 149.21,244.27 149.21,244.77 149.22,245.27 149.22,245.77 149.23,246.27 149.23,246.77 149.24,247.27 149.25,247.78 149.26,248.28 149.27,248.78 149.28,249.28 149.29,249.78 149.30,250.28 149.32,250.78 149.35,251.29 149.38,251.79 149.42,252.29 149.46,252.79 149.51,253.29 149.56,253.79 149.62,254.29 149.68,254.80 149.74,255.30 149.80,255.80 149.86,256.30 149.93,256.80 149.99,257.30 150.05,257.80 150.11,258.31 150.18,258.81 150.25,259.31 150.33,259.81 150.41,260.31 150.49,260.81 150.57,261.31 150.66,261.82 150.75,262.32 150.83,262.82 150.92,263.32 151.00,263.82 151.07,264.32 151.14,264.82 151.21,265.33 151.26,265.83 151.31,266.33 151.35,266.83 151.39,267.33 151.42,267.83 151.45,268.33 151.48,268.84 151.51,269.34 151.54,269.84 151.57,270.34 151.60,270.84 151.64,271.34 151.69,271.84 151.74,272.35 151.79,272.85 151.86,273.35 151.93,273.85 152.01,274.35 152.10,274.85 152.18,275.35 152.28,275.86 152.37,276.36 152.47,276.86 152.57,277.36 152.67,277.86 152.78,278.36 152.88,278.86 152.98,279.37 153.08,279.87 153.18,280.37 153.27,280.87 153.38,281.37 153.50,281.87 153.63,282.37 153.76,282.88 153.90,283.38 154.03,283.88 154.16,284.38 154.29,284.88 154.42,285.38 154.53,285.88 154.63,286.39 154.72,286.89 154.80,287.39 154.85,287.89 154.89,288.39 154.90,288.89 154.89,289.39 154.88,289.90 154.86,290.40 154.82,290.90 154.78,291.40 154.74,291.90 154.69,292.40 154.63,292.90 154.57,293.41 154.50,293.91 154.43,294.41 154.36,294.91 154.29,295.41 154.21,295.91 154.14,296.41 154.07,296.92 154.00,297.42 153.92,297.92 153.84,298.42 153.75,298.92 153.65,299.42 153.55,299.92 153.45,300.43 153.34,300.93 153.23,301.43 153.11,301.93 153.00,302.43 152.89,302.93 152.77,303.43 152.67,303.94 152.56,304.44 152.46,304.94 152.36,305.44 152.28,305.94 152.19,306.44 152.11,306.94 152.03,307.45 151.95,307.95 151.87,308.45 151.80,308.95 151.73,309.45 151.65,309.95 151.58,310.45 151.51,310.96 151.44,311.46 151.36,311.96 151.29,312.46 151.21,312.96 151.13,313.46 151.05,313.96 150.97,314.47 150.89,314.97 150.81,315.47 150.74,315.97 150.66,316.47 150.58,316.97 150.50,317.47 150.43,317.98 150.34,318.48 150.26,318.98 150.17,319.48 150.08,319.98 149.99,320.48 149.89,320.98 149.78,321.49 149.67,321.99 149.55,322.49 149.42,322.99 149.27,323.49 149.09,323.99 148.90,324.49 148.70,325.00 148.49,325.50 148.29,326.00 148.10,326.50 148.10,326.50 147.91,326.00 147.71,325.50 147.50,325.00 147.30,324.49 147.11,323.99 146.93,323.49 146.78,322.99 146.65,322.49 146.53,321.99 146.42,321.49 146.31,320.98 146.21,320.48 146.12,319.98 146.03,319.48 145.94,318.98 145.86,318.48 145.77,317.98 145.70,317.47 145.62,316.97 145.54,316.47 145.46,315.97 145.39,315.47 145.31,314.97 145.23,314.47 145.15,313.96 145.07,313.46 144.99,312.96 144.91,312.46 144.84,311.96 144.76,311.46 144.69,310.96 144.62,310.45 144.55,309.95 144.47,309.45 144.40,308.95 144.33,308.45 144.25,307.95 144.17,307.45 144.09,306.94 144.01,306.44 143.92,305.94 143.84,305.44 143.74,304.94 143.64,304.44 143.53,303.94 143.43,303.43 143.31,302.93 143.20,302.43 143.09,301.93 142.97,301.43 142.86,300.93 142.75,300.43 142.65,299.92 142.55,299.42 142.45,298.92 142.36,298.42 142.28,297.92 142.20,297.42 142.13,296.92 142.06,296.41 141.99,295.91 141.91,295.41 141.84,294.91 141.77,294.41 141.70,293.91 141.63,293.41 141.57,292.90 141.51,292.40 141.46,291.90 141.42,291.40 141.38,290.90 141.34,290.40 141.32,289.90 141.31,289.39 141.30,288.89 141.31,288.39 141.35,287.89 141.40,287.39 141.48,286.89 141.57,286.39 141.67,285.88 141.78,285.38 141.91,284.88 142.04,284.38 142.17,283.88 142.30,283.38 142.44,282.88 142.57,282.37 142.70,281.87 142.82,281.37 142.93,280.87 143.02,280.37 143.12,279.87 143.22,279.37 143.32,278.86 143.42,278.36 143.53,277.86 143.63,277.36 143.73,276.86 143.83,276.36 143.92,275.86 144.02,275.35 144.10,274.85 144.19,274.35 144.27,273.85 144.34,273.35 144.41,272.85 144.46,272.35 144.51,271.84 144.56,271.34 144.60,270.84 144.63,270.34 144.66,269.84 144.69,269.34 144.72,268.84 144.75,268.33 144.78,267.83 144.81,267.33 144.85,266.83 144.89,266.33 144.94,265.83 144.99,265.33 145.06,264.82 145.13,264.32 145.20,263.82 145.28,263.32 145.37,262.82 145.45,262.32 145.54,261.82 145.63,261.31 145.71,260.81 145.79,260.31 145.87,259.81 145.95,259.31 146.02,258.81 146.09,258.31 146.15,257.80 146.21,257.30 146.27,256.80 146.34,256.30 146.40,255.80 146.46,255.30 146.52,254.80 146.58,254.29 146.64,253.79 146.69,253.29 146.74,252.79 146.78,252.29 146.82,251.79 146.85,251.29 146.88,250.78 146.90,250.28 146.91,249.78 146.92,249.28 146.93,248.78 146.94,248.28 146.95,247.78 146.96,247.27 146.97,246.77 146.97,246.27 146.98,245.77 146.98,245.27 146.99,244.77 146.99,244.27 147.00,243.76 147.00,243.26 147.01,242.76 147.01,242.26 147.01,241.76 147.02,241.26 147.02,240.76 147.03,240.25 147.03,239.75 147.04,239.25 147.04,238.75 147.05,238.25 147.06,237.75 147.06,237.25 147.07,236.74 147.08,236.24 147.09,235.74 147.10,235.24 147.11,234.74 147.13,234.24 147.15,233.74 147.17,233.23 147.20,232.73 147.23,232.23 147.26,231.73 147.29,231.23 147.32,230.73 147.36,230.23 147.40,229.72 147.44,229.22 147.48,228.72 147.52,228.22 147.56,227.72 147.60,227.22 147.65,226.72 147.69,226.21 147.73,225.71 147.78,225.21 147.82,224.71 147.86,224.21 147.90,223.71 147.95,223.21 147.99,222.70 148.03,222.20 148.06,221.70 148.10,221.20" fill="#FF7F00"/>
<circle cx="148.1" cy="235.3" r="1.2" fill="#FF7F00"/>
<rect x="146.20" y="276.00" width="3.40" height="26.30" fill="#fff"/>
<rect x="146.00" y="289.80" width="3.80" height="1.4" fill="#FF7F00"/>
<polygon points="167.30,221.20 167.37,221.70 167.45,222.20 167.52,222.70 167.59,223.20 167.66,223.70 167.74,224.20 167.81,224.70 167.88,225.20 167.95,225.70 168.03,226.20 168.10,226.70 168.18,227.20 168.25,227.70 168.33,228.20 168.41,228.70 168.48,229.20 168.56,229.70 168.63,230.20 168.71,230.70 168.78,231.20 168.86,231.70 168.94,232.20 169.03,232.70 169.12,233.20 169.22,233.70 169.32,234.20 169.44,234.70 169.56,235.20 169.70,235.70 169.85,236.20 170.01,236.70 170.17,237.20 170.34,237.70 170.50,238.20 170.67,238.70 170.84,239.20 171.01,239.70 171.17,240.20 171.32,240.70 171.47,241.20 171.60,241.70 171.72,242.20 171.84,242.70 171.95,243.20 172.06,243.70 172.16,244.20 172.26,244.70 172.36,245.20 172.46,245.70 172.55,246.20 172.64,246.70 172.73,247.20 172.83,247.70 172.92,248.20 173.01,248.70 173.11,249.20 173.20,249.70 173.30,250.20 173.41,250.70 173.52,251.20 173.64,251.70 173.77,252.20 173.91,252.70 174.04,253.20 174.17,253.70 174.30,254.20 174.42,254.70 174.53,255.20 174.64,255.70 174.72,256.20 174.80,256.70 174.85,257.20 174.89,257.70 174.90,258.20 174.90,258.70 174.90,259.20 174.90,259.70 174.90,260.20 174.90,260.70 174.90,261.20 174.90,261.70 174.90,262.20 174.90,262.70 174.90,263.20 174.90,263.70 174.90,264.20 174.90,264.70 174.90,265.20 174.90,265.70 174.90,266.20 174.88,266.70 174.83,267.20 174.74,267.70 174.63,268.20 174.50,268.70 174.35,269.20 174.19,269.70 174.03,270.20 173.87,270.70 173.72,271.20 173.58,271.70 173.45,272.20 173.32,272.70 173.19,273.20 173.06,273.70 172.93,274.20 172.79,274.70 172.66,275.20 172.52,275.70 172.39,276.20 172.26,276.70 172.12,277.20 171.99,277.70 171.86,278.20 171.73,278.70 171.61,279.20 171.49,279.70 171.37,280.20 171.25,280.70 171.14,281.20 171.02,281.70 170.91,282.20 170.79,282.70 170.68,283.20 170.57,283.70 170.46,284.20 170.35,284.70 170.24,285.20 170.14,285.70 170.04,286.20 169.95,286.70 169.86,287.20 169.77,287.70 169.70,288.20 169.63,288.70 169.56,289.20 169.50,289.70 169.44,290.20 169.39,290.70 169.33,291.20 169.28,291.70 169.23,292.20 169.19,292.70 169.14,293.20 169.10,293.70 169.06,294.20 169.01,294.70 168.97,295.20 168.93,295.70 168.89,296.20 168.85,296.70 168.82,297.20 168.78,297.70 168.74,298.20 168.70,298.70 168.66,299.20 168.63,299.70 168.59,300.20 168.56,300.70 168.52,301.20 168.49,301.70 168.45,302.20 168.42,302.70 168.39,303.20 168.35,303.70 168.32,304.20 168.29,304.70 168.26,305.20 168.22,305.70 168.19,306.20 168.16,306.70 168.13,307.20 168.10,307.70 168.07,308.20 168.04,308.70 168.01,309.20 167.98,309.70 167.95,310.20 167.92,310.70 167.89,311.20 167.86,311.70 167.84,312.20 167.81,312.70 167.78,313.20 167.75,313.70 167.72,314.20 167.69,314.70 167.66,315.20 167.63,315.70 167.60,316.20 167.57,316.70 167.54,317.20 167.51,317.70 167.48,318.20 167.45,318.70 167.42,319.20 167.39,319.70 167.36,320.20 167.33,320.70 167.30,321.20 167.30,321.20 167.27,320.70 167.24,320.20 167.21,319.70 167.18,319.20 167.15,318.70 167.12,318.20 167.09,317.70 167.06,317.20 167.03,316.70 167.00,316.20 166.97,315.70 166.94,315.20 166.91,314.70 166.88,314.20 166.85,313.70 166.82,313.20 166.79,312.70 166.76,312.20 166.74,311.70 166.71,311.20 166.68,310.70 166.65,310.20 166.62,309.70 166.59,309.20 166.56,308.70 166.53,308.20 166.50,307.70 166.47,307.20 166.44,306.70 166.41,306.20 166.38,305.70 166.34,305.20 166.31,304.70 166.28,304.20 166.25,303.70 166.21,303.20 166.18,302.70 166.15,302.20 166.11,301.70 166.08,301.20 166.04,300.70 166.01,300.20 165.97,299.70 165.94,299.20 165.90,298.70 165.86,298.20 165.82,297.70 165.78,297.20 165.75,296.70 165.71,296.20 165.67,295.70 165.63,295.20 165.59,294.70 165.54,294.20 165.50,293.70 165.46,293.20 165.41,292.70 165.37,292.20 165.32,291.70 165.27,291.20 165.21,290.70 165.16,290.20 165.10,289.70 165.04,289.20 164.97,288.70 164.90,288.20 164.83,287.70 164.74,287.20 164.65,286.70 164.56,286.20 164.46,285.70 164.36,285.20 164.25,284.70 164.14,284.20 164.03,283.70 163.92,283.20 163.81,282.70 163.69,282.20 163.58,281.70 163.46,281.20 163.35,280.70 163.23,280.20 163.11,279.70 162.99,279.20 162.87,278.70 162.74,278.20 162.61,277.70 162.48,277.20 162.34,276.70 162.21,276.20 162.08,275.70 161.94,275.20 161.81,274.70 161.67,274.20 161.54,273.70 161.41,273.20 161.28,272.70 161.15,272.20 161.02,271.70 160.88,271.20 160.73,270.70 160.57,270.20 160.41,269.70 160.25,269.20 160.10,268.70 159.97,268.20 159.86,267.70 159.77,267.20 159.72,266.70 159.70,266.20 159.70,265.70 159.70,265.20 159.70,264.70 159.70,264.20 159.70,263.70 159.70,263.20 159.70,262.70 159.70,262.20 159.70,261.70 159.70,261.20 159.70,260.70 159.70,260.20 159.70,259.70 159.70,259.20 159.70,258.70 159.70,258.20 159.71,257.70 159.75,257.20 159.80,256.70 159.88,256.20 159.96,255.70 160.07,255.20 160.18,254.70 160.30,254.20 160.43,253.70 160.56,253.20 160.69,252.70 160.83,252.20 160.96,251.70 161.08,251.20 161.19,250.70 161.30,250.20 161.40,249.70 161.49,249.20 161.59,248.70 161.68,248.20 161.77,247.70 161.87,247.20 161.96,246.70 162.05,246.20 162.14,245.70 162.24,245.20 162.34,244.70 162.44,244.20 162.54,243.70 162.65,243.20 162.76,242.70 162.88,242.20 163.00,241.70 163.13,241.20 163.28,240.70 163.43,240.20 163.59,239.70 163.76,239.20 163.93,238.70 164.10,238.20 164.26,237.70 164.43,237.20 164.59,236.70 164.75,236.20 164.90,235.70 165.04,235.20 165.16,234.70 165.28,234.20 165.38,233.70 165.48,233.20 165.57,232.70 165.66,232.20 165.74,231.70 165.82,231.20 165.89,230.70 165.97,230.20 166.04,229.70 166.12,229.20 166.19,228.70 166.27,228.20 166.35,227.70 166.42,227.20 166.50,226.70 166.57,226.20 166.65,225.70 166.72,225.20 166.79,224.70 166.86,224.20 166.94,223.70 167.01,223.20 167.08,222.70 167.15,222.20 167.23,221.70 167.30,221.20" fill="#DAA520"/>
<rect x="164.80" y="252.50" width="4.70" height="20.50" fill="#fff"/>
<rect x="164.60" y="262.80" width="5.10" height="1.4" fill="#DAA520"/>
<polygon points="192.70,221.80 192.78,222.30 192.87,222.80 192.95,223.30 193.04,223.80 193.12,224.30 193.20,224.81 193.29,225.31 193.37,225.81 193.45,226.31 193.53,226.81 193.62,227.31 193.70,227.81 193.79,228.31 193.87,228.81 193.96,229.31 194.04,229.82 194.13,230.32 194.21,230.82 194.30,231.32 194.39,231.82 194.47,232.32 194.56,232.82 194.65,233.32 194.74,233.82 194.83,234.32 194.92,234.83 195.01,235.33 195.10,235.83 195.19,236.33 195.29,236.83 195.38,237.33 195.47,237.83 195.56,238.33 195.66,238.83 195.75,239.33 195.84,239.83 195.94,240.34 196.03,240.84 196.12,241.34 196.22,241.84 196.31,242.34 196.40,242.84 196.50,243.34 196.59,243.84 196.68,244.34 196.78,244.84 196.87,245.35 196.96,245.85 197.05,246.35 197.15,246.85 197.24,247.35 197.33,247.85 197.42,248.35 197.51,248.85 197.60,249.35 197.69,249.85 197.78,250.36 197.87,250.86 197.96,251.36 198.06,251.86 198.15,252.36 198.23,252.86 198.32,253.36 198.41,253.86 198.49,254.36 198.58,254.86 198.66,255.37 198.74,255.87 198.82,256.37 198.90,256.87 198.98,257.37 199.06,257.87 199.14,258.37 199.22,258.87 199.29,259.37 199.37,259.87 199.44,260.37 199.51,260.88 199.58,261.38 199.65,261.88 199.71,262.38 199.77,262.88 199.83,263.38 199.88,263.88 199.94,264.38 199.99,264.88 200.04,265.38 200.10,265.89 200.15,266.39 200.20,266.89 200.26,267.39 200.32,267.89 200.39,268.39 200.46,268.89 200.53,269.39 200.61,269.89 200.69,270.39 200.76,270.90 200.84,271.40 200.92,271.90 200.99,272.40 201.06,272.90 201.13,273.40 201.19,273.90 201.25,274.40 201.30,274.90 201.35,275.40 201.40,275.90 201.45,276.41 201.50,276.91 201.54,277.41 201.59,277.91 201.62,278.41 201.66,278.91 201.68,279.41 201.69,279.91 201.70,280.41 201.67,280.91 201.60,281.42 201.49,281.92 201.34,282.42 201.16,282.92 200.97,283.42 200.75,283.92 200.52,284.42 200.29,284.92 200.06,285.42 199.83,285.92 199.62,286.43 199.43,286.93 199.24,287.43 199.06,287.93 198.87,288.43 198.68,288.93 198.48,289.43 198.29,289.93 198.09,290.43 197.90,290.93 197.71,291.43 197.52,291.94 197.34,292.44 197.16,292.94 196.99,293.44 196.82,293.94 196.66,294.44 196.49,294.94 196.33,295.44 196.17,295.94 196.01,296.44 195.85,296.95 195.70,297.45 195.55,297.95 195.41,298.45 195.27,298.95 195.14,299.45 195.02,299.95 194.91,300.45 194.81,300.95 194.71,301.45 194.62,301.96 194.53,302.46 194.43,302.96 194.35,303.46 194.26,303.96 194.18,304.46 194.11,304.96 194.04,305.46 193.97,305.96 193.92,306.46 193.87,306.97 193.83,307.47 193.80,307.97 193.78,308.47 193.76,308.97 193.74,309.47 193.72,309.97 193.71,310.47 193.70,310.97 193.68,311.47 193.67,311.97 193.66,312.48 193.65,312.98 193.64,313.48 193.63,313.98 193.61,314.48 193.60,314.98 193.59,315.48 193.58,315.98 193.56,316.48 193.55,316.98 193.55,317.49 193.54,317.99 193.53,318.49 193.51,318.99 193.50,319.49 193.49,319.99 193.47,320.49 193.45,320.99 193.43,321.49 193.40,321.99 193.35,322.50 193.25,323.00 193.12,323.50 192.97,324.00 192.83,324.50 192.70,325.00 192.70,325.00 192.57,324.50 192.43,324.00 192.28,323.50 192.15,323.00 192.05,322.50 192.00,321.99 191.97,321.49 191.95,320.99 191.93,320.49 191.91,319.99 191.90,319.49 191.89,318.99 191.87,318.49 191.86,317.99 191.85,317.49 191.85,316.98 191.84,316.48 191.82,315.98 191.81,315.48 191.80,314.98 191.79,314.48 191.77,313.98 191.76,313.48 191.75,312.98 191.74,312.48 191.73,311.97 191.72,311.47 191.70,310.97 191.69,310.47 191.68,309.97 191.66,309.47 191.64,308.97 191.62,308.47 191.60,307.97 191.57,307.47 191.53,306.97 191.48,306.46 191.43,305.96 191.36,305.46 191.29,304.96 191.22,304.46 191.14,303.96 191.05,303.46 190.97,302.96 190.87,302.46 190.78,301.96 190.69,301.45 190.59,300.95 190.49,300.45 190.38,299.95 190.26,299.45 190.13,298.95 189.99,298.45 189.85,297.95 189.70,297.45 189.55,296.95 189.39,296.44 189.23,295.94 189.07,295.44 188.91,294.94 188.74,294.44 188.58,293.94 188.41,293.44 188.24,292.94 188.06,292.44 187.88,291.94 187.69,291.43 187.50,290.93 187.31,290.43 187.11,289.93 186.92,289.43 186.72,288.93 186.53,288.43 186.34,287.93 186.16,287.43 185.97,286.93 185.78,286.43 185.57,285.92 185.34,285.42 185.11,284.92 184.88,284.42 184.65,283.92 184.43,283.42 184.24,282.92 184.06,282.42 183.91,281.92 183.80,281.42 183.73,280.91 183.70,280.41 183.71,279.91 183.72,279.41 183.74,278.91 183.78,278.41 183.81,277.91 183.86,277.41 183.90,276.91 183.95,276.41 184.00,275.90 184.05,275.40 184.10,274.90 184.15,274.40 184.21,273.90 184.27,273.40 184.34,272.90 184.41,272.40 184.48,271.90 184.56,271.40 184.64,270.90 184.71,270.39 184.79,269.89 184.87,269.39 184.94,268.89 185.01,268.39 185.08,267.89 185.14,267.39 185.20,266.89 185.25,266.39 185.30,265.89 185.36,265.38 185.41,264.88 185.46,264.38 185.52,263.88 185.57,263.38 185.63,262.88 185.69,262.38 185.75,261.88 185.82,261.38 185.89,260.88 185.96,260.37 186.03,259.87 186.11,259.37 186.18,258.87 186.26,258.37 186.34,257.87 186.42,257.37 186.50,256.87 186.58,256.37 186.66,255.87 186.74,255.37 186.82,254.86 186.91,254.36 186.99,253.86 187.08,253.36 187.17,252.86 187.25,252.36 187.34,251.86 187.44,251.36 187.53,250.86 187.62,250.36 187.71,249.85 187.80,249.35 187.89,248.85 187.98,248.35 188.07,247.85 188.16,247.35 188.25,246.85 188.35,246.35 188.44,245.85 188.53,245.35 188.62,244.84 188.72,244.34 188.81,243.84 188.90,243.34 189.00,242.84 189.09,242.34 189.18,241.84 189.28,241.34 189.37,240.84 189.46,240.34 189.56,239.83 189.65,239.33 189.74,238.83 189.84,238.33 189.93,237.83 190.02,237.33 190.11,236.83 190.21,236.33 190.30,235.83 190.39,235.33 190.48,234.83 190.57,234.32 190.66,233.82 190.75,233.32 190.84,232.82 190.93,232.32 191.01,231.82 191.10,231.32 191.19,230.82 191.27,230.32 191.36,229.82 191.44,229.31 191.53,228.81 191.61,228.31 191.70,227.81 191.78,227.31 191.87,226.81 191.95,226.31 192.03,225.81 192.11,225.31 192.20,224.81 192.28,224.30 192.36,223.80 192.45,223.30 192.53,222.80 192.62,222.30 192.70,221.80" fill="#E41A1C"/>
<circle cx="192.7" cy="223.5" r="1.2" fill="#E41A1C"/>
<circle cx="192.7" cy="324.2" r="1.2" fill="#E41A1C"/>
<rect x="190.80" y="263.20" width="4.00" height="23.50" fill="#fff"/>
<rect x="190.60" y="277.10" width="4.40" height="1.4" fill="#E41A1C"/>
<polygon points="211.30,235.30 211.36,235.80 211.41,236.30 211.47,236.80 211.52,237.30 211.58,237.81 211.63,238.31 211.68,238.81 211.74,239.31 211.79,239.81 211.84,240.31 211.89,240.81 211.95,241.31 212.00,241.81 212.05,242.32 212.10,242.82 212.15,243.32 212.20,243.82 212.26,244.32 212.31,244.82 212.36,245.32 212.41,245.82 212.47,246.32 212.52,246.83 212.57,247.33 212.63,247.83 212.68,248.33 212.74,248.83 212.79,249.33 212.85,249.83 212.91,250.33 212.96,250.83 213.02,251.34 213.08,251.84 213.14,252.34 213.20,252.84 213.27,253.34 213.33,253.84 213.39,254.34 213.46,254.84 213.53,255.34 213.59,255.85 213.66,256.35 213.73,256.85 213.81,257.35 213.88,257.85 213.96,258.35 214.04,258.85 214.12,259.35 214.20,259.85 214.29,260.35 214.38,260.86 214.47,261.36 214.56,261.86 214.66,262.36 214.76,262.86 214.86,263.36 214.96,263.86 215.06,264.36 215.17,264.86 215.28,265.37 215.40,265.87 215.52,266.37 215.65,266.87 215.78,267.37 215.92,267.87 216.06,268.37 216.20,268.87 216.34,269.37 216.49,269.88 216.63,270.38 216.77,270.88 216.91,271.38 217.04,271.88 217.17,272.38 217.30,272.88 217.42,273.38 217.54,273.88 217.66,274.39 217.78,274.89 217.90,275.39 218.02,275.89 218.14,276.39 218.25,276.89 218.37,277.39 218.49,277.89 218.61,278.39 218.73,278.90 218.85,279.40 218.97,279.90 219.10,280.40 219.25,280.90 219.41,281.40 219.58,281.90 219.75,282.40 219.92,282.90 220.09,283.41 220.25,283.91 220.39,284.41 220.52,284.91 220.63,285.41 220.72,285.91 220.78,286.41 220.80,286.91 220.80,287.41 220.78,287.92 220.76,288.42 220.73,288.92 220.69,289.42 220.65,289.92 220.60,290.42 220.54,290.92 220.48,291.42 220.41,291.92 220.34,292.43 220.27,292.93 220.19,293.43 220.11,293.93 220.02,294.43 219.89,294.93 219.73,295.43 219.55,295.93 219.34,296.43 219.12,296.94 218.89,297.44 218.65,297.94 218.41,298.44 218.17,298.94 217.93,299.44 217.71,299.94 217.51,300.44 217.32,300.94 217.15,301.45 216.98,301.95 216.82,302.45 216.66,302.95 216.51,303.45 216.36,303.95 216.21,304.45 216.06,304.95 215.91,305.45 215.77,305.95 215.63,306.46 215.49,306.96 215.35,307.46 215.21,307.96 215.07,308.46 214.93,308.96 214.78,309.46 214.64,309.96 214.49,310.46 214.35,310.97 214.21,311.47 214.07,311.97 213.94,312.47 213.81,312.97 213.70,313.47 213.59,313.97 213.49,314.47 213.40,314.97 213.33,315.48 213.26,315.98 213.20,316.48 213.15,316.98 213.10,317.48 213.06,317.98 213.01,318.48 212.97,318.98 212.92,319.48 212.87,319.99 212.81,320.49 212.75,320.99 212.68,321.49 212.60,321.99 212.50,322.49 212.39,322.99 212.25,323.49 212.10,323.99 211.94,324.50 211.77,325.00 211.61,325.50 211.45,326.00 211.30,326.50 211.30,326.50 211.15,326.00 210.99,325.50 210.83,325.00 210.66,324.50 210.50,323.99 210.35,323.49 210.21,322.99 210.10,322.49 210.00,321.99 209.92,321.49 209.85,320.99 209.79,320.49 209.73,319.99 209.68,319.48 209.63,318.98 209.59,318.48 209.54,317.98 209.50,317.48 209.45,316.98 209.40,316.48 209.34,315.98 209.27,315.48 209.20,314.97 209.11,314.47 209.01,313.97 208.90,313.47 208.79,312.97 208.66,312.47 208.53,311.97 208.39,311.47 208.25,310.97 208.11,310.46 207.96,309.96 207.82,309.46 207.67,308.96 207.53,308.46 207.39,307.96 207.25,307.46 207.11,306.96 206.97,306.46 206.83,305.95 206.69,305.45 206.54,304.95 206.39,304.45 206.24,303.95 206.09,303.45 205.94,302.95 205.78,302.45 205.62,301.95 205.45,301.45 205.28,300.94 205.09,300.44 204.89,299.94 204.67,299.44 204.43,298.94 204.19,298.44 203.95,297.94 203.71,297.44 203.48,296.94 203.26,296.43 203.05,295.93 202.87,295.43 202.71,294.93 202.58,294.43 202.49,293.93 202.41,293.43 202.33,292.93 202.26,292.43 202.19,291.92 202.12,291.42 202.06,290.92 202.00,290.42 201.95,289.92 201.91,289.42 201.87,288.92 201.84,288.42 201.82,287.92 201.80,287.41 201.80,286.91 201.82,286.41 201.88,285.91 201.97,285.41 202.08,284.91 202.21,284.41 202.35,283.91 202.51,283.41 202.68,282.90 202.85,282.40 203.02,281.90 203.19,281.40 203.35,280.90 203.50,280.40 203.63,279.90 203.75,279.40 203.87,278.90 203.99,278.39 204.11,277.89 204.23,277.39 204.35,276.89 204.46,276.39 204.58,275.89 204.70,275.39 204.82,274.89 204.94,274.39 205.06,273.88 205.18,273.38 205.30,272.88 205.43,272.38 205.56,271.88 205.69,271.38 205.83,270.88 205.97,270.38 206.11,269.88 206.26,269.37 206.40,268.87 206.54,268.37 206.68,267.87 206.82,267.37 206.95,266.87 207.08,266.37 207.20,265.87 207.32,265.37 207.43,264.86 207.54,264.36 207.64,263.86 207.74,263.36 207.84,262.86 207.94,262.36 208.04,261.86 208.13,261.36 208.22,260.86 208.31,260.35 208.40,259.85 208.48,259.35 208.56,258.85 208.64,258.35 208.72,257.85 208.79,257.35 208.87,256.85 208.94,256.35 209.01,255.85 209.07,255.34 209.14,254.84 209.21,254.34 209.27,253.84 209.33,253.34 209.40,252.84 209.46,252.34 209.52,251.84 209.58,251.34 209.64,250.83 209.69,250.33 209.75,249.83 209.81,249.33 209.86,248.83 209.92,248.33 209.97,247.83 210.03,247.33 210.08,246.83 210.13,246.32 210.19,245.82 210.24,245.32 210.29,244.82 210.34,244.32 210.40,243.82 210.45,243.32 210.50,242.82 210.55,242.32 210.60,241.81 210.65,241.31 210.71,240.81 210.76,240.31 210.81,239.81 210.86,239.31 210.92,238.81 210.97,238.31 211.02,237.81 211.08,237.30 211.13,236.80 211.19,236.30 211.24,235.80 211.30,235.30" fill="#377EB8"/>
<rect x="209.60" y="278.40" width="3.50" height="20.50" fill="#fff"/>
<rect x="209.40" y="287.60" width="3.90" height="1.4" fill="#377EB8"/>
<polygon points="230.20,221.80 230.24,222.30 230.28,222.80 230.31,223.30 230.35,223.81 230.38,224.31 230.42,224.81 230.45,225.31 230.48,225.81 230.51,226.31 230.54,226.81 230.57,227.32 230.60,227.82 230.63,228.32 230.66,228.82 230.69,229.32 230.72,229.82 230.75,230.32 230.78,230.83 230.80,231.33 230.83,231.83 230.86,232.33 230.89,232.83 230.92,233.33 230.95,233.83 230.98,234.34 231.01,234.84 231.04,235.34 231.07,235.84 231.10,236.34 231.14,236.84 231.17,237.34 231.21,237.85 231.24,238.35 231.28,238.85 231.31,239.35 231.35,239.85 231.39,240.35 231.43,240.85 231.48,241.36 231.52,241.86 231.56,242.36 231.61,242.86 231.66,243.36 231.71,243.86 231.76,244.36 231.81,244.87 231.87,245.37 231.93,245.87 231.98,246.37 232.05,246.87 232.11,247.37 232.17,247.87 232.24,248.38 232.31,248.88 232.40,249.38 232.50,249.88 232.63,250.38 232.77,250.88 232.93,251.38 233.10,251.89 233.28,252.39 233.47,252.89 233.67,253.39 233.87,253.89 234.08,254.39 234.29,254.89 234.50,255.40 234.71,255.90 234.91,256.40 235.11,256.90 235.30,257.40 235.48,257.90 235.65,258.40 235.80,258.91 235.95,259.41 236.09,259.91 236.23,260.41 236.37,260.91 236.51,261.41 236.64,261.91 236.77,262.42 236.90,262.92 237.03,263.42 237.15,263.92 237.27,264.42 237.38,264.92 237.50,265.42 237.61,265.93 237.72,266.43 237.83,266.93 237.94,267.43 238.05,267.93 238.16,268.43 238.26,268.93 238.36,269.44 238.45,269.94 238.55,270.44 238.63,270.94 238.71,271.44 238.79,271.94 238.87,272.44 238.94,272.95 239.02,273.45 239.10,273.95 239.18,274.45 239.25,274.95 239.32,275.45 239.38,275.95 239.43,276.46 239.47,276.96 239.49,277.46 239.50,277.96 239.49,278.46 239.48,278.96 239.45,279.46 239.41,279.97 239.37,280.47 239.31,280.97 239.25,281.47 239.18,281.97 239.10,282.47 239.02,282.97 238.94,283.48 238.85,283.98 238.76,284.48 238.67,284.98 238.58,285.48 238.48,285.98 238.39,286.48 238.30,286.99 238.21,287.49 238.10,287.99 237.99,288.49 237.87,288.99 237.74,289.49 237.60,289.99 237.46,290.50 237.32,291.00 237.18,291.50 237.04,292.00 236.90,292.50 236.76,293.00 236.63,293.50 236.50,294.01 236.37,294.51 236.25,295.01 236.13,295.51 236.01,296.01 235.89,296.51 235.77,297.01 235.65,297.52 235.53,298.02 235.41,298.52 235.29,299.02 235.16,299.52 235.04,300.02 234.92,300.52 234.79,301.03 234.67,301.53 234.54,302.03 234.41,302.53 234.27,303.03 234.14,303.53 234.00,304.03 233.87,304.54 233.74,305.04 233.60,305.54 233.47,306.04 233.35,306.54 233.22,307.04 233.10,307.54 232.99,308.05 232.88,308.55 232.76,309.05 232.65,309.55 232.54,310.05 232.42,310.55 232.31,311.05 232.21,311.56 232.10,312.06 232.01,312.56 231.91,313.06 231.82,313.56 231.74,314.06 231.66,314.56 231.59,315.07 231.53,315.57 231.47,316.07 231.42,316.57 231.37,317.07 231.32,317.57 231.27,318.07 231.23,318.58 231.19,319.08 231.14,319.58 231.10,320.08 231.05,320.58 231.00,321.08 230.95,321.58 230.89,322.09 230.83,322.59 230.76,323.09 230.70,323.59 230.63,324.09 230.56,324.59 230.49,325.09 230.41,325.60 230.34,326.10 230.27,326.60 230.20,327.10 230.20,327.10 230.13,326.60 230.06,326.10 229.99,325.60 229.91,325.09 229.84,324.59 229.77,324.09 229.70,323.59 229.64,323.09 229.57,322.59 229.51,322.09 229.45,321.58 229.40,321.08 229.35,320.58 229.30,320.08 229.26,319.58 229.21,319.08 229.17,318.58 229.13,318.07 229.08,317.57 229.03,317.07 228.98,316.57 228.93,316.07 228.87,315.57 228.81,315.07 228.74,314.56 228.66,314.06 228.58,313.56 228.49,313.06 228.39,312.56 228.30,312.06 228.19,311.56 228.09,311.05 227.98,310.55 227.86,310.05 227.75,309.55 227.64,309.05 227.52,308.55 227.41,308.05 227.30,307.54 227.18,307.04 227.05,306.54 226.93,306.04 226.80,305.54 226.66,305.04 226.53,304.54 226.40,304.03 226.26,303.53 226.13,303.03 225.99,302.53 225.86,302.03 225.73,301.53 225.61,301.03 225.48,300.52 225.36,300.02 225.24,299.52 225.11,299.02 224.99,298.52 224.87,298.02 224.75,297.52 224.63,297.01 224.51,296.51 224.39,296.01 224.27,295.51 224.15,295.01 224.03,294.51 223.90,294.01 223.77,293.50 223.64,293.00 223.50,292.50 223.36,292.00 223.22,291.50 223.08,291.00 222.94,290.50 222.80,289.99 222.66,289.49 222.53,288.99 222.41,288.49 222.30,287.99 222.19,287.49 222.10,286.99 222.01,286.48 221.92,285.98 221.82,285.48 221.73,284.98 221.64,284.48 221.55,283.98 221.46,283.48 221.38,282.97 221.30,282.47 221.22,281.97 221.15,281.47 221.09,280.97 221.03,280.47 220.99,279.97 220.95,279.46 220.92,278.96 220.91,278.46 220.90,277.96 220.91,277.46 220.93,276.96 220.97,276.46 221.02,275.95 221.08,275.45 221.15,274.95 221.22,274.45 221.30,273.95 221.38,273.45 221.46,272.95 221.53,272.44 221.61,271.94 221.69,271.44 221.77,270.94 221.85,270.44 221.95,269.94 222.04,269.44 222.14,268.93 222.24,268.43 222.35,267.93 222.46,267.43 222.57,266.93 222.68,266.43 222.79,265.93 222.90,265.42 223.02,264.92 223.13,264.42 223.25,263.92 223.37,263.42 223.50,262.92 223.63,262.42 223.76,261.91 223.89,261.41 224.03,260.91 224.17,260.41 224.31,259.91 224.45,259.41 224.60,258.91 224.75,258.40 224.92,257.90 225.10,257.40 225.29,256.90 225.49,256.40 225.69,255.90 225.90,255.40 226.11,254.89 226.32,254.39 226.53,253.89 226.73,253.39 226.93,252.89 227.12,252.39 227.30,251.89 227.47,251.38 227.63,250.88 227.77,250.38 227.90,249.88 228.00,249.38 228.09,248.88 228.16,248.38 228.23,247.87 228.29,247.37 228.35,246.87 228.42,246.37 228.47,245.87 228.53,245.37 228.59,244.87 228.64,244.36 228.69,243.86 228.74,243.36 228.79,242.86 228.84,242.36 228.88,241.86 228.92,241.36 228.97,240.85 229.01,240.35 229.05,239.85 229.09,239.35 229.12,238.85 229.16,238.35 229.19,237.85 229.23,237.34 229.26,236.84 229.30,236.34 229.33,235.84 229.36,235.34 229.39,234.84 229.42,234.34 229.45,233.83 229.48,233.33 229.51,232.83 229.54,232.33 229.57,231.83 229.60,231.33 229.62,230.83 229.65,230.32 229.68,229.82 229.71,229.32 229.74,228.82 229.77,228.32 229.80,227.82 229.83,227.32 229.86,226.81 229.89,226.31 229.92,225.81 229.95,225.31 229.98,224.81 230.02,224.31 230.05,223.81 230.09,223.30 230.12,222.80 230.16,222.30 230.20,221.80" fill="#4DAF4A"/>
<rect x="228.30" y="265.70" width="4.00" height="24.00" fill="#fff"/>
<rect x="228.10" y="282.10" width="4.40" height="1.4" fill="#4DAF4A"/>
<polygon points="249.00,225.10 249.03,225.60 249.06,226.10 249.09,226.60 249.12,227.10 249.15,227.60 249.17,228.11 249.20,228.61 249.23,229.11 249.26,229.61 249.29,230.11 249.32,230.61 249.35,231.11 249.37,231.61 249.40,232.11 249.43,232.61 249.46,233.12 249.49,233.62 249.52,234.12 249.55,234.62 249.57,235.12 249.60,235.62 249.63,236.12 249.66,236.62 249.69,237.12 249.72,237.62 249.75,238.13 249.78,238.63 249.82,239.13 249.85,239.63 249.88,240.13 249.91,240.63 249.94,241.13 249.98,241.63 250.01,242.13 250.04,242.63 250.07,243.14 250.10,243.64 250.14,244.14 250.17,244.64 250.20,245.14 250.23,245.64 250.26,246.14 250.30,246.64 250.34,247.14 250.37,247.64 250.41,248.15 250.46,248.65 250.50,249.15 250.55,249.65 250.61,250.15 250.67,250.65 250.74,251.15 250.82,251.65 250.91,252.15 251.00,252.65 251.10,253.16 251.21,253.66 251.32,254.16 251.44,254.66 251.55,255.16 251.67,255.66 251.78,256.16 251.89,256.66 252.00,257.16 252.11,257.66 252.21,258.17 252.31,258.67 252.42,259.17 252.52,259.67 252.62,260.17 252.72,260.67 252.83,261.17 252.93,261.67 253.03,262.17 253.14,262.67 253.24,263.18 253.33,263.68 253.43,264.18 253.53,264.68 253.62,265.18 253.71,265.68 253.80,266.18 253.88,266.68 253.96,267.18 254.04,267.68 254.12,268.19 254.20,268.69 254.27,269.19 254.34,269.69 254.42,270.19 254.49,270.69 254.56,271.19 254.63,271.69 254.70,272.19 254.78,272.69 254.85,273.20 254.92,273.70 255.00,274.20 255.08,274.70 255.17,275.20 255.26,275.70 255.33,276.20 255.39,276.70 255.43,277.20 255.48,277.70 255.52,278.20 255.56,278.71 255.60,279.21 255.64,279.71 255.67,280.21 255.71,280.71 255.74,281.21 255.78,281.71 255.81,282.21 255.84,282.71 255.87,283.21 255.90,283.72 255.93,284.22 255.95,284.72 255.97,285.22 256.00,285.72 256.02,286.22 256.03,286.72 256.05,287.22 256.06,287.72 256.07,288.22 256.08,288.73 256.09,289.23 256.10,289.73 256.10,290.23 256.10,290.73 256.09,291.23 256.08,291.73 256.07,292.23 256.05,292.73 256.02,293.23 255.99,293.74 255.95,294.24 255.91,294.74 255.87,295.24 255.82,295.74 255.77,296.24 255.72,296.74 255.67,297.24 255.61,297.74 255.56,298.24 255.50,298.75 255.44,299.25 255.38,299.75 255.33,300.25 255.27,300.75 255.21,301.25 255.16,301.75 255.10,302.25 255.05,302.75 255.00,303.25 254.96,303.76 254.91,304.26 254.87,304.76 254.83,305.26 254.79,305.76 254.76,306.26 254.72,306.76 254.68,307.26 254.65,307.76 254.61,308.26 254.58,308.77 254.54,309.27 254.51,309.77 254.48,310.27 254.44,310.77 254.41,311.27 254.38,311.77 254.34,312.27 254.31,312.77 254.27,313.27 254.24,313.78 254.20,314.28 254.17,314.78 254.13,315.28 254.09,315.78 254.05,316.28 254.01,316.78 253.97,317.28 253.93,317.78 253.88,318.28 253.84,318.79 253.79,319.29 253.74,319.79 253.69,320.29 253.65,320.79 253.62,321.29 253.59,321.79 253.57,322.29 253.54,322.79 253.50,323.29 253.45,323.80 253.38,324.30 253.28,324.80 253.16,325.30 253.01,325.80 249.00,326.30 249.00,326.30 244.99,325.80 244.84,325.30 244.72,324.80 244.62,324.30 244.55,323.80 244.50,323.29 244.46,322.79 244.43,322.29 244.41,321.79 244.38,321.29 244.35,320.79 244.31,320.29 244.26,319.79 244.21,319.29 244.16,318.79 244.12,318.28 244.07,317.78 244.03,317.28 243.99,316.78 243.95,316.28 243.91,315.78 243.87,315.28 243.83,314.78 243.80,314.28 243.76,313.78 243.73,313.27 243.69,312.77 243.66,312.27 243.62,311.77 243.59,311.27 243.56,310.77 243.52,310.27 243.49,309.77 243.46,309.27 243.42,308.77 243.39,308.26 243.35,307.76 243.32,307.26 243.28,306.76 243.24,306.26 243.21,305.76 243.17,305.26 243.13,304.76 243.09,304.26 243.04,303.76 243.00,303.25 242.95,302.75 242.90,302.25 242.84,301.75 242.79,301.25 242.73,300.75 242.67,300.25 242.62,299.75 242.56,299.25 242.50,298.75 242.44,298.24 242.39,297.74 242.33,297.24 242.28,296.74 242.23,296.24 242.18,295.74 242.13,295.24 242.09,294.74 242.05,294.24 242.01,293.74 241.98,293.23 241.95,292.73 241.93,292.23 241.92,291.73 241.91,291.23 241.90,290.73 241.90,290.23 241.90,289.73 241.91,289.23 241.92,288.73 241.93,288.22 241.94,287.72 241.95,287.22 241.97,286.72 241.98,286.22 242.00,285.72 242.03,285.22 242.05,284.72 242.07,284.22 242.10,283.72 242.13,283.21 242.16,282.71 242.19,282.21 242.22,281.71 242.26,281.21 242.29,280.71 242.33,280.21 242.36,279.71 242.40,279.21 242.44,278.71 242.48,278.20 242.52,277.70 242.57,277.20 242.61,276.70 242.67,276.20 242.74,275.70 242.83,275.20 242.92,274.70 243.00,274.20 243.08,273.70 243.15,273.20 243.22,272.69 243.30,272.19 243.37,271.69 243.44,271.19 243.51,270.69 243.58,270.19 243.66,269.69 243.73,269.19 243.80,268.69 243.88,268.19 243.96,267.68 244.04,267.18 244.12,266.68 244.20,266.18 244.29,265.68 244.38,265.18 244.47,264.68 244.57,264.18 244.67,263.68 244.76,263.18 244.86,262.67 244.97,262.17 245.07,261.67 245.17,261.17 245.28,260.67 245.38,260.17 245.48,259.67 245.58,259.17 245.69,258.67 245.79,258.17 245.89,257.66 246.00,257.16 246.11,256.66 246.22,256.16 246.33,255.66 246.45,255.16 246.56,254.66 246.68,254.16 246.79,253.66 246.90,253.16 247.00,252.65 247.09,252.15 247.18,251.65 247.26,251.15 247.33,250.65 247.39,250.15 247.45,249.65 247.50,249.15 247.54,248.65 247.59,248.15 247.63,247.64 247.66,247.14 247.70,246.64 247.74,246.14 247.77,245.64 247.80,245.14 247.83,244.64 247.86,244.14 247.90,243.64 247.93,243.14 247.96,242.63 247.99,242.13 248.02,241.63 248.06,241.13 248.09,240.63 248.12,240.13 248.15,239.63 248.18,239.13 248.22,238.63 248.25,238.13 248.28,237.62 248.31,237.12 248.34,236.62 248.37,236.12 248.40,235.62 248.43,235.12 248.45,234.62 248.48,234.12 248.51,233.62 248.54,233.12 248.57,232.61 248.60,232.11 248.63,231.61 248.65,231.11 248.68,230.61 248.71,230.11 248.74,229.61 248.77,229.11 248.80,228.61 248.83,228.11 248.85,227.60 248.88,227.10 248.91,226.60 248.94,226.10 248.97,225.60 249.00,225.10" fill="#984EA3"/>
<rect x="246.90" y="278.80" width="3.90" height="26.60" fill="#fff"/>
<rect x="246.70" y="290.90" width="4.30" height="1.4" fill="#984EA3"/>
<polygon points="267.60,224.30 267.67,224.80 267.74,225.30 267.82,225.80 267.90,226.31 267.98,226.81 268.06,227.31 268.15,227.81 268.22,228.31 268.30,228.81 268.37,229.31 268.43,229.82 268.49,230.32 268.53,230.82 268.57,231.32 268.60,231.82 268.61,232.32 268.63,232.82 268.64,233.33 268.65,233.83 268.66,234.33 268.67,234.83 268.68,235.33 268.69,235.83 268.69,236.34 268.70,236.84 268.71,237.34 268.71,237.84 268.72,238.34 268.73,238.84 268.74,239.34 268.74,239.85 268.75,240.35 268.77,240.85 268.78,241.35 268.80,241.85 268.81,242.35 268.84,242.85 268.87,243.36 268.90,243.86 268.94,244.36 268.98,244.86 269.03,245.36 269.08,245.86 269.13,246.36 269.19,246.87 269.25,247.37 269.31,247.87 269.37,248.37 269.44,248.87 269.50,249.37 269.57,249.87 269.64,250.38 269.71,250.88 269.79,251.38 269.88,251.88 269.98,252.38 270.08,252.88 270.18,253.38 270.29,253.89 270.40,254.39 270.51,254.89 270.62,255.39 270.73,255.89 270.84,256.39 270.95,256.90 271.06,257.40 271.16,257.90 271.26,258.40 271.36,258.90 271.46,259.40 271.56,259.90 271.66,260.41 271.76,260.91 271.85,261.41 271.95,261.91 272.05,262.41 272.15,262.91 272.25,263.41 272.35,263.92 272.45,264.42 272.55,264.92 272.65,265.42 272.74,265.92 272.84,266.42 272.95,266.92 273.05,267.43 273.16,267.93 273.26,268.43 273.37,268.93 273.48,269.43 273.58,269.93 273.69,270.43 273.79,270.94 273.89,271.44 273.99,271.94 274.09,272.44 274.18,272.94 274.27,273.44 274.36,273.94 274.44,274.45 274.53,274.95 274.62,275.45 274.71,275.95 274.80,276.45 274.89,276.95 274.98,277.46 275.06,277.96 275.13,278.46 275.19,278.96 275.24,279.46 275.28,279.96 275.30,280.46 275.30,280.97 275.30,281.47 275.29,281.97 275.28,282.47 275.27,282.97 275.25,283.47 275.24,283.97 275.22,284.48 275.19,284.98 275.17,285.48 275.14,285.98 275.11,286.48 275.08,286.98 275.05,287.48 275.02,287.99 274.98,288.49 274.95,288.99 274.91,289.49 274.87,289.99 274.83,290.49 274.79,290.99 274.75,291.50 274.71,292.00 274.67,292.50 274.63,293.00 274.59,293.50 274.55,294.00 274.51,294.50 274.47,295.01 274.42,295.51 274.38,296.01 274.33,296.51 274.28,297.01 274.23,297.51 274.18,298.02 274.12,298.52 274.06,299.02 274.01,299.52 273.94,300.02 273.88,300.52 273.82,301.02 273.75,301.53 273.69,302.03 273.62,302.53 273.55,303.03 273.49,303.53 273.42,304.03 273.34,304.53 273.27,305.04 273.20,305.54 273.13,306.04 273.06,306.54 272.99,307.04 272.91,307.54 272.84,308.04 272.77,308.55 272.69,309.05 272.62,309.55 272.55,310.05 272.48,310.55 272.41,311.05 272.34,311.55 272.28,312.06 272.22,312.56 272.16,313.06 272.09,313.56 272.03,314.06 271.97,314.56 271.91,315.06 271.85,315.57 271.78,316.07 271.71,316.57 271.64,317.07 271.56,317.57 271.48,318.07 271.40,318.58 271.31,319.08 271.21,319.58 271.11,320.08 271.00,320.58 270.89,321.08 270.76,321.58 270.63,322.09 270.47,322.59 270.26,323.09 269.99,323.59 269.68,324.09 269.34,324.59 268.99,325.09 268.63,325.60 268.27,326.10 267.92,326.60 267.60,327.10 267.60,327.10 267.28,326.60 266.93,326.10 266.57,325.60 266.21,325.09 265.86,324.59 265.52,324.09 265.21,323.59 264.94,323.09 264.73,322.59 264.57,322.09 264.44,321.58 264.31,321.08 264.20,320.58 264.09,320.08 263.99,319.58 263.89,319.08 263.80,318.58 263.72,318.07 263.64,317.57 263.56,317.07 263.49,316.57 263.42,316.07 263.35,315.57 263.29,315.06 263.23,314.56 263.17,314.06 263.11,313.56 263.04,313.06 262.98,312.56 262.92,312.06 262.86,311.55 262.79,311.05 262.72,310.55 262.65,310.05 262.58,309.55 262.51,309.05 262.43,308.55 262.36,308.04 262.29,307.54 262.21,307.04 262.14,306.54 262.07,306.04 262.00,305.54 261.93,305.04 261.86,304.53 261.78,304.03 261.71,303.53 261.65,303.03 261.58,302.53 261.51,302.03 261.45,301.53 261.38,301.02 261.32,300.52 261.26,300.02 261.19,299.52 261.14,299.02 261.08,298.52 261.02,298.02 260.97,297.51 260.92,297.01 260.87,296.51 260.82,296.01 260.78,295.51 260.73,295.01 260.69,294.50 260.65,294.00 260.61,293.50 260.57,293.00 260.53,292.50 260.49,292.00 260.45,291.50 260.41,290.99 260.37,290.49 260.33,289.99 260.29,289.49 260.25,288.99 260.22,288.49 260.18,287.99 260.15,287.48 260.12,286.98 260.09,286.48 260.06,285.98 260.03,285.48 260.01,284.98 259.98,284.48 259.96,283.97 259.95,283.47 259.93,282.97 259.92,282.47 259.91,281.97 259.90,281.47 259.90,280.97 259.90,280.46 259.92,279.96 259.96,279.46 260.01,278.96 260.07,278.46 260.14,277.96 260.22,277.46 260.31,276.95 260.40,276.45 260.49,275.95 260.58,275.45 260.67,274.95 260.76,274.45 260.84,273.94 260.93,273.44 261.02,272.94 261.11,272.44 261.21,271.94 261.31,271.44 261.41,270.94 261.51,270.43 261.62,269.93 261.72,269.43 261.83,268.93 261.94,268.43 262.04,267.93 262.15,267.43 262.25,266.92 262.36,266.42 262.46,265.92 262.55,265.42 262.65,264.92 262.75,264.42 262.85,263.92 262.95,263.41 263.05,262.91 263.15,262.41 263.25,261.91 263.35,261.41 263.44,260.91 263.54,260.41 263.64,259.90 263.74,259.40 263.84,258.90 263.94,258.40 264.04,257.90 264.14,257.40 264.25,256.90 264.36,256.39 264.47,255.89 264.58,255.39 264.69,254.89 264.80,254.39 264.91,253.89 265.02,253.38 265.12,252.88 265.22,252.38 265.32,251.88 265.41,251.38 265.49,250.88 265.56,250.38 265.63,249.87 265.70,249.37 265.76,248.87 265.83,248.37 265.89,247.87 265.95,247.37 266.01,246.87 266.07,246.36 266.12,245.86 266.17,245.36 266.22,244.86 266.26,244.36 266.30,243.86 266.33,243.36 266.36,242.85 266.39,242.35 266.40,241.85 266.42,241.35 266.43,240.85 266.45,240.35 266.46,239.85 266.46,239.34 266.47,238.84 266.48,238.34 266.49,237.84 266.49,237.34 266.50,236.84 266.51,236.34 266.51,235.83 266.52,235.33 266.53,234.83 266.54,234.33 266.55,233.83 266.56,233.33 266.57,232.82 266.59,232.32 266.60,231.82 266.63,231.32 266.67,230.82 266.71,230.32 266.77,229.82 266.83,229.31 266.90,228.81 266.98,228.31 267.05,227.81 267.14,227.31 267.22,226.81 267.30,226.31 267.38,225.80 267.46,225.30 267.53,224.80 267.60,224.30" fill="#FF7F00"/>
<circle cx="267.6" cy="231.9" r="1.2" fill="#FF7F00"/>
<rect x="265.60" y="275.80" width="4.00" height="25.70" fill="#fff"/>
<rect x="265.40" y="288.00" width="4.40" height="1.4" fill="#FF7F00"/>
<polygon points="286.50,236.10 286.52,236.60 286.55,237.10 286.57,237.61 286.59,238.11 286.62,238.61 286.64,239.11 286.66,239.62 286.69,240.12 286.71,240.62 286.73,241.12 286.76,241.62 286.78,242.13 286.80,242.63 286.82,243.13 286.85,243.63 286.87,244.14 286.89,244.64 286.92,245.14 286.94,245.64 286.96,246.15 286.99,246.65 287.01,247.15 287.03,247.65 287.06,248.15 287.08,248.66 287.10,249.16 287.13,249.66 287.15,250.16 287.18,250.67 287.20,251.17 287.23,251.67 287.25,252.17 287.28,252.68 287.30,253.18 287.33,253.68 287.36,254.18 287.38,254.68 287.41,255.19 287.44,255.69 287.46,256.19 287.49,256.69 287.52,257.20 287.54,257.70 287.57,258.20 287.60,258.70 287.62,259.20 287.65,259.71 287.68,260.21 287.71,260.71 287.74,261.21 287.77,261.72 287.80,262.22 287.84,262.72 287.87,263.22 287.91,263.73 287.94,264.23 287.98,264.73 288.02,265.23 288.06,265.73 288.10,266.24 288.14,266.74 288.18,267.24 288.23,267.74 288.27,268.25 288.32,268.75 288.36,269.25 288.41,269.75 288.46,270.25 288.51,270.76 288.56,271.26 288.62,271.76 288.67,272.26 288.73,272.77 288.78,273.27 288.84,273.77 288.91,274.27 288.97,274.77 289.04,275.28 289.10,275.78 289.17,276.28 289.24,276.78 289.32,277.29 289.39,277.79 289.47,278.29 289.55,278.79 289.64,279.30 289.72,279.80 289.81,280.30 289.90,280.80 290.00,281.30 290.13,281.81 290.27,282.31 290.42,282.81 290.59,283.31 290.77,283.82 290.95,284.32 291.13,284.82 291.32,285.32 291.51,285.82 291.69,286.33 291.86,286.83 292.03,287.33 292.18,287.83 292.31,288.34 292.43,288.84 292.54,289.34 292.65,289.84 292.76,290.35 292.87,290.85 292.97,291.35 293.08,291.85 293.18,292.35 293.27,292.86 293.37,293.36 293.46,293.86 293.55,294.36 293.64,294.87 293.72,295.37 293.81,295.87 293.88,296.37 293.96,296.88 294.03,297.38 294.10,297.88 294.17,298.38 294.23,298.88 294.29,299.39 294.34,299.89 294.39,300.39 294.44,300.89 294.48,301.40 294.53,301.90 294.58,302.40 294.63,302.90 294.67,303.40 294.72,303.91 294.76,304.41 294.81,304.91 294.85,305.41 294.89,305.92 294.93,306.42 294.97,306.92 295.01,307.42 295.05,307.93 295.09,308.43 295.12,308.93 295.16,309.43 295.19,309.93 295.22,310.44 295.25,310.94 295.27,311.44 295.30,311.94 295.32,312.45 295.34,312.95 295.35,313.45 295.37,313.95 295.38,314.45 295.39,314.96 295.40,315.46 295.40,315.96 295.40,316.46 295.40,316.97 295.39,317.47 295.38,317.97 295.36,318.47 295.32,318.98 295.28,319.48 295.22,319.98 295.15,320.48 295.06,320.98 294.94,321.49 294.81,321.99 294.65,322.49 294.46,322.99 294.25,323.50 294.01,324.00 286.50,324.50 286.50,324.50 278.99,324.00 278.75,323.50 278.54,322.99 278.35,322.49 278.19,321.99 278.06,321.49 277.94,320.98 277.85,320.48 277.78,319.98 277.72,319.48 277.68,318.98 277.64,318.47 277.62,317.97 277.61,317.47 277.60,316.97 277.60,316.46 277.60,315.96 277.60,315.46 277.61,314.96 277.62,314.45 277.63,313.95 277.65,313.45 277.66,312.95 277.68,312.45 277.70,311.94 277.73,311.44 277.75,310.94 277.78,310.44 277.81,309.93 277.84,309.43 277.88,308.93 277.91,308.43 277.95,307.93 277.99,307.42 278.03,306.92 278.07,306.42 278.11,305.92 278.15,305.41 278.19,304.91 278.24,304.41 278.28,303.91 278.33,303.40 278.37,302.90 278.42,302.40 278.47,301.90 278.52,301.40 278.56,300.89 278.61,300.39 278.66,299.89 278.71,299.39 278.77,298.88 278.83,298.38 278.90,297.88 278.97,297.38 279.04,296.88 279.12,296.37 279.19,295.87 279.28,295.37 279.36,294.87 279.45,294.36 279.54,293.86 279.63,293.36 279.73,292.86 279.82,292.35 279.92,291.85 280.03,291.35 280.13,290.85 280.24,290.35 280.35,289.84 280.46,289.34 280.57,288.84 280.69,288.34 280.82,287.83 280.97,287.33 281.14,286.83 281.31,286.33 281.49,285.82 281.68,285.32 281.87,284.82 282.05,284.32 282.23,283.82 282.41,283.31 282.58,282.81 282.73,282.31 282.87,281.81 283.00,281.30 283.10,280.80 283.19,280.30 283.28,279.80 283.36,279.30 283.45,278.79 283.53,278.29 283.61,277.79 283.68,277.29 283.76,276.78 283.83,276.28 283.90,275.78 283.96,275.28 284.03,274.77 284.09,274.27 284.16,273.77 284.22,273.27 284.27,272.77 284.33,272.26 284.38,271.76 284.44,271.26 284.49,270.76 284.54,270.25 284.59,269.75 284.64,269.25 284.68,268.75 284.73,268.25 284.77,267.74 284.82,267.24 284.86,266.74 284.90,266.24 284.94,265.73 284.98,265.23 285.02,264.73 285.06,264.23 285.09,263.73 285.13,263.22 285.16,262.72 285.20,262.22 285.23,261.72 285.26,261.21 285.29,260.71 285.32,260.21 285.35,259.71 285.38,259.20 285.40,258.70 285.43,258.20 285.46,257.70 285.48,257.20 285.51,256.69 285.54,256.19 285.56,255.69 285.59,255.19 285.62,254.68 285.64,254.18 285.67,253.68 285.70,253.18 285.72,252.68 285.75,252.17 285.77,251.67 285.80,251.17 285.82,250.67 285.85,250.16 285.87,249.66 285.90,249.16 285.92,248.66 285.94,248.15 285.97,247.65 285.99,247.15 286.01,246.65 286.04,246.15 286.06,245.64 286.08,245.14 286.11,244.64 286.13,244.14 286.15,243.63 286.18,243.13 286.20,242.63 286.22,242.13 286.24,241.62 286.27,241.12 286.29,240.62 286.31,240.12 286.34,239.62 286.36,239.11 286.38,238.61 286.41,238.11 286.43,237.61 286.45,237.10 286.48,236.60 286.50,236.10" fill="#DAA520"/>
<rect x="284.70" y="295.60" width="3.60" height="26.60" fill="#fff"/>
<rect x="284.50" y="309.70" width="4.00" height="1.4" fill="#DAA520"/>
<polygon points="312.20,221.80 312.34,222.30 312.48,222.80 312.62,223.31 312.76,223.81 312.91,224.31 313.05,224.81 313.20,225.31 313.34,225.82 313.49,226.32 313.64,226.82 313.78,227.32 313.92,227.82 314.07,228.33 314.23,228.83 314.41,229.33 314.62,229.83 314.88,230.33 315.24,230.84 315.67,231.34 316.15,231.84 316.65,232.34 317.15,232.84 317.60,233.35 318.00,233.85 318.32,234.35 318.63,234.85 318.92,235.36 319.19,235.86 319.45,236.36 319.70,236.86 319.93,237.36 320.14,237.87 320.36,238.37 320.59,238.87 320.82,239.37 321.04,239.87 321.24,240.38 321.41,240.88 321.53,241.38 321.59,241.88 321.60,242.38 321.59,242.89 321.56,243.39 321.53,243.89 321.48,244.39 321.43,244.89 321.36,245.40 321.29,245.90 321.21,246.40 321.13,246.90 321.04,247.40 320.95,247.91 320.85,248.41 320.75,248.91 320.64,249.41 320.54,249.91 320.43,250.42 320.28,250.92 320.11,251.42 319.91,251.92 319.69,252.42 319.45,252.93 319.19,253.43 318.93,253.93 318.65,254.43 318.38,254.93 318.10,255.44 317.83,255.94 317.57,256.44 317.31,256.94 317.08,257.44 316.86,257.95 316.66,258.45 316.46,258.95 316.25,259.45 316.05,259.96 315.85,260.46 315.64,260.96 315.45,261.46 315.25,261.96 315.07,262.47 314.89,262.97 314.71,263.47 314.55,263.97 314.41,264.47 314.27,264.98 314.15,265.48 314.04,265.98 313.95,266.48 313.86,266.98 313.78,267.49 313.70,267.99 313.62,268.49 313.55,268.99 313.48,269.49 313.42,270.00 313.36,270.50 313.31,271.00 313.27,271.50 313.23,272.00 313.20,272.51 313.18,273.01 313.16,273.51 313.14,274.01 313.13,274.51 313.11,275.02 313.09,275.52 313.08,276.02 313.07,276.52 313.05,277.02 313.04,277.53 313.03,278.03 313.02,278.53 313.01,279.03 313.00,279.53 312.99,280.04 312.98,280.54 312.97,281.04 312.96,281.54 312.96,282.04 312.95,282.55 312.94,283.05 312.93,283.55 312.92,284.05 312.91,284.56 312.90,285.06 312.89,285.56 312.88,286.06 312.87,286.56 312.86,287.07 312.85,287.57 312.84,288.07 312.83,288.57 312.82,289.07 312.81,289.58 312.80,290.08 312.79,290.58 312.78,291.08 312.77,291.58 312.76,292.09 312.76,292.59 312.75,293.09 312.74,293.59 312.73,294.09 312.72,294.60 312.71,295.10 312.70,295.60 311.70,295.60 311.69,295.10 311.68,294.60 311.67,294.09 311.66,293.59 311.65,293.09 311.64,292.59 311.64,292.09 311.63,291.58 311.62,291.08 311.61,290.58 311.60,290.08 311.59,289.58 311.58,289.07 311.57,288.57 311.56,288.07 311.55,287.57 311.54,287.07 311.53,286.56 311.52,286.06 311.51,285.56 311.50,285.06 311.49,284.56 311.48,284.05 311.47,283.55 311.46,283.05 311.45,282.55 311.44,282.04 311.44,281.54 311.43,281.04 311.42,280.54 311.41,280.04 311.40,279.53 311.39,279.03 311.38,278.53 311.37,278.03 311.36,277.53 311.35,277.02 311.33,276.52 311.32,276.02 311.31,275.52 311.29,275.02 311.27,274.51 311.26,274.01 311.24,273.51 311.22,273.01 311.20,272.51 311.17,272.00 311.13,271.50 311.09,271.00 311.04,270.50 310.98,270.00 310.92,269.49 310.85,268.99 310.78,268.49 310.70,267.99 310.62,267.49 310.54,266.98 310.45,266.48 310.36,265.98 310.25,265.48 310.13,264.98 309.99,264.47 309.85,263.97 309.69,263.47 309.51,262.97 309.33,262.47 309.15,261.96 308.95,261.46 308.76,260.96 308.55,260.46 308.35,259.96 308.15,259.45 307.94,258.95 307.74,258.45 307.54,257.95 307.32,257.44 307.09,256.94 306.83,256.44 306.57,255.94 306.30,255.44 306.02,254.93 305.75,254.43 305.47,253.93 305.21,253.43 304.95,252.93 304.71,252.42 304.49,251.92 304.29,251.42 304.12,250.92 303.97,250.42 303.86,249.91 303.76,249.41 303.65,248.91 303.55,248.41 303.45,247.91 303.36,247.40 303.27,246.90 303.19,246.40 303.11,245.90 303.04,245.40 302.97,244.89 302.92,244.39 302.87,243.89 302.84,243.39 302.81,242.89 302.80,242.38 302.81,241.88 302.87,241.38 302.99,240.88 303.16,240.38 303.36,239.87 303.58,239.37 303.81,238.87 304.04,238.37 304.26,237.87 304.47,237.36 304.70,236.86 304.95,236.36 305.21,235.86 305.48,235.36 305.77,234.85 306.08,234.35 306.40,233.85 306.80,233.35 307.25,232.84 307.75,232.34 308.25,231.84 308.73,231.34 309.16,230.84 309.52,230.33 309.78,229.83 309.99,229.33 310.17,228.83 310.33,228.33 310.48,227.82 310.62,227.32 310.76,226.82 310.91,226.32 311.06,225.82 311.20,225.31 311.35,224.81 311.49,224.31 311.64,223.81 311.78,223.31 311.92,222.80 312.06,222.30 312.20,221.80" fill="#E41A1C"/>
<circle cx="312.2" cy="283.7" r="1.2" fill="#E41A1C"/>
<rect x="310.10" y="239.60" width="4.30" height="12.10" fill="#fff"/>
<rect x="309.90" y="244.80" width="4.70" height="1.4" fill="#E41A1C"/>
<polygon points="330.80,221.80 330.88,222.30 330.95,222.80 331.03,223.30 331.10,223.80 331.18,224.31 331.25,224.81 331.32,225.31 331.39,225.81 331.46,226.31 331.54,226.81 331.61,227.31 331.68,227.81 331.75,228.32 331.83,228.82 331.90,229.32 331.98,229.82 332.05,230.32 332.13,230.82 332.21,231.32 332.29,231.82 332.37,232.33 332.45,232.83 332.54,233.33 332.63,233.83 332.72,234.33 332.81,234.83 332.91,235.33 333.01,235.83 333.11,236.34 333.23,236.84 333.35,237.34 333.47,237.84 333.60,238.34 333.73,238.84 333.86,239.34 334.00,239.84 334.14,240.35 334.28,240.85 334.43,241.35 334.57,241.85 334.71,242.35 334.85,242.85 335.00,243.35 335.13,243.85 335.27,244.36 335.41,244.86 335.54,245.36 335.66,245.86 335.79,246.36 335.90,246.86 336.02,247.36 336.12,247.86 336.22,248.37 336.31,248.87 336.40,249.37 336.50,249.87 336.59,250.37 336.69,250.87 336.78,251.37 336.88,251.87 336.97,252.38 337.06,252.88 337.14,253.38 337.22,253.88 337.29,254.38 337.35,254.88 337.40,255.38 337.45,255.88 337.48,256.39 337.50,256.89 337.50,257.39 337.49,257.89 337.46,258.39 337.41,258.89 337.35,259.39 337.28,259.89 337.20,260.40 337.12,260.90 337.02,261.40 336.92,261.90 336.82,262.40 336.71,262.90 336.61,263.40 336.51,263.90 336.41,264.41 336.32,264.91 336.23,265.41 336.14,265.91 336.04,266.41 335.95,266.91 335.85,267.41 335.75,267.91 335.65,268.42 335.55,268.92 335.45,269.42 335.34,269.92 335.24,270.42 335.13,270.92 335.03,271.42 334.92,271.92 334.81,272.43 334.71,272.93 334.60,273.43 334.50,273.93 334.40,274.43 334.29,274.93 334.19,275.43 334.08,275.93 333.97,276.44 333.85,276.94 333.73,277.44 333.61,277.94 333.49,278.44 333.37,278.94 333.25,279.44 333.13,279.94 333.02,280.45 332.91,280.95 332.80,281.45 332.70,281.95 332.61,282.45 332.53,282.95 332.45,283.45 332.38,283.95 332.32,284.46 332.28,284.96 332.23,285.46 332.19,285.96 332.15,286.46 332.11,286.96 332.07,287.46 332.04,287.96 332.00,288.47 331.97,288.97 331.94,289.47 331.91,289.97 331.88,290.47 331.85,290.97 331.82,291.47 331.80,291.97 331.77,292.48 331.75,292.98 331.72,293.48 331.70,293.98 331.68,294.48 331.65,294.98 331.63,295.48 331.61,295.98 331.59,296.49 331.57,296.99 331.54,297.49 331.52,297.99 331.50,298.49 331.48,298.99 331.45,299.49 331.43,299.99 331.41,300.50 331.38,301.00 331.35,301.50 331.33,302.00 331.30,302.50 330.30,302.50 330.27,302.00 330.25,301.50 330.22,301.00 330.19,300.50 330.17,299.99 330.15,299.49 330.12,298.99 330.10,298.49 330.08,297.99 330.06,297.49 330.03,296.99 330.01,296.49 329.99,295.98 329.97,295.48 329.95,294.98 329.92,294.48 329.90,293.98 329.88,293.48 329.85,292.98 329.83,292.48 329.80,291.97 329.78,291.47 329.75,290.97 329.72,290.47 329.69,289.97 329.66,289.47 329.63,288.97 329.60,288.47 329.56,287.96 329.53,287.46 329.49,286.96 329.45,286.46 329.41,285.96 329.37,285.46 329.32,284.96 329.28,284.46 329.22,283.95 329.15,283.45 329.07,282.95 328.99,282.45 328.90,281.95 328.80,281.45 328.69,280.95 328.58,280.45 328.47,279.94 328.35,279.44 328.23,278.94 328.11,278.44 327.99,277.94 327.87,277.44 327.75,276.94 327.63,276.44 327.52,275.93 327.41,275.43 327.31,274.93 327.20,274.43 327.10,273.93 327.00,273.43 326.89,272.93 326.79,272.43 326.68,271.92 326.57,271.42 326.47,270.92 326.36,270.42 326.26,269.92 326.15,269.42 326.05,268.92 325.95,268.42 325.85,267.91 325.75,267.41 325.65,266.91 325.56,266.41 325.46,265.91 325.37,265.41 325.28,264.91 325.19,264.41 325.09,263.90 324.99,263.40 324.89,262.90 324.78,262.40 324.68,261.90 324.58,261.40 324.48,260.90 324.40,260.40 324.32,259.89 324.25,259.39 324.19,258.89 324.14,258.39 324.11,257.89 324.10,257.39 324.10,256.89 324.12,256.39 324.15,255.88 324.20,255.38 324.25,254.88 324.31,254.38 324.38,253.88 324.46,253.38 324.54,252.88 324.63,252.38 324.72,251.87 324.82,251.37 324.91,250.87 325.01,250.37 325.10,249.87 325.20,249.37 325.29,248.87 325.38,248.37 325.48,247.86 325.58,247.36 325.70,246.86 325.81,246.36 325.94,245.86 326.06,245.36 326.19,244.86 326.33,244.36 326.47,243.85 326.60,243.35 326.75,242.85 326.89,242.35 327.03,241.85 327.17,241.35 327.32,240.85 327.46,240.35 327.60,239.84 327.74,239.34 327.87,238.84 328.00,238.34 328.13,237.84 328.25,237.34 328.37,236.84 328.49,236.34 328.59,235.83 328.69,235.33 328.79,234.83 328.88,234.33 328.97,233.83 329.06,233.33 329.15,232.83 329.23,232.33 329.31,231.82 329.39,231.32 329.47,230.82 329.55,230.32 329.62,229.82 329.70,229.32 329.77,228.82 329.85,228.32 329.92,227.81 329.99,227.31 330.06,226.81 330.14,226.31 330.21,225.81 330.28,225.31 330.35,224.81 330.42,224.31 330.50,223.80 330.57,223.30 330.65,222.80 330.72,222.30 330.80,221.80" fill="#377EB8"/>
<circle cx="330.8" cy="290.2" r="1.2" fill="#377EB8"/>
<rect x="328.70" y="248.30" width="4.30" height="16.40" fill="#fff"/>
<rect x="328.50" y="254.30" width="4.70" height="1.4" fill="#377EB8"/>
<polygon points="349.30,221.80 349.45,222.30 349.60,222.80 349.76,223.31 349.92,223.81 350.07,224.31 350.21,224.81 350.34,225.31 350.46,225.82 350.56,226.32 350.65,226.82 350.74,227.32 350.81,227.82 350.88,228.33 350.95,228.83 351.01,229.33 351.07,229.83 351.14,230.33 351.20,230.84 351.26,231.34 351.33,231.84 351.40,232.34 351.48,232.84 351.57,233.35 351.67,233.85 351.78,234.35 351.91,234.85 352.05,235.36 352.21,235.86 352.38,236.36 352.56,236.86 352.75,237.36 352.95,237.87 353.14,238.37 353.34,238.87 353.54,239.37 353.73,239.87 353.92,240.38 354.11,240.88 354.28,241.38 354.44,241.88 354.58,242.38 354.73,242.89 354.89,243.39 355.04,243.89 355.20,244.39 355.35,244.89 355.51,245.40 355.65,245.90 355.79,246.40 355.93,246.90 356.05,247.40 356.17,247.91 356.27,248.41 356.36,248.91 356.43,249.41 356.48,249.91 356.52,250.42 356.56,250.92 356.60,251.42 356.63,251.92 356.66,252.42 356.68,252.93 356.69,253.43 356.70,253.93 356.69,254.43 356.64,254.93 356.57,255.44 356.48,255.94 356.37,256.44 356.26,256.94 356.14,257.44 356.03,257.95 355.93,258.45 355.81,258.95 355.69,259.45 355.57,259.96 355.43,260.46 355.30,260.96 355.16,261.46 355.01,261.96 354.86,262.47 354.71,262.97 354.56,263.47 354.40,263.97 354.24,264.47 354.08,264.98 353.93,265.48 353.77,265.98 353.61,266.48 353.44,266.98 353.25,267.49 353.06,267.99 352.87,268.49 352.67,268.99 352.47,269.49 352.28,270.00 352.10,270.50 351.93,271.00 351.77,271.50 351.63,272.00 351.52,272.51 351.42,273.01 351.33,273.51 351.24,274.01 351.15,274.51 351.07,275.02 351.00,275.52 350.92,276.02 350.86,276.52 350.79,277.02 350.73,277.53 350.68,278.03 350.62,278.53 350.58,279.03 350.54,279.53 350.50,280.04 350.46,280.54 350.43,281.04 350.40,281.54 350.37,282.04 350.34,282.55 350.31,283.05 350.28,283.55 350.26,284.05 350.23,284.56 350.21,285.06 350.19,285.56 350.17,286.06 350.15,286.56 350.13,287.07 350.11,287.57 350.09,288.07 350.07,288.57 350.05,289.07 350.03,289.58 350.01,290.08 350.00,290.58 349.98,291.08 349.96,291.58 349.94,292.09 349.92,292.59 349.90,293.09 349.88,293.59 349.86,294.09 349.84,294.60 349.82,295.10 349.80,295.60 348.80,295.60 348.78,295.10 348.76,294.60 348.74,294.09 348.72,293.59 348.70,293.09 348.68,292.59 348.66,292.09 348.64,291.58 348.62,291.08 348.60,290.58 348.59,290.08 348.57,289.58 348.55,289.07 348.53,288.57 348.51,288.07 348.49,287.57 348.47,287.07 348.45,286.56 348.43,286.06 348.41,285.56 348.39,285.06 348.37,284.56 348.34,284.05 348.32,283.55 348.29,283.05 348.26,282.55 348.23,282.04 348.20,281.54 348.17,281.04 348.14,280.54 348.10,280.04 348.06,279.53 348.02,279.03 347.98,278.53 347.92,278.03 347.87,277.53 347.81,277.02 347.74,276.52 347.68,276.02 347.60,275.52 347.53,275.02 347.45,274.51 347.36,274.01 347.27,273.51 347.18,273.01 347.08,272.51 346.97,272.00 346.83,271.50 346.67,271.00 346.50,270.50 346.32,270.00 346.13,269.49 345.93,268.99 345.73,268.49 345.54,267.99 345.35,267.49 345.16,266.98 344.99,266.48 344.83,265.98 344.67,265.48 344.52,264.98 344.36,264.47 344.20,263.97 344.04,263.47 343.89,262.97 343.74,262.47 343.59,261.96 343.44,261.46 343.30,260.96 343.17,260.46 343.03,259.96 342.91,259.45 342.79,258.95 342.67,258.45 342.57,257.95 342.46,257.44 342.34,256.94 342.23,256.44 342.12,255.94 342.03,255.44 341.96,254.93 341.91,254.43 341.90,253.93 341.91,253.43 341.92,252.93 341.94,252.42 341.97,251.92 342.00,251.42 342.04,250.92 342.08,250.42 342.12,249.91 342.17,249.41 342.24,248.91 342.33,248.41 342.43,247.91 342.55,247.40 342.67,246.90 342.81,246.40 342.95,245.90 343.09,245.40 343.25,244.89 343.40,244.39 343.56,243.89 343.71,243.39 343.87,242.89 344.02,242.38 344.16,241.88 344.32,241.38 344.49,240.88 344.68,240.38 344.87,239.87 345.06,239.37 345.26,238.87 345.46,238.37 345.65,237.87 345.85,237.36 346.04,236.86 346.22,236.36 346.39,235.86 346.55,235.36 346.69,234.85 346.82,234.35 346.93,233.85 347.03,233.35 347.12,232.84 347.20,232.34 347.27,231.84 347.34,231.34 347.40,230.84 347.46,230.33 347.53,229.83 347.59,229.33 347.65,228.83 347.72,228.33 347.79,227.82 347.86,227.32 347.95,226.82 348.04,226.32 348.14,225.82 348.26,225.31 348.39,224.81 348.53,224.31 348.68,223.81 348.84,223.31 349.00,222.80 349.15,222.30 349.30,221.80" fill="#4DAF4A"/>
<rect x="347.70" y="247.10" width="3.80" height="12.70" fill="#fff"/>
<rect x="347.50" y="252.30" width="4.20" height="1.4" fill="#4DAF4A"/>
<polygon points="368.50,221.80 368.55,222.30 368.60,222.80 368.64,223.30 368.69,223.80 368.74,224.30 368.78,224.81 368.83,225.31 368.88,225.81 368.92,226.31 368.97,226.81 369.01,227.31 369.06,227.81 369.11,228.31 369.15,228.81 369.20,229.31 369.25,229.82 369.29,230.32 369.34,230.82 369.39,231.32 369.44,231.82 369.49,232.32 369.54,232.82 369.59,233.32 369.64,233.82 369.70,234.32 369.75,234.82 369.80,235.33 369.86,235.83 369.91,236.33 369.97,236.83 370.03,237.33 370.09,237.83 370.15,238.33 370.22,238.83 370.28,239.33 370.34,239.83 370.41,240.33 370.47,240.84 370.53,241.34 370.60,241.84 370.67,242.34 370.73,242.84 370.80,243.34 370.86,243.84 370.93,244.34 371.00,244.84 371.06,245.34 371.13,245.85 371.19,246.35 371.26,246.85 371.32,247.35 371.38,247.85 371.44,248.35 371.51,248.85 371.57,249.35 371.63,249.85 371.69,250.35 371.76,250.85 371.82,251.36 371.88,251.86 371.95,252.36 372.01,252.86 372.07,253.36 372.13,253.86 372.20,254.36 372.26,254.86 372.32,255.36 372.38,255.86 372.43,256.36 372.49,256.87 372.54,257.37 372.60,257.87 372.65,258.37 372.70,258.87 372.75,259.37 372.80,259.87 372.85,260.37 372.91,260.87 372.96,261.37 373.02,261.88 373.06,262.38 373.11,262.88 373.14,263.38 373.17,263.88 373.19,264.38 373.20,264.88 373.20,265.38 373.19,265.88 373.18,266.38 373.17,266.88 373.15,267.39 373.13,267.89 373.11,268.39 373.08,268.89 373.06,269.39 373.03,269.89 373.00,270.39 372.98,270.89 372.95,271.39 372.93,271.89 372.90,272.39 372.88,272.90 372.86,273.40 372.85,273.90 372.83,274.40 372.81,274.90 372.79,275.40 372.77,275.90 372.75,276.40 372.74,276.90 372.72,277.40 372.70,277.91 372.68,278.41 372.66,278.91 372.65,279.41 372.63,279.91 372.61,280.41 372.59,280.91 372.56,281.41 372.54,281.91 372.52,282.41 372.49,282.91 372.47,283.42 372.44,283.92 372.42,284.42 372.39,284.92 372.36,285.42 372.32,285.92 372.29,286.42 372.25,286.92 372.20,287.42 372.16,287.92 372.12,288.42 372.07,288.93 372.02,289.43 371.97,289.93 371.92,290.43 371.86,290.93 371.81,291.43 371.75,291.93 371.70,292.43 371.64,292.93 371.58,293.43 371.53,293.94 371.47,294.44 371.41,294.94 371.35,295.44 371.29,295.94 371.24,296.44 371.18,296.94 371.12,297.44 371.07,297.94 371.01,298.44 370.96,298.94 370.91,299.45 370.85,299.95 370.81,300.45 370.76,300.95 370.71,301.45 370.66,301.95 370.60,302.45 370.55,302.95 370.50,303.45 370.45,303.95 370.40,304.45 370.34,304.96 370.29,305.46 370.24,305.96 370.19,306.46 370.14,306.96 370.09,307.46 370.04,307.96 369.99,308.46 369.94,308.96 369.89,309.46 369.84,309.97 369.80,310.47 369.75,310.97 369.71,311.47 369.67,311.97 369.63,312.47 369.59,312.97 369.56,313.47 369.52,313.97 369.49,314.47 369.46,314.97 369.43,315.48 369.41,315.98 369.38,316.48 369.36,316.98 369.34,317.48 369.31,317.98 369.29,318.48 369.27,318.98 369.25,319.48 369.22,319.98 369.20,320.48 369.17,320.99 369.14,321.49 369.11,321.99 369.08,322.49 369.04,322.99 369.00,323.49 368.96,323.99 368.91,324.49 368.86,324.99 368.81,325.49 368.76,326.00 368.70,326.50 368.65,327.00 368.60,327.50 368.55,328.00 368.50,328.50 368.50,328.50 368.45,328.00 368.40,327.50 368.35,327.00 368.30,326.50 368.24,326.00 368.19,325.49 368.14,324.99 368.09,324.49 368.04,323.99 368.00,323.49 367.96,322.99 367.92,322.49 367.89,321.99 367.86,321.49 367.83,320.99 367.80,320.48 367.78,319.98 367.75,319.48 367.73,318.98 367.71,318.48 367.69,317.98 367.66,317.48 367.64,316.98 367.62,316.48 367.59,315.98 367.57,315.48 367.54,314.97 367.51,314.47 367.48,313.97 367.44,313.47 367.41,312.97 367.37,312.47 367.33,311.97 367.29,311.47 367.25,310.97 367.20,310.47 367.16,309.97 367.11,309.46 367.06,308.96 367.01,308.46 366.96,307.96 366.91,307.46 366.86,306.96 366.81,306.46 366.76,305.96 366.71,305.46 366.66,304.96 366.60,304.45 366.55,303.95 366.50,303.45 366.45,302.95 366.40,302.45 366.34,301.95 366.29,301.45 366.24,300.95 366.19,300.45 366.15,299.95 366.09,299.45 366.04,298.94 365.99,298.44 365.93,297.94 365.88,297.44 365.82,296.94 365.76,296.44 365.71,295.94 365.65,295.44 365.59,294.94 365.53,294.44 365.47,293.94 365.42,293.43 365.36,292.93 365.30,292.43 365.25,291.93 365.19,291.43 365.14,290.93 365.08,290.43 365.03,289.93 364.98,289.43 364.93,288.93 364.88,288.42 364.84,287.92 364.80,287.42 364.75,286.92 364.71,286.42 364.68,285.92 364.64,285.42 364.61,284.92 364.58,284.42 364.56,283.92 364.53,283.42 364.51,282.91 364.48,282.41 364.46,281.91 364.44,281.41 364.41,280.91 364.39,280.41 364.37,279.91 364.35,279.41 364.34,278.91 364.32,278.41 364.30,277.91 364.28,277.40 364.26,276.90 364.25,276.40 364.23,275.90 364.21,275.40 364.19,274.90 364.17,274.40 364.15,273.90 364.14,273.40 364.12,272.90 364.10,272.39 364.07,271.89 364.05,271.39 364.02,270.89 364.00,270.39 363.97,269.89 363.94,269.39 363.92,268.89 363.89,268.39 363.87,267.89 363.85,267.39 363.83,266.88 363.82,266.38 363.81,265.88 363.80,265.38 363.80,264.88 363.81,264.38 363.83,263.88 363.86,263.38 363.89,262.88 363.94,262.38 363.98,261.88 364.04,261.37 364.09,260.87 364.15,260.37 364.20,259.87 364.25,259.37 364.30,258.87 364.35,258.37 364.40,257.87 364.46,257.37 364.51,256.87 364.57,256.36 364.62,255.86 364.68,255.36 364.74,254.86 364.80,254.36 364.87,253.86 364.93,253.36 364.99,252.86 365.05,252.36 365.12,251.86 365.18,251.36 365.24,250.85 365.31,250.35 365.37,249.85 365.43,249.35 365.49,248.85 365.56,248.35 365.62,247.85 365.68,247.35 365.74,246.85 365.81,246.35 365.87,245.85 365.94,245.34 366.00,244.84 366.07,244.34 366.14,243.84 366.20,243.34 366.27,242.84 366.33,242.34 366.40,241.84 366.47,241.34 366.53,240.84 366.59,240.33 366.66,239.83 366.72,239.33 366.78,238.83 366.85,238.33 366.91,237.83 366.97,237.33 367.03,236.83 367.09,236.33 367.14,235.83 367.20,235.33 367.25,234.82 367.30,234.32 367.36,233.82 367.41,233.32 367.46,232.82 367.51,232.32 367.56,231.82 367.61,231.32 367.66,230.82 367.71,230.32 367.75,229.82 367.80,229.31 367.85,228.81 367.89,228.31 367.94,227.81 367.99,227.31 368.03,226.81 368.08,226.31 368.12,225.81 368.17,225.31 368.22,224.81 368.26,224.30 368.31,223.80 368.36,223.30 368.40,222.80 368.45,222.30 368.50,221.80" fill="#984EA3"/>
<rect x="366.80" y="255.70" width="4.60" height="25.10" fill="#fff"/>
<rect x="366.60" y="266.10" width="5.00" height="1.4" fill="#984EA3"/>
<polygon points="387.20,221.80 387.49,222.30 387.79,222.80 388.07,223.30 388.32,223.80 388.51,224.30 388.67,224.80 388.81,225.30 388.95,225.80 389.08,226.31 389.22,226.81 389.36,227.31 389.49,227.81 389.62,228.31 389.75,228.81 389.88,229.31 390.01,229.81 390.13,230.31 390.26,230.81 390.38,231.31 390.50,231.81 390.62,232.31 390.73,232.81 390.85,233.31 390.96,233.81 391.07,234.32 391.19,234.82 391.32,235.32 391.45,235.82 391.58,236.32 391.71,236.82 391.84,237.32 391.97,237.82 392.09,238.32 392.20,238.82 392.30,239.32 392.39,239.82 392.47,240.32 392.53,240.82 392.57,241.32 392.60,241.82 392.60,242.32 392.60,242.83 392.60,243.33 392.60,243.83 392.60,244.33 392.60,244.83 392.60,245.33 392.60,245.83 392.60,246.33 392.60,246.83 392.60,247.33 392.60,247.83 392.60,248.33 392.60,248.83 392.60,249.33 392.60,249.83 392.60,250.33 392.59,250.84 392.56,251.34 392.53,251.84 392.49,252.34 392.44,252.84 392.38,253.34 392.31,253.84 392.24,254.34 392.16,254.84 392.08,255.34 392.00,255.84 391.91,256.34 391.82,256.84 391.73,257.34 391.65,257.84 391.55,258.34 391.45,258.84 391.33,259.35 391.19,259.85 391.04,260.35 390.88,260.85 390.72,261.35 390.54,261.85 390.37,262.35 390.20,262.85 390.03,263.35 389.86,263.85 389.70,264.35 389.55,264.85 389.41,265.35 389.28,265.85 389.17,266.35 389.06,266.85 388.95,267.36 388.84,267.86 388.73,268.36 388.62,268.86 388.52,269.36 388.43,269.86 388.35,270.36 388.27,270.86 388.20,271.36 388.15,271.86 388.11,272.36 388.09,272.86 388.07,273.36 388.05,273.86 388.03,274.36 388.01,274.86 387.99,275.36 387.98,275.87 387.97,276.37 387.96,276.87 387.94,277.37 387.93,277.87 387.93,278.37 387.92,278.87 387.91,279.37 387.90,279.87 387.89,280.37 387.89,280.87 387.88,281.37 387.88,281.87 387.87,282.37 387.86,282.87 387.86,283.37 387.85,283.88 387.85,284.38 387.84,284.88 387.84,285.38 387.83,285.88 387.83,286.38 387.82,286.88 387.82,287.38 387.81,287.88 387.81,288.38 387.81,288.88 387.80,289.38 387.80,289.88 387.80,290.38 387.79,290.88 387.79,291.38 387.78,291.88 387.78,292.39 387.78,292.89 387.77,293.39 387.77,293.89 387.77,294.39 387.77,294.89 387.76,295.39 387.76,295.89 387.76,296.39 387.75,296.89 387.75,297.39 387.75,297.89 387.74,298.39 387.74,298.89 387.74,299.39 387.73,299.89 387.73,300.40 387.73,300.90 387.72,301.40 387.72,301.90 387.72,302.40 387.71,302.90 387.71,303.40 387.70,303.90 387.70,304.40 386.70,304.40 386.70,303.90 386.69,303.40 386.69,302.90 386.68,302.40 386.68,301.90 386.68,301.40 386.67,300.90 386.67,300.40 386.67,299.89 386.66,299.39 386.66,298.89 386.66,298.39 386.65,297.89 386.65,297.39 386.65,296.89 386.64,296.39 386.64,295.89 386.64,295.39 386.63,294.89 386.63,294.39 386.63,293.89 386.63,293.39 386.62,292.89 386.62,292.39 386.62,291.88 386.61,291.38 386.61,290.88 386.60,290.38 386.60,289.88 386.60,289.38 386.59,288.88 386.59,288.38 386.59,287.88 386.58,287.38 386.58,286.88 386.57,286.38 386.57,285.88 386.56,285.38 386.56,284.88 386.55,284.38 386.55,283.88 386.54,283.37 386.54,282.87 386.53,282.37 386.52,281.87 386.52,281.37 386.51,280.87 386.51,280.37 386.50,279.87 386.49,279.37 386.48,278.87 386.47,278.37 386.47,277.87 386.46,277.37 386.44,276.87 386.43,276.37 386.42,275.87 386.41,275.36 386.39,274.86 386.37,274.36 386.35,273.86 386.33,273.36 386.31,272.86 386.29,272.36 386.25,271.86 386.20,271.36 386.13,270.86 386.05,270.36 385.97,269.86 385.88,269.36 385.78,268.86 385.67,268.36 385.56,267.86 385.45,267.36 385.34,266.85 385.23,266.35 385.12,265.85 384.99,265.35 384.85,264.85 384.70,264.35 384.54,263.85 384.37,263.35 384.20,262.85 384.03,262.35 383.86,261.85 383.68,261.35 383.52,260.85 383.36,260.35 383.21,259.85 383.07,259.35 382.95,258.84 382.85,258.34 382.75,257.84 382.67,257.34 382.58,256.84 382.49,256.34 382.40,255.84 382.32,255.34 382.24,254.84 382.16,254.34 382.09,253.84 382.02,253.34 381.96,252.84 381.91,252.34 381.87,251.84 381.84,251.34 381.81,250.84 381.80,250.33 381.80,249.83 381.80,249.33 381.80,248.83 381.80,248.33 381.80,247.83 381.80,247.33 381.80,246.83 381.80,246.33 381.80,245.83 381.80,245.33 381.80,244.83 381.80,244.33 381.80,243.83 381.80,243.33 381.80,242.83 381.80,242.32 381.80,241.82 381.83,241.32 381.87,240.82 381.93,240.32 382.01,239.82 382.10,239.32 382.20,238.82 382.31,238.32 382.43,237.82 382.56,237.32 382.69,236.82 382.82,236.32 382.95,235.82 383.08,235.32 383.21,234.82 383.33,234.32 383.44,233.81 383.55,233.31 383.67,232.81 383.78,232.31 383.90,231.81 384.02,231.31 384.14,230.81 384.27,230.31 384.39,229.81 384.52,229.31 384.65,228.81 384.78,228.31 384.91,227.81 385.04,227.31 385.18,226.81 385.32,226.31 385.45,225.80 385.59,225.30 385.73,224.80 385.89,224.30 386.08,223.80 386.33,223.30 386.61,222.80 386.91,222.30 387.20,221.80" fill="#FF7F00"/>
<circle cx="387.2" cy="290.6" r="1.2" fill="#FF7F00"/>
<rect x="385.50" y="238.50" width="3.80" height="19.30" fill="#fff"/>
<rect x="385.30" y="248.60" width="4.20" height="1.4" fill="#FF7F00"/>
<polygon points="405.80,221.80 405.95,222.30 406.10,222.80 406.26,223.31 406.41,223.81 406.56,224.31 406.71,224.81 406.84,225.31 406.96,225.82 407.06,226.32 407.15,226.82 407.23,227.32 407.30,227.83 407.36,228.33 407.43,228.83 407.50,229.33 407.59,229.83 407.69,230.34 407.81,230.84 407.98,231.34 408.21,231.84 408.48,232.34 408.77,232.85 409.05,233.35 409.33,233.85 409.57,234.35 409.82,234.86 410.06,235.36 410.30,235.86 410.55,236.36 410.78,236.86 411.01,237.37 411.24,237.87 411.47,238.37 411.72,238.87 411.97,239.37 412.22,239.88 412.45,240.38 412.66,240.88 412.84,241.38 412.96,241.89 413.04,242.39 413.11,242.89 413.17,243.39 413.22,243.89 413.26,244.40 413.29,244.90 413.30,245.40 413.28,245.90 413.23,246.40 413.15,246.91 413.05,247.41 412.93,247.91 412.81,248.41 412.68,248.91 412.55,249.42 412.44,249.92 412.33,250.42 412.23,250.92 412.12,251.43 412.01,251.93 411.90,252.43 411.79,252.93 411.68,253.43 411.57,253.94 411.45,254.44 411.34,254.94 411.22,255.44 411.11,255.94 410.99,256.45 410.87,256.95 410.75,257.45 410.63,257.95 410.51,258.46 410.39,258.96 410.26,259.46 410.13,259.96 409.99,260.46 409.85,260.97 409.71,261.47 409.58,261.97 409.44,262.47 409.31,262.97 409.18,263.48 409.06,263.98 408.94,264.48 408.83,264.98 408.73,265.49 408.64,265.99 408.55,266.49 408.48,266.99 408.40,267.49 408.34,268.00 408.27,268.50 408.21,269.00 408.15,269.50 408.09,270.00 408.04,270.51 407.98,271.01 407.92,271.51 407.87,272.01 407.81,272.51 407.75,273.02 407.69,273.52 407.63,274.02 407.57,274.52 407.51,275.03 407.45,275.53 407.39,276.03 407.34,276.53 407.28,277.03 407.23,277.54 407.17,278.04 407.13,278.54 407.08,279.04 407.04,279.54 407.00,280.05 406.96,280.55 406.92,281.05 406.89,281.55 406.86,282.06 406.83,282.56 406.80,283.06 406.77,283.56 406.74,284.06 406.71,284.57 406.68,285.07 406.66,285.57 406.63,286.07 406.60,286.57 406.58,287.08 406.55,287.58 406.53,288.08 406.51,288.58 406.48,289.09 406.46,289.59 406.43,290.09 406.41,290.59 406.38,291.09 406.35,291.60 406.33,292.10 406.30,292.60 405.30,292.60 405.27,292.10 405.25,291.60 405.22,291.09 405.19,290.59 405.17,290.09 405.14,289.59 405.12,289.09 405.09,288.58 405.07,288.08 405.05,287.58 405.02,287.08 405.00,286.57 404.97,286.07 404.94,285.57 404.92,285.07 404.89,284.57 404.86,284.06 404.83,283.56 404.80,283.06 404.77,282.56 404.74,282.06 404.71,281.55 404.68,281.05 404.64,280.55 404.60,280.05 404.56,279.54 404.52,279.04 404.47,278.54 404.43,278.04 404.37,277.54 404.32,277.03 404.26,276.53 404.21,276.03 404.15,275.53 404.09,275.03 404.03,274.52 403.97,274.02 403.91,273.52 403.85,273.02 403.79,272.51 403.73,272.01 403.68,271.51 403.62,271.01 403.56,270.51 403.51,270.00 403.45,269.50 403.39,269.00 403.33,268.50 403.26,268.00 403.20,267.49 403.12,266.99 403.05,266.49 402.96,265.99 402.87,265.49 402.77,264.98 402.66,264.48 402.54,263.98 402.42,263.48 402.29,262.97 402.16,262.47 402.02,261.97 401.89,261.47 401.75,260.97 401.61,260.46 401.47,259.96 401.34,259.46 401.21,258.96 401.09,258.46 400.97,257.95 400.85,257.45 400.73,256.95 400.61,256.45 400.49,255.94 400.38,255.44 400.26,254.94 400.15,254.44 400.03,253.94 399.92,253.43 399.81,252.93 399.70,252.43 399.59,251.93 399.48,251.43 399.37,250.92 399.27,250.42 399.16,249.92 399.05,249.42 398.92,248.91 398.79,248.41 398.67,247.91 398.55,247.41 398.45,246.91 398.37,246.40 398.32,245.90 398.30,245.40 398.31,244.90 398.34,244.40 398.38,243.89 398.43,243.39 398.49,242.89 398.56,242.39 398.64,241.89 398.76,241.38 398.94,240.88 399.15,240.38 399.38,239.88 399.63,239.37 399.88,238.87 400.13,238.37 400.36,237.87 400.59,237.37 400.82,236.86 401.05,236.36 401.30,235.86 401.54,235.36 401.78,234.86 402.03,234.35 402.27,233.85 402.55,233.35 402.83,232.85 403.12,232.34 403.39,231.84 403.62,231.34 403.79,230.84 403.91,230.34 404.01,229.83 404.10,229.33 404.17,228.83 404.24,228.33 404.30,227.83 404.37,227.32 404.45,226.82 404.54,226.32 404.64,225.82 404.76,225.31 404.89,224.81 405.04,224.31 405.19,223.81 405.34,223.31 405.50,222.80 405.65,222.30 405.80,221.80" fill="#DAA520"/>
<rect x="404.50" y="242.10" width="3.70" height="15.70" fill="#fff"/>
<rect x="404.30" y="248.10" width="4.10" height="1.4" fill="#DAA520"/></svg></div></body></html>
